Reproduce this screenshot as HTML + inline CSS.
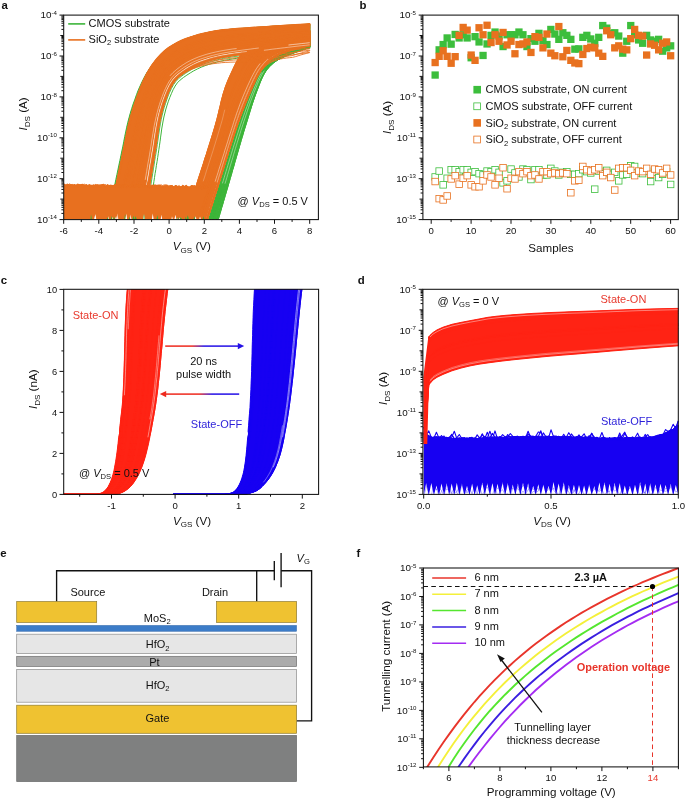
<!DOCTYPE html>
<html lang="en"><head><meta charset="utf-8"><title>Figure</title>
<style>html,body{margin:0;padding:0;background:#fff}svg{display:block}text{font-family:"Liberation Sans", Arial, Helvetica, sans-serif}</style>
</head><body>
<svg width="685" height="800" viewBox="0 0 685 800">
<rect width="685" height="800" fill="#fff"/>
<g id="panel-a">
<clipPath id="ca"><rect x="63.7" y="15.1" width="254.7" height="204.5"/></clipPath>
<g clip-path="url(#ca)" stroke-linejoin="round">
<polygon points="207.1,222 208.1,219 209.1,216 210,213 211,210 211.9,207 212.9,204 213.8,201 214.8,198.1 215.7,195.1 216.7,192.1 217.6,189.1 218.6,186.1 219.5,183.1 220.5,180.1 221.4,177.1 222.3,174.1 223.3,171.1 224.2,168.1 225.1,165.1 226,162.1 227,159.1 227.9,156.1 228.8,153 229.8,150 230.7,147 231.6,144.1 232.6,141.1 233.6,138.1 234.5,135.1 235.5,132.1 236.5,129.1 237.5,126.2 238.6,123.2 239.6,120.2 240.7,117.3 241.8,114.3 242.9,111.4 244,108.5 245.1,105.5 246.3,102.6 247.5,99.7 248.7,96.8 249.9,93.9 251.2,91 252.4,88.1 253.7,85.2 255,82.3 256.4,79.5 257.8,76.7 259.3,73.9 260.9,71.3 262.7,68.8 264.7,66.2 266.8,63.8 269,61.6 271.4,59.7 274,57.9 276.7,56.3 279.6,54.9 282.4,53.7 285.4,52.6 288.4,51.6 291.4,50.7 294.4,49.8 297.4,49 300.5,48.2 303.5,47.4 306.6,46.7 309.7,46.1 309.7,47.2 306.8,48.1 303.8,49 300.9,49.9 298,50.9 295.2,51.9 292.3,52.9 289.4,53.9 286.5,55 283.7,56.2 280.9,57.5 278.2,58.9 275.6,60.4 273.1,62.2 270.8,64.2 268.6,66.5 266.6,68.8 264.9,71.2 263.3,73.8 261.9,76.4 260.5,79.2 259.3,82 258.1,84.9 257,87.8 255.9,90.7 254.8,93.5 253.7,96.3 252.7,99.2 251.7,102.1 250.7,105 249.7,107.9 248.8,110.8 247.8,113.7 246.9,116.6 246,119.5 245,122.4 244.1,125.4 243.2,128.3 242.3,131.2 241.4,134.1 240.5,137 239.6,140 238.7,142.9 237.9,145.8 237,148.7 236.1,151.7 235.3,154.6 234.4,157.5 233.6,160.5 232.7,163.4 231.9,166.3 231,169.3 230.2,172.2 229.3,175.1 228.4,178.1 227.6,181 226.7,183.9 225.8,186.9 225,189.8 224.1,192.7 223.2,195.6 222.4,198.6 221.5,201.5 220.6,204.4 219.7,207.4 218.9,210.3 218,213.2 217.1,216.1 216.3,219.1 215.4,222" fill="#3DB53A" />
<polyline points="216.5,222 217.3,219.1 218.2,216.2 219,213.2 219.9,210.3 220.8,207.4 221.6,204.5 222.5,201.6 223.3,198.6 224.2,195.7 225.1,192.8 225.9,189.9 226.8,187 227.6,184 228.5,181.1 229.4,178.2 230.2,175.3 231,172.3 231.9,169.4 232.7,166.5 233.6,163.6 234.4,160.7 235.3,157.7 236.1,154.8 237,151.9 237.8,149 238.7,146 239.5,143.1 240.4,140.2 241.3,137.3 242.1,134.4 243,131.5 243.9,128.5 244.8,125.6 245.7,122.7 246.6,119.8 247.6,116.9 248.5,114 249.4,111.1 250.3,108.2 251.2,105.3 252.2,102.4 253.2,99.5 254.2,96.7 255.2,93.8 256.3,91 257.4,88.1 258.5,85.2 259.7,82.3 260.9,79.5 262.2,76.7 263.6,74.1 265.1,71.5 266.8,69.1 268.8,66.8 271,64.6 273.4,62.6 275.8,60.8 278.3,59.2 281.1,57.8 283.9,56.5 286.7,55.3 289.5,54.2 292.4,53.2 295.2,52.2 298.1,51.2 301,50.2 303.9,49.2 306.8,48.3 309.7,47.3 309.7,37.3 305.3,37.7 300.9,38.1 296.5,38.5 292.1,38.9 287.7,39.3 283.3,39.8 278.9,40.2 274.5,40.6 270.1,41.1 265.8,41.5 261.4,42 257,42.4 252.6,42.9 248.2,43.4 243.8,43.9 239.4,44.4 235,44.9 230.7,45.5 226.3,46.1 221.9,46.8 217.6,47.7 213.3,48.6 209,49.6 204.7,50.8 200.5,52.1 196.3,53.6 192.2,55.2 188.2,57 184.3,59.2 180.5,61.5 176.9,64.1 173.5,66.8 170.2,69.8 167.2,73.1 164.7,76.6 162.4,80.4 160.4,84.4 158.6,88.4 156.9,92.5 155.4,96.7 153.9,100.8 152.5,105.1 151.3,109.3 150.1,113.5 149.1,117.8 148.1,122.1 147.2,126.4 146.3,130.7 145.6,135.1 144.8,139.4 144.1,143.8 143.3,148.2 142.6,152.5 141.8,156.8 141,161.2 140.2,165.5 139.4,169.9 138.6,174.2 137.8,178.6 137,182.9 136.2,187.2 135.5,191.6 134.7,195.9 133.9,200.3 133.1,204.6 132.3,209 131.6,213.3 130.8,217.7 130,222" fill="none" stroke="#3DB53A" stroke-width="1.0" />
<polyline points="209.1,222 210,219 210.9,216 211.9,213.1 212.8,210.1 213.7,207.1 214.7,204.1 215.6,201.2 216.5,198.2 217.5,195.2 218.4,192.2 219.4,189.2 220.3,186.3 221.2,183.3 222.1,180.3 223.1,177.3 224,174.3 224.9,171.3 225.8,168.4 226.7,165.4 227.6,162.4 228.5,159.4 229.4,156.4 230.3,153.4 231.2,150.4 232.2,147.4 233.1,144.5 234,141.5 235,138.5 235.9,135.5 236.9,132.6 237.9,129.6 238.9,126.7 239.9,123.7 240.9,120.8 241.9,117.8 243,114.9 244,111.9 245.1,109 246.2,106.1 247.3,103.2 248.4,100.2 249.6,97.4 250.8,94.5 252,91.6 253.2,88.7 254.5,85.8 255.7,82.9 257.1,80.1 258.4,77.3 259.9,74.5 261.5,71.9 263.2,69.3 265.1,66.8 267.2,64.4 269.4,62.2 271.8,60.3 274.4,58.5 277.1,56.9 279.9,55.5 282.7,54.3 285.6,53.2 288.6,52.1 291.6,51.2 294.6,50.3 297.6,49.4 300.6,48.6 303.6,47.8 306.6,47 309.7,46.3 309.7,40.3 305.4,40.7 301.1,41.1 296.8,41.6 292.5,42 288.2,42.4 283.9,42.9 279.6,43.4 275.3,43.8 271,44.3 266.7,44.8 262.4,45.3 258.1,45.8 253.8,46.3 249.5,46.8 245.2,47.3 240.9,47.8 236.6,48.4 232.3,49 228.1,49.6 223.8,50.3 219.5,51.1 215.3,52 211.1,53 206.9,54.2 202.7,55.5 198.7,56.9 194.7,58.5 190.7,60.3 186.9,62.3 183.2,64.6 179.6,67.1 176.2,69.7 172.9,72.6 170,75.8 167.5,79.2 165.3,83 163.4,86.9 161.6,90.9 160,94.9 158.6,98.9 157.2,103.1 155.9,107.2 154.7,111.4 153.7,115.6 152.7,119.8 151.8,124 151,128.2 150.2,132.5 149.5,136.7 148.8,141 148.1,145.3 147.4,149.6 146.7,153.8 145.9,158.1 145.2,162.3 144.4,166.6 143.7,170.9 142.9,175.1 142.2,179.4 141.5,183.6 140.7,187.9 140,192.2 139.2,196.4 138.5,200.7 137.8,205 137,209.2 136.3,213.5 135.6,217.7 134.8,222" fill="none" stroke="#3DB53A" stroke-width="1.0" />
<polyline points="216.2,222 217.1,219.1 217.9,216.2 218.8,213.2 219.7,210.3 220.5,207.4 221.4,204.5 222.2,201.5 223.1,198.6 224,195.7 224.8,192.8 225.7,189.9 226.6,186.9 227.4,184 228.3,181.1 229.1,178.2 230,175.2 230.8,172.3 231.7,169.4 232.5,166.5 233.4,163.5 234.2,160.6 235.1,157.7 235.9,154.8 236.8,151.8 237.6,148.9 238.5,146 239.3,143.1 240.2,140.1 241.1,137.2 242,134.3 242.9,131.4 243.7,128.5 244.6,125.6 245.6,122.7 246.5,119.8 247.4,116.9 248.3,113.9 249.2,111 250.2,108.1 251.1,105.2 252.1,102.3 253,99.5 254.1,96.6 255.1,93.7 256.2,90.9 257.3,88 258.4,85.1 259.6,82.3 260.8,79.4 262.1,76.7 263.5,74 265.1,71.5 266.8,69.1 268.8,66.7 271,64.5 273.3,62.5 275.7,60.7 278.3,59.1 281,57.7 283.8,56.4 286.6,55.2 289.5,54.1 292.3,53.1 295.2,52.1 298.1,51.1 301,50.1 303.9,49.2 306.8,48.2 309.7,47.3 309.7,30.9 305.1,31.2 300.5,31.6 295.9,31.9 291.3,32.3 286.7,32.6 282.1,33 277.5,33.3 272.9,33.7 268.3,34.1 263.8,34.5 259.2,34.9 254.6,35.3 250,35.7 245.4,36.1 240.8,36.5 236.2,37 231.6,37.5 227.1,38 222.5,38.6 218,39.3 213.4,40.2 208.9,41.2 204.4,42.3 200,43.5 195.6,44.9 191.2,46.4 187,48.1 182.8,50.1 178.7,52.4 174.8,54.9 171.1,57.6 167.6,60.5 164.4,63.8 161.3,67.3 158.6,71 156.1,75 153.9,79 152,83.1 150.1,87.4 148.4,91.7 146.8,96 145.3,100.4 143.9,104.8 142.5,109.2 141.2,113.6 140.1,118 139,122.5 138,127 137,131.5 136.2,136 135.3,140.6 134.5,145.1 133.7,149.6 132.8,154.2 131.9,158.7 131,163.2 130.1,167.7 129.3,172.3 128.4,176.8 127.5,181.3 126.6,185.8 125.7,190.3 124.9,194.9 124,199.4 123.1,203.9 122.2,208.4 121.3,213 120.5,217.5 119.6,222" fill="none" stroke="#3DB53A" stroke-width="1.0" />
<polyline points="215.6,222 216.5,219.1 217.4,216.1 218.2,213.2 219.1,210.3 220,207.4 220.8,204.4 221.7,201.5 222.6,198.6 223.4,195.7 224.3,192.7 225.2,189.8 226.1,186.9 226.9,184 227.8,181 228.6,178.1 229.5,175.2 230.4,172.2 231.2,169.3 232.1,166.4 232.9,163.4 233.8,160.5 234.6,157.6 235.5,154.6 236.3,151.7 237.2,148.8 238,145.9 238.9,142.9 239.8,140 240.7,137.1 241.6,134.2 242.4,131.2 243.3,128.3 244.3,125.4 245.2,122.5 246.1,119.6 247,116.7 248,113.8 248.9,110.9 249.8,108 250.8,105.1 251.8,102.2 252.8,99.3 253.8,96.4 254.9,93.6 256,90.7 257.1,87.9 258.2,85 259.4,82.1 260.6,79.2 261.9,76.5 263.4,73.8 264.9,71.3 266.7,68.9 268.7,66.5 270.9,64.3 273.2,62.3 275.6,60.5 278.2,58.9 280.9,57.5 283.7,56.3 286.6,55.1 289.4,54 292.3,52.9 295.2,51.9 298.1,51 301,50 303.9,49 306.8,48.1 309.7,47.2 309.7,25.1 304.9,25.4 300.1,25.6 295.4,25.9 290.6,26.2 285.8,26.5 281,26.8 276.3,27.1 271.5,27.5 266.7,27.8 261.9,28.1 257.2,28.5 252.4,28.8 247.6,29.1 242.8,29.4 238.1,29.8 233.3,30.2 228.5,30.7 223.8,31.2 219.1,31.7 214.3,32.5 209.6,33.4 204.9,34.5 200.3,35.6 195.7,36.9 191.1,38.3 186.6,40 182.2,41.8 177.9,43.8 173.6,46.2 169.6,48.8 165.8,51.7 162.3,54.8 159.1,58.3 156,62 153.1,66 150.5,70 148.1,74.1 145.9,78.4 144,82.7 142.1,87.2 140.4,91.7 138.7,96.2 137.1,100.7 135.6,105.2 134.1,109.8 132.8,114.4 131.5,119 130.4,123.6 129.3,128.3 128.3,132.9 127.4,137.6 126.5,142.3 125.6,147 124.6,151.7 123.7,156.4 122.7,161.1 121.7,165.8 120.8,170.5 119.8,175.2 118.8,179.8 117.9,184.5 116.9,189.2 115.9,193.9 115,198.6 114,203.3 113,207.9 112.1,212.6 111.1,217.3 110.1,222" fill="none" stroke="#3DB53A" stroke-width="1.0" />
<polyline points="211.7,222 212.7,219 213.6,216.1 214.5,213.1 215.4,210.2 216.3,207.2 217.2,204.3 218.1,201.3 219,198.3 219.9,195.4 220.8,192.4 221.7,189.5 222.6,186.5 223.5,183.6 224.4,180.6 225.3,177.6 226.2,174.7 227.1,171.7 228,168.7 228.9,165.8 229.8,162.8 230.6,159.8 231.5,156.9 232.4,153.9 233.3,151 234.2,148 235.1,145 236,142.1 236.9,139.1 237.9,136.2 238.8,133.2 239.7,130.3 240.7,127.3 241.7,124.4 242.6,121.5 243.6,118.5 244.6,115.6 245.6,112.7 246.6,109.8 247.7,106.8 248.7,103.9 249.8,101 250.9,98.1 252,95.3 253.2,92.4 254.3,89.5 255.5,86.7 256.7,83.8 258,80.9 259.3,78.1 260.7,75.3 262.3,72.7 263.9,70.1 265.7,67.7 267.8,65.3 270,63.1 272.4,61.1 274.9,59.3 277.5,57.7 280.3,56.3 283.1,55.1 286,53.9 288.9,52.9 291.9,51.9 294.8,51 297.8,50.1 300.7,49.2 303.7,48.3 306.7,47.5 309.7,46.7 309.7,40.7 305.4,41.1 301.1,41.6 296.8,42 292.5,42.4 288.2,42.9 283.9,43.4 279.7,43.8 275.4,44.3 271.1,44.8 266.8,45.3 262.5,45.7 258.2,46.2 254,46.7 249.7,47.2 245.4,47.8 241.1,48.3 236.8,48.9 232.6,49.5 228.3,50.1 224,50.8 219.8,51.6 215.6,52.5 211.4,53.5 207.2,54.7 203.1,56 199,57.4 195,58.9 191.1,60.7 187.3,62.8 183.6,65.1 180,67.5 176.6,70.1 173.3,73 170.4,76.2 167.9,79.6 165.7,83.3 163.8,87.2 162.1,91.2 160.5,95.2 159,99.3 157.6,103.4 156.4,107.5 155.2,111.7 154.2,115.8 153.2,120 152.3,124.2 151.5,128.5 150.8,132.7 150.1,137 149.4,141.2 148.7,145.5 148,149.8 147.3,154 146.5,158.3 145.8,162.5 145,166.8 144.3,171 143.6,175.3 142.8,179.5 142.1,183.8 141.3,188 140.6,192.3 139.9,196.5 139.2,200.7 138.4,205 137.7,209.2 137,213.5 136.2,217.7 135.5,222" fill="none" stroke="#3DB53A" stroke-width="1.0" />
<polyline points="209.7,222 210.6,219 211.5,216.1 212.4,213.1 213.4,210.1 214.3,207.1 215.2,204.2 216.2,201.2 217.1,198.2 218,195.2 218.9,192.3 219.9,189.3 220.8,186.3 221.7,183.3 222.6,180.4 223.6,177.4 224.5,174.4 225.4,171.4 226.3,168.4 227.2,165.5 228.1,162.5 229,159.5 229.9,156.5 230.8,153.5 231.7,150.5 232.6,147.6 233.5,144.6 234.5,141.6 235.4,138.6 236.4,135.7 237.3,132.7 238.3,129.8 239.3,126.8 240.3,123.9 241.3,120.9 242.3,118 243.3,115 244.4,112.1 245.4,109.2 246.5,106.2 247.6,103.3 248.7,100.4 249.9,97.5 251.1,94.6 252.3,91.8 253.5,88.9 254.7,86 256,83.1 257.3,80.2 258.6,77.4 260.1,74.7 261.7,72.1 263.4,69.5 265.3,67 267.3,64.6 269.6,62.4 271.9,60.5 274.5,58.7 277.2,57.1 280,55.7 282.8,54.5 285.7,53.3 288.7,52.3 291.7,51.4 294.6,50.4 297.6,49.6 300.6,48.7 303.6,47.9 306.6,47.1 309.7,46.4 309.7,31 305.1,31.3 300.5,31.6 295.9,32 291.3,32.3 286.7,32.7 282.1,33 277.5,33.4 273,33.8 268.4,34.2 263.8,34.6 259.2,35 254.6,35.3 250,35.7 245.4,36.1 240.8,36.6 236.2,37 231.7,37.5 227.1,38.1 222.5,38.7 218,39.4 213.5,40.3 209,41.3 204.5,42.4 200,43.6 195.6,45 191.2,46.5 187,48.2 182.9,50.2 178.8,52.4 174.8,54.9 171.2,57.6 167.7,60.6 164.4,63.8 161.4,67.4 158.7,71.1 156.2,75 154,79.1 152,83.2 150.2,87.4 148.5,91.7 146.9,96.1 145.4,100.4 143.9,104.8 142.6,109.2 141.3,113.6 140.1,118.1 139,122.5 138,127 137.1,131.5 136.3,136.1 135.4,140.6 134.6,145.1 133.7,149.7 132.9,154.2 132,158.7 131.1,163.2 130.2,167.7 129.3,172.3 128.5,176.8 127.6,181.3 126.7,185.8 125.8,190.4 124.9,194.9 124.1,199.4 123.2,203.9 122.3,208.4 121.4,213 120.6,217.5 119.7,222" fill="none" stroke="#3DB53A" stroke-width="1.0" />
<polyline points="211.5,222 212.4,219 213.3,216.1 214.2,213.1 215.1,210.2 216,207.2 217,204.2 217.9,201.3 218.8,198.3 219.7,195.4 220.6,192.4 221.5,189.5 222.4,186.5 223.3,183.5 224.2,180.6 225.1,177.6 226,174.6 226.9,171.7 227.8,168.7 228.7,165.7 229.6,162.8 230.4,159.8 231.3,156.8 232.2,153.9 233.1,150.9 234,147.9 234.9,145 235.8,142 236.8,139.1 237.7,136.1 238.6,133.2 239.6,130.2 240.5,127.3 241.5,124.3 242.5,121.4 243.5,118.5 244.5,115.5 245.5,112.6 246.5,109.7 247.5,106.8 248.6,103.9 249.7,101 250.8,98.1 251.9,95.2 253.1,92.3 254.2,89.5 255.4,86.6 256.6,83.7 257.9,80.8 259.2,78 260.7,75.2 262.2,72.6 263.8,70.1 265.7,67.6 267.7,65.2 270,63 272.3,61 274.8,59.2 277.5,57.6 280.3,56.2 283.1,55 286,53.9 288.9,52.8 291.8,51.8 294.8,50.9 297.8,50 300.7,49.1 303.7,48.3 306.7,47.4 309.7,46.7 309.7,30 305.1,30.3 300.4,30.7 295.8,31 291.2,31.3 286.6,31.7 282,32 277.3,32.4 272.7,32.8 268.1,33.1 263.5,33.5 258.9,33.9 254.2,34.3 249.6,34.7 245,35.1 240.4,35.5 235.8,35.9 231.2,36.4 226.6,36.9 222,37.5 217.4,38.3 212.8,39.2 208.3,40.2 203.8,41.3 199.3,42.5 194.9,43.9 190.5,45.4 186.2,47.2 182,49.1 177.9,51.4 174,53.9 170.3,56.7 166.8,59.6 163.5,62.9 160.5,66.5 157.8,70.3 155.3,74.2 153,78.3 151,82.4 149.2,86.7 147.5,91 145.8,95.4 144.3,99.7 142.8,104.1 141.4,108.6 140.1,113 138.9,117.5 137.8,122 136.8,126.5 135.9,131 135,135.6 134.1,140.1 133.3,144.7 132.4,149.2 131.5,153.8 130.6,158.3 129.7,162.9 128.8,167.4 127.9,172 127.1,176.5 126.2,181.1 125.3,185.6 124.4,190.2 123.5,194.7 122.6,199.3 121.7,203.8 120.8,208.4 119.9,212.9 119,217.5 118.1,222" fill="none" stroke="#3DB53A" stroke-width="1.0" />
<polyline points="212.7,222 213.6,219.1 214.5,216.1 215.4,213.2 216.3,210.2 217.2,207.3 218.1,204.3 219,201.4 219.9,198.4 220.8,195.5 221.7,192.5 222.6,189.6 223.5,186.6 224.4,183.7 225.2,180.7 226.1,177.7 227,174.8 227.9,171.8 228.8,168.9 229.6,165.9 230.5,163 231.4,160 232.3,157 233.2,154.1 234,151.1 234.9,148.2 235.8,145.2 236.7,142.3 237.6,139.3 238.5,136.4 239.5,133.4 240.4,130.5 241.3,127.6 242.3,124.6 243.2,121.7 244.2,118.8 245.2,115.9 246.2,113 247.2,110 248.2,107.1 249.2,104.2 250.3,101.3 251.3,98.4 252.4,95.5 253.6,92.7 254.7,89.8 255.9,86.9 257.1,84.1 258.3,81.2 259.6,78.4 261,75.6 262.5,73 264.2,70.4 266,68 268,65.6 270.2,63.4 272.6,61.4 275.1,59.6 277.7,58 280.5,56.6 283.3,55.4 286.1,54.2 289,53.1 292,52.2 294.9,51.2 297.8,50.3 300.8,49.4 303.7,48.5 306.7,47.6 309.7,46.8 309.7,34.9 305.2,35.3 300.7,35.7 296.3,36.1 291.8,36.4 287.3,36.8 282.9,37.2 278.4,37.7 273.9,38.1 269.5,38.5 265,38.9 260.5,39.4 256.1,39.8 251.6,40.2 247.1,40.7 242.7,41.1 238.2,41.6 233.8,42.2 229.3,42.7 224.9,43.3 220.5,44 216,44.9 211.7,45.9 207.3,46.9 203,48.1 198.6,49.4 194.4,50.9 190.3,52.6 186.2,54.5 182.2,56.7 178.4,59.1 174.8,61.7 171.3,64.5 168,67.6 165,70.9 162.4,74.6 160.1,78.4 158,82.4 156.1,86.5 154.4,90.6 152.8,94.8 151.3,99.1 149.9,103.3 148.5,107.6 147.3,111.9 146.2,116.2 145.1,120.6 144.1,125 143.2,129.3 142.4,133.8 141.6,138.2 140.8,142.6 140,147 139.3,151.4 138.4,155.9 137.6,160.3 136.8,164.7 136,169.1 135.1,173.5 134.3,177.9 133.5,182.3 132.7,186.7 131.9,191.1 131,195.5 130.2,199.9 129.4,204.4 128.6,208.8 127.8,213.2 127,217.6 126.1,222" fill="none" stroke="#3DB53A" stroke-width="1.0" />
<polyline points="215.3,222 216.2,219.1 217.1,216.1 217.9,213.2 218.8,210.3 219.7,207.4 220.5,204.4 221.4,201.5 222.3,198.6 223.2,195.6 224,192.7 224.9,189.8 225.8,186.9 226.6,183.9 227.5,181 228.4,178.1 229.2,175.1 230.1,172.2 230.9,169.3 231.8,166.3 232.7,163.4 233.5,160.5 234.4,157.5 235.2,154.6 236.1,151.7 236.9,148.7 237.8,145.8 238.7,142.9 239.6,139.9 240.4,137 241.3,134.1 242.2,131.2 243.1,128.2 244,125.3 245,122.4 245.9,119.5 246.8,116.6 247.8,113.7 248.7,110.8 249.7,107.9 250.6,105 251.6,102.1 252.6,99.2 253.7,96.3 254.7,93.5 255.8,90.6 257,87.8 258.1,84.9 259.3,82 260.5,79.1 261.8,76.4 263.3,73.7 264.8,71.2 266.6,68.8 268.6,66.4 270.8,64.2 273.1,62.2 275.6,60.4 278.1,58.8 280.9,57.4 283.7,56.2 286.5,55 289.4,53.9 292.2,52.9 295.1,51.9 298,50.9 300.9,49.9 303.8,49 306.8,48.1 309.7,47.2 309.7,44.6 305.5,45.1 301.3,45.5 297.2,46 293,46.5 288.8,47 284.7,47.5 280.5,48 276.4,48.5 272.2,49 268,49.6 263.9,50.1 259.7,50.6 255.5,51.2 251.4,51.7 247.2,52.3 243.1,52.9 238.9,53.5 234.8,54.1 230.6,54.7 226.5,55.4 222.4,56.2 218.3,57 214.2,58 210.1,59.1 206.1,60.4 202.1,61.7 198.2,63.2 194.4,65 190.7,67 187.1,69.1 183.6,71.5 180.1,74 176.9,76.7 174,79.7 171.6,83 169.6,86.7 167.7,90.5 166.1,94.4 164.6,98.3 163.2,102.3 162,106.3 160.8,110.4 159.7,114.4 158.8,118.5 158,122.6 157.2,126.7 156.6,130.9 155.9,135 155.3,139.2 154.7,143.3 154,147.5 153.4,151.6 152.7,155.8 152,159.9 151.3,164 150.6,168.2 150,172.3 149.3,176.5 148.6,180.6 147.9,184.7 147.2,188.9 146.6,193 145.9,197.2 145.2,201.3 144.5,205.4 143.9,209.6 143.2,213.7 142.5,217.9 141.9,222" fill="none" stroke="#3DB53A" stroke-width="1.0" />
<polyline points="217.5,222 218.3,219.1 219.2,216.2 220,213.3 220.9,210.4 221.7,207.4 222.6,204.5 223.4,201.6 224.3,198.7 225.1,195.8 226,192.9 226.8,190 227.7,187.1 228.5,184.1 229.4,181.2 230.2,178.3 231.1,175.4 231.9,172.5 232.7,169.6 233.6,166.7 234.4,163.7 235.2,160.8 236.1,157.9 236.9,155 237.8,152.1 238.6,149.2 239.4,146.2 240.3,143.3 241.1,140.4 242,137.5 242.9,134.6 243.7,131.7 244.6,128.8 245.5,125.9 246.4,123 247.3,120.1 248.2,117.2 249.1,114.3 250,111.4 250.9,108.5 251.8,105.6 252.7,102.7 253.7,99.8 254.6,97 255.7,94.1 256.7,91.3 257.8,88.4 258.9,85.5 260,82.6 261.2,79.8 262.5,77 263.9,74.4 265.4,71.8 267.1,69.5 269.1,67.1 271.3,64.9 273.6,62.9 276,61.1 278.5,59.5 281.2,58.1 284,56.8 286.8,55.6 289.6,54.5 292.5,53.4 295.3,52.4 298.2,51.4 301.1,50.4 303.9,49.4 306.8,48.4 309.7,47.5 309.7,37.3 305.3,37.6 300.9,38 296.5,38.4 292.1,38.9 287.7,39.3 283.3,39.7 278.9,40.1 274.5,40.6 270.1,41 265.7,41.5 261.3,41.9 256.9,42.4 252.6,42.8 248.2,43.3 243.8,43.8 239.4,44.3 235,44.9 230.6,45.4 226.3,46.1 221.9,46.8 217.6,47.6 213.2,48.5 209,49.6 204.7,50.7 200.4,52.1 196.2,53.5 192.2,55.1 188.2,57 184.2,59.1 180.5,61.5 176.9,64 173.4,66.7 170.1,69.8 167.2,73 164.6,76.6 162.4,80.4 160.3,84.3 158.5,88.4 156.8,92.5 155.3,96.6 153.8,100.8 152.5,105 151.2,109.2 150.1,113.5 149,117.8 148,122.1 147.1,126.4 146.3,130.7 145.5,135.1 144.7,139.4 144,143.8 143.2,148.1 142.5,152.5 141.7,156.8 140.9,161.2 140.1,165.5 139.3,169.9 138.5,174.2 137.7,178.5 136.9,182.9 136.2,187.2 135.4,191.6 134.6,195.9 133.8,200.3 133,204.6 132.2,209 131.5,213.3 130.7,217.7 129.9,222" fill="none" stroke="#3DB53A" stroke-width="1.0" />
<polyline points="215.9,222 216.8,219.1 217.7,216.2 218.5,213.2 219.4,210.3 220.3,207.4 221.1,204.5 222,201.5 222.9,198.6 223.7,195.7 224.6,192.8 225.5,189.8 226.3,186.9 227.2,184 228.1,181.1 228.9,178.1 229.8,175.2 230.6,172.3 231.5,169.3 232.3,166.4 233.2,163.5 234,160.6 234.9,157.6 235.7,154.7 236.6,151.8 237.4,148.8 238.3,145.9 239.2,143 240,140.1 240.9,137.2 241.8,134.2 242.7,131.3 243.6,128.4 244.5,125.5 245.4,122.6 246.3,119.7 247.2,116.8 248.2,113.9 249.1,111 250,108.1 251,105.2 251.9,102.3 252.9,99.4 253.9,96.5 255,93.7 256.1,90.8 257.2,88 258.3,85.1 259.5,82.2 260.7,79.3 262,76.6 263.4,73.9 265,71.4 266.7,69 268.7,66.6 270.9,64.4 273.3,62.4 275.7,60.6 278.2,59 281,57.6 283.8,56.4 286.6,55.2 289.4,54.1 292.3,53 295.2,52 298.1,51 301,50.1 303.9,49.1 306.8,48.2 309.7,47.3 309.7,48.2 305.6,48.7 301.6,49.2 297.5,49.7 293.5,50.2 289.4,50.8 285.3,51.3 281.3,51.8 277.2,52.4 273.2,52.9 269.1,53.5 265.1,54.1 261,54.6 257,55.2 253,55.8 248.9,56.4 244.9,57 240.8,57.7 236.8,58.3 232.7,58.9 228.7,59.6 224.7,60.3 220.7,61.2 216.7,62.1 212.8,63.2 208.8,64.4 205,65.7 201.2,67.2 197.5,68.9 193.8,70.8 190.3,72.9 186.9,75.1 183.4,77.5 180.1,80.1 177.3,82.9 175.1,86.1 173.1,89.7 171.4,93.6 169.8,97.4 168.4,101.2 167.1,105.1 165.9,109 164.9,113 163.9,117 163.1,121 162.4,125 161.7,129 161.2,133 160.6,137.1 160.1,141.2 159.5,145.2 158.9,149.3 158.3,153.3 157.7,157.4 157.1,161.4 156.4,165.4 155.8,169.5 155.1,173.5 154.5,177.6 153.9,181.6 153.3,185.6 152.6,189.7 152,193.7 151.4,197.8 150.8,201.8 150.2,205.8 149.5,209.9 148.9,213.9 148.3,218 147.7,222" fill="none" stroke="#3DB53A" stroke-width="1.0" />
<polyline points="216.5,222 217.4,219.1 218.2,216.2 219.1,213.2 219.9,210.3 220.8,207.4 221.7,204.5 222.5,201.6 223.4,198.6 224.2,195.7 225.1,192.8 226,189.9 226.8,187 227.7,184 228.5,181.1 229.4,178.2 230.2,175.3 231.1,172.4 231.9,169.4 232.8,166.5 233.6,163.6 234.5,160.7 235.3,157.7 236.1,154.8 237,151.9 237.8,149 238.7,146 239.6,143.1 240.4,140.2 241.3,137.3 242.2,134.4 243.1,131.5 243.9,128.6 244.8,125.6 245.7,122.7 246.7,119.8 247.6,116.9 248.5,114 249.4,111.1 250.3,108.2 251.3,105.3 252.2,102.4 253.2,99.5 254.2,96.7 255.2,93.8 256.3,91 257.4,88.1 258.5,85.2 259.7,82.3 260.9,79.5 262.2,76.7 263.6,74.1 265.1,71.6 266.9,69.1 268.8,66.8 271,64.6 273.4,62.6 275.8,60.8 278.3,59.2 281.1,57.8 283.9,56.5 286.7,55.3 289.5,54.2 292.4,53.2 295.2,52.2 298.1,51.2 301,50.2 303.9,49.2 306.8,48.3 309.7,47.4 309.7,24.6 304.9,24.8 300.1,25.1 295.3,25.4 290.5,25.6 285.7,25.9 280.9,26.2 276.1,26.6 271.4,26.9 266.6,27.2 261.8,27.5 257,27.9 252.2,28.2 247.4,28.5 242.6,28.8 237.8,29.2 233,29.6 228.2,30 223.5,30.5 218.7,31.1 214,31.9 209.3,32.8 204.6,33.9 199.9,35 195.3,36.3 190.7,37.7 186.1,39.3 181.7,41.2 177.4,43.2 173.2,45.6 169.1,48.3 165.3,51.1 161.8,54.2 158.4,57.6 155.1,61.2 152.1,65.1 149.3,69 146.7,73 144.4,77.1 142.2,81.4 140.2,85.8 138.2,90.2 136.5,94.7 134.9,99.3 133.2,103.9 131.7,108.5 130.3,113.1 129,117.8 127.8,122.4 126.7,127.2 125.7,131.9 124.7,136.6 123.8,141.4 122.9,146.2 121.9,150.9 120.9,155.6 119.9,160.4 118.9,165.1 117.9,169.9 116.9,174.6 115.9,179.3 114.9,184.1 113.9,188.8 112.9,193.6 111.9,198.3 110.9,203 109.9,207.8 108.9,212.5 107.9,217.3 107,222" fill="none" stroke="#3DB53A" stroke-width="1.0" />
<polyline points="217.2,222 218,219.1 218.9,216.2 219.7,213.3 220.6,210.3 221.4,207.4 222.3,204.5 223.1,201.6 224,198.7 224.8,195.8 225.7,192.9 226.5,189.9 227.4,187 228.2,184.1 229.1,181.2 229.9,178.3 230.8,175.4 231.6,172.4 232.5,169.5 233.3,166.6 234.1,163.7 235,160.8 235.8,157.8 236.7,154.9 237.5,152 238.4,149.1 239.2,146.2 240.1,143.3 240.9,140.4 241.8,137.4 242.6,134.5 243.5,131.6 244.4,128.7 245.3,125.8 246.2,122.9 247.1,120 248,117.1 248.9,114.2 249.8,111.3 250.7,108.4 251.6,105.5 252.5,102.6 253.5,99.7 254.5,96.9 255.5,94 256.6,91.2 257.7,88.3 258.8,85.4 259.9,82.6 261.1,79.7 262.4,76.9 263.8,74.3 265.3,71.8 267,69.4 269,67 271.2,64.8 273.5,62.8 275.9,61 278.5,59.4 281.2,58 284,56.7 286.8,55.5 289.6,54.4 292.4,53.3 295.3,52.3 298.2,51.3 301,50.3 303.9,49.3 306.8,48.4 309.7,47.4 309.7,24.6 304.9,24.8 300.1,25.1 295.3,25.4 290.5,25.6 285.7,25.9 280.9,26.2 276.1,26.6 271.4,26.9 266.6,27.2 261.8,27.5 257,27.9 252.2,28.2 247.4,28.5 242.6,28.8 237.8,29.2 233,29.6 228.2,30 223.5,30.5 218.7,31.1 214,31.9 209.3,32.8 204.6,33.9 199.9,35 195.3,36.3 190.7,37.7 186.1,39.3 181.7,41.2 177.4,43.2 173.2,45.6 169.1,48.3 165.3,51.1 161.8,54.2 158.4,57.6 155.2,61.3 152.2,65.2 149.4,69.1 146.9,73.1 144.6,77.3 142.5,81.6 140.5,86 138.6,90.5 136.9,95 135.2,99.5 133.6,104.1 132.1,108.7 130.7,113.3 129.4,118 128.2,122.6 127.1,127.3 126.1,132.1 125.2,136.8 124.2,141.6 123.3,146.3 122.3,151 121.3,155.8 120.4,160.5 119.4,165.2 118.4,170 117.4,174.7 116.4,179.4 115.4,184.2 114.4,188.9 113.4,193.6 112.4,198.3 111.4,203.1 110.5,207.8 109.5,212.5 108.5,217.3 107.5,222" fill="none" stroke="#3DB53A" stroke-width="1.0" />
<polyline points="217.6,222 218.4,219.1 219.3,216.2 220.1,213.3 221,210.4 221.8,207.4 222.7,204.5 223.5,201.6 224.4,198.7 225.2,195.8 226.1,192.9 226.9,190 227.8,187.1 228.6,184.2 229.5,181.2 230.3,178.3 231.2,175.4 232,172.5 232.8,169.6 233.7,166.7 234.5,163.8 235.3,160.8 236.2,157.9 237,155 237.8,152.1 238.7,149.2 239.5,146.3 240.4,143.4 241.2,140.5 242.1,137.5 243,134.6 243.8,131.7 244.7,128.8 245.6,125.9 246.5,123 247.4,120.1 248.3,117.2 249.1,114.3 250,111.4 250.9,108.5 251.8,105.6 252.8,102.7 253.7,99.9 254.7,97 255.7,94.2 256.8,91.3 257.9,88.5 259,85.6 260.1,82.7 261.3,79.8 262.5,77.1 263.9,74.4 265.4,71.9 267.1,69.5 269.1,67.2 271.3,64.9 273.6,62.9 276,61.1 278.5,59.5 281.2,58.1 284,56.9 286.8,55.6 289.6,54.5 292.5,53.5 295.3,52.4 298.2,51.4 301.1,50.4 303.9,49.4 306.8,48.5 309.7,47.5 309.7,24.2 304.9,24.4 300.1,24.7 295.3,25 290.5,25.2 285.7,25.5 280.9,25.8 276.1,26.1 271.3,26.4 266.5,26.8 261.7,27.1 256.9,27.4 252,27.7 247.2,28.1 242.4,28.4 237.6,28.7 232.8,29.1 228,29.6 223.3,30.1 218.5,30.6 213.8,31.4 209,32.3 204.3,33.4 199.7,34.5 195,35.8 190.4,37.3 185.8,38.9 181.4,40.7 177.1,42.8 172.8,45.2 168.7,47.8 164.9,50.7 161.5,53.9 158.2,57.4 155.1,61.2 152.2,65.2 149.5,69.2 147.1,73.3 145,77.6 143,82 141.1,86.5 139.4,91 137.7,95.5 136,100 134.5,104.6 133,109.2 131.6,113.8 130.3,118.4 129.1,123 128.1,127.7 127.1,132.4 126.1,137.2 125.2,141.9 124.3,146.6 123.3,151.3 122.3,156 121.4,160.8 120.4,165.5 119.4,170.2 118.4,174.9 117.4,179.6 116.5,184.3 115.5,189 114.5,193.7 113.5,198.4 112.5,203.2 111.6,207.9 110.6,212.6 109.6,217.3 108.6,222" fill="none" stroke="#3DB53A" stroke-width="1.0" />
<polyline points="213.2,222 214.1,219.1 215,216.1 215.9,213.2 216.8,210.2 217.7,207.3 218.6,204.3 219.4,201.4 220.3,198.4 221.2,195.5 222.1,192.5 223,189.6 223.9,186.7 224.8,183.7 225.7,180.8 226.6,177.8 227.4,174.9 228.3,171.9 229.2,169 230.1,166 230.9,163 231.8,160.1 232.7,157.1 233.6,154.2 234.4,151.2 235.3,148.3 236.2,145.3 237.1,142.4 238,139.5 238.9,136.5 239.8,133.6 240.8,130.6 241.7,127.7 242.6,124.8 243.6,121.9 244.5,118.9 245.5,116 246.5,113.1 247.5,110.2 248.5,107.3 249.5,104.4 250.5,101.5 251.6,98.6 252.7,95.7 253.8,92.8 254.9,90 256.1,87.1 257.3,84.2 258.5,81.3 259.8,78.5 261.2,75.8 262.7,73.1 264.3,70.6 266.1,68.1 268.1,65.8 270.3,63.5 272.7,61.5 275.2,59.8 277.8,58.2 280.5,56.8 283.4,55.5 286.2,54.4 289.1,53.3 292,52.3 295,51.3 297.9,50.4 300.8,49.5 303.8,48.6 306.7,47.7 309.7,46.9 309.7,46.6 305.6,47 301.5,47.5 297.4,48 293.3,48.5 289.1,49 285,49.6 280.9,50.1 276.8,50.6 272.7,51.2 268.6,51.7 264.5,52.2 260.4,52.8 256.3,53.4 252.2,53.9 248.1,54.5 244.1,55.1 240,55.8 235.9,56.4 231.8,57 227.7,57.7 223.6,58.4 219.6,59.3 215.6,60.3 211.5,61.4 207.6,62.6 203.7,63.9 199.8,65.4 196.1,67.1 192.4,69 188.8,71.2 185.4,73.4 181.9,75.9 178.6,78.6 175.8,81.5 173.5,84.7 171.5,88.3 169.7,92.2 168.1,96 166.7,99.9 165.4,103.8 164.1,107.8 163,111.8 162,115.8 161.1,119.8 160.4,123.9 159.7,128 159.1,132 158.5,136.1 157.9,140.3 157.3,144.4 156.7,148.5 156.1,152.6 155.4,156.6 154.7,160.7 154.1,164.8 153.4,168.9 152.8,173 152.1,177.1 151.5,181.1 150.8,185.2 150.2,189.3 149.5,193.4 148.9,197.5 148.2,201.6 147.6,205.7 147,209.7 146.3,213.8 145.7,217.9 145,222" fill="none" stroke="#3DB53A" stroke-width="0.9" />
<polygon points="108.9,222 109.9,217.3 110.9,212.6 111.8,207.9 112.8,203.2 113.8,198.5 114.8,193.8 115.7,189.1 116.7,184.4 117.7,179.6 118.7,174.9 119.7,170.2 120.6,165.5 121.6,160.8 122.6,156.1 123.6,151.4 124.5,146.7 125.4,142 126.4,137.2 127.3,132.5 128.3,127.8 129.4,123.1 130.5,118.5 131.8,113.9 133.2,109.3 134.7,104.7 136.2,100.1 137.9,95.6 139.6,91.1 141.3,86.6 143.2,82.1 145.2,77.7 147.3,73.5 149.7,69.4 152.4,65.3 155.2,61.4 158.4,57.6 161.7,54.1 165.1,50.9 168.9,48 173,45.4 177.2,43 181.6,40.9 186,39.1 190.5,37.5 195.1,36 199.8,34.7 204.4,33.6 209.1,32.5 213.9,31.6 218.6,30.8 223.4,30.3 228.1,29.8 232.9,29.3 237.7,28.9 242.5,28.6 247.3,28.2 252.1,27.9 256.9,27.6 261.7,27.3 266.5,27 271.3,26.6 276.1,26.3 280.9,26 285.7,25.7 290.5,25.4 295.3,25.1 300.1,24.9 304.9,24.6 309.7,24.3 309.7,43.6 305.5,44.1 301.3,44.5 297.1,45 292.9,45.5 288.7,45.9 284.5,46.4 280.3,46.9 276.1,47.4 271.9,47.9 267.7,48.4 263.5,49 259.3,49.5 255.1,50 250.9,50.6 246.8,51.1 242.6,51.7 238.4,52.3 234.2,52.9 230,53.5 225.8,54.2 221.7,55 217.6,55.9 213.5,56.9 209.4,58 205.3,59.2 201.3,60.6 197.4,62.1 193.6,63.9 189.8,65.9 186.2,68.1 182.7,70.4 179.2,73 175.9,75.8 173.1,78.8 170.7,82.1 168.6,85.8 166.7,89.7 165.1,93.6 163.6,97.5 162.2,101.5 160.9,105.6 159.7,109.6 158.6,113.7 157.6,117.8 156.8,121.9 156,126.1 155.3,130.2 154.6,134.4 154,138.6 153.3,142.8 152.7,147 152,151.1 151.3,155.3 150.6,159.5 149.9,163.6 149.2,167.8 148.5,172 147.8,176.1 147.1,180.3 146.4,184.5 145.7,188.6 145,192.8 144.3,197 143.7,201.2 143,205.3 142.3,209.5 141.6,213.7 140.9,217.8 140.2,222" fill="#E8701F" />
<polygon points="185.4,222 186.5,218.5 187.6,215 188.7,211.4 189.8,207.9 190.9,204.4 192,200.9 193.1,197.4 194.2,193.9 195.3,190.3 196.4,186.8 197.5,183.3 198.6,179.8 199.7,176.3 200.9,172.8 202,169.3 203.1,165.7 204.3,162.2 205.4,158.7 206.5,155.2 207.7,151.7 208.8,148.2 209.9,144.7 211,141.2 212.1,137.6 213.2,134.1 214.2,130.6 215.2,127.1 216.2,123.5 217.2,120 218.2,116.4 219,112.8 219.9,109.2 220.7,105.6 221.6,102 222.5,98.5 223.5,94.9 224.5,91.4 225.7,87.9 227,84.5 228.4,81 229.8,77.6 231.3,74.3 232.8,70.9 234.4,67.6 236.1,64.2 237.8,60.9 239.6,57.7 241.5,54.5 243.6,51.6 245.8,48.7 248.4,46 251.1,43.4 253.9,41 256.8,38.9 259.9,36.9 263.2,35 266.5,33.4 269.9,32.1 273.4,30.9 276.9,29.9 280.5,29 284.2,28.2 287.8,27.5 291.4,26.8 295,26.2 298.7,25.7 302.3,25.1 306,24.7 309.7,24.3 309.7,44.5 306.5,45.1 303.4,45.7 300.3,46.5 297.2,47.2 294.2,48 291.1,48.9 288,49.8 285,50.8 282,51.8 279.1,53 276.2,54.4 273.4,56 270.7,57.8 268.3,59.7 266,61.9 263.8,64.3 261.8,66.8 259.9,69.4 258.2,72 256.6,74.7 255.1,77.5 253.7,80.4 252.4,83.3 251,86.3 249.7,89.2 248.4,92.1 247.2,95 245.9,98 244.7,100.9 243.5,103.9 242.4,106.8 241.3,109.8 240.1,112.8 239.1,115.8 238,118.8 237,121.8 235.9,124.8 234.9,127.8 233.9,130.9 232.9,133.9 232,136.9 231,139.9 230,143 229.1,146 228.1,149.1 227.1,152.1 226.2,155.1 225.3,158.2 224.3,161.2 223.4,164.3 222.4,167.3 221.5,170.4 220.5,173.4 219.6,176.5 218.6,179.5 217.7,182.5 216.7,185.6 215.7,188.6 214.8,191.7 213.8,194.7 212.8,197.7 211.9,200.8 210.9,203.8 209.9,206.8 209,209.9 208,212.9 207,215.9 206.1,219 205.1,222" fill="#E8701F" />
<polyline points="185,222 186.1,218.5 187.2,214.9 188.3,211.4 189.4,207.9 190.5,204.4 191.6,200.8 192.7,197.3 193.8,193.8 194.9,190.2 196,186.7 197.1,183.2 198.2,179.7 199.3,176.1 200.5,172.6 201.6,169.1 202.8,165.6 203.9,162.1 205,158.5 206.2,155 207.3,151.5 208.4,148 209.5,144.5 210.6,140.9 211.7,137.4 212.8,133.9 213.9,130.3 214.9,126.8 215.9,123.2 216.9,119.7 217.8,116.1 218.7,112.5 219.5,108.9 220.4,105.3 221.2,101.7 222.1,98.1 223.1,94.5 224.2,91 225.3,87.5 226.6,84 228,80.6 229.4,77.2 231,73.8 232.5,70.5 234.1,67.1 235.7,63.7 237.4,60.4 239.3,57.2 241.2,54 243.3,51.1 245.6,48.2 248.1,45.5 250.8,42.9 253.7,40.5 256.6,38.4 259.7,36.4 263,34.5 266.4,32.9 269.8,31.6 273.3,30.4 276.8,29.4 280.4,28.5 284.1,27.7 287.7,27 291.4,26.4 295,25.8 298.6,25.2 302.3,24.7 306,24.3 309.7,23.9 309.7,23.9 304.9,24.1 300.1,24.4 295.2,24.7 290.4,25 285.6,25.2 280.8,25.5 276,25.8 271.2,26.2 266.4,26.5 261.6,26.8 256.8,27.1 251.9,27.4 247.1,27.8 242.3,28.1 237.5,28.4 232.7,28.8 227.9,29.3 223.1,29.7 218.4,30.3 213.6,31.1 208.8,32 204.1,33.1 199.5,34.2 194.8,35.5 190.2,37 185.6,38.6 181.2,40.4 176.9,42.5 172.6,44.9 168.5,47.6 164.7,50.5 161.3,53.6 158,57.2 154.8,61 151.9,64.9 149.3,69 146.9,73.1 144.7,77.4 142.7,81.8 140.8,86.3 139.1,90.8 137.4,95.3 135.7,99.8 134.2,104.4 132.7,109 131.3,113.6 130,118.2 128.8,122.9 127.7,127.6 126.7,132.3 125.8,137 124.8,141.8 123.9,146.5 123,151.2 122,155.9 121,160.7 120,165.4 119,170.1 118,174.8 117,179.5 116.1,184.3 115.1,189 114.1,193.7 113.1,198.4 112.1,203.1 111.1,207.8 110.2,212.6 109.2,217.3 108.2,222" fill="none" stroke="#E8701F" stroke-width="1.2" />
<polyline points="185.6,222 186.7,218.5 187.8,215 188.9,211.5 190,207.9 191.1,204.4 192.2,200.9 193.3,197.4 194.4,193.9 195.5,190.4 196.6,186.9 197.7,183.4 198.8,179.8 199.9,176.3 201.1,172.8 202.2,169.3 203.3,165.8 204.5,162.3 205.6,158.8 206.7,155.3 207.9,151.8 209,148.3 210.1,144.8 211.2,141.3 212.3,137.8 213.3,134.3 214.4,130.7 215.4,127.2 216.4,123.7 217.4,120.1 218.3,116.6 219.2,113 220.1,109.4 220.9,105.8 221.8,102.2 222.7,98.6 223.6,95.1 224.7,91.6 225.9,88.1 227.2,84.7 228.5,81.3 230,77.8 231.5,74.5 233,71.2 234.6,67.8 236.2,64.5 237.9,61.1 239.7,57.9 241.7,54.8 243.7,51.8 246,49 248.5,46.2 251.2,43.6 254,41.3 256.9,39.1 260,37.1 263.3,35.3 266.6,33.7 270,32.3 273.5,31.2 277,30.2 280.6,29.3 284.2,28.4 287.8,27.7 291.4,27.1 295.1,26.5 298.7,25.9 302.3,25.4 306,24.9 309.7,24.6 309.7,24.2 304.9,24.5 300.1,24.7 295.3,25 290.5,25.3 285.7,25.6 280.9,25.9 276.1,26.2 271.3,26.5 266.5,26.8 261.7,27.2 256.9,27.5 252.1,27.8 247.3,28.1 242.5,28.5 237.7,28.8 232.9,29.2 228.1,29.6 223.3,30.1 218.5,30.7 213.8,31.5 209.1,32.4 204.4,33.5 199.7,34.6 195.1,35.9 190.4,37.3 185.9,39 181.5,40.8 177.1,42.9 172.9,45.3 168.8,47.9 165,50.8 161.6,54 158.3,57.5 155.1,61.3 152.3,65.2 149.6,69.3 147.2,73.4 145,77.6 143.1,82 141.2,86.5 139.4,91 137.8,95.5 136.1,100.1 134.6,104.6 133.1,109.2 131.7,113.8 130.4,118.4 129.2,123.1 128.1,127.8 127.2,132.5 126.2,137.2 125.3,141.9 124.4,146.7 123.4,151.4 122.4,156.1 121.5,160.8 120.5,165.5 119.5,170.2 118.5,174.9 117.5,179.6 116.6,184.3 115.6,189 114.6,193.7 113.6,198.5 112.6,203.2 111.7,207.9 110.7,212.6 109.7,217.3 108.7,222" fill="none" stroke="#E8701F" stroke-width="1.2" />
<polyline points="186.3,222 187.4,218.5 188.5,215 189.6,211.5 190.7,208 191.7,204.5 192.8,201 193.9,197.5 195,194 196.1,190.5 197.2,187 198.3,183.5 199.4,180 200.5,176.5 201.6,173.1 202.8,169.6 203.9,166.1 205,162.6 206.2,159.1 207.3,155.6 208.4,152.1 209.5,148.6 210.6,145.1 211.7,141.6 212.8,138.1 213.9,134.6 214.9,131.1 215.9,127.6 216.9,124.1 217.9,120.6 218.9,117 219.7,113.5 220.6,109.9 221.4,106.3 222.3,102.8 223.2,99.2 224.2,95.7 225.3,92.2 226.4,88.8 227.7,85.3 229.1,81.9 230.5,78.5 232,75.2 233.5,71.9 235.1,68.5 236.7,65.2 238.4,61.9 240.2,58.7 242.1,55.5 244.1,52.6 246.4,49.8 248.9,47 251.5,44.4 254.3,42 257.2,39.9 260.3,37.9 263.5,36 266.8,34.4 270.2,33 273.6,31.9 277.2,30.9 280.7,30 284.3,29.2 287.9,28.4 291.5,27.8 295.1,27.1 298.8,26.6 302.4,26.1 306,25.6 309.7,25.2 309.7,24.8 304.9,25 300.1,25.3 295.3,25.6 290.5,25.9 285.8,26.2 281,26.5 276.2,26.8 271.4,27.1 266.6,27.4 261.8,27.8 257.1,28.1 252.3,28.4 247.5,28.7 242.7,29.1 237.9,29.4 233.1,29.8 228.4,30.3 223.6,30.8 218.9,31.4 214.1,32.1 209.4,33.1 204.7,34.1 200.1,35.2 195.5,36.5 190.8,38 186.3,39.6 181.9,41.4 177.6,43.5 173.3,45.8 169.3,48.5 165.5,51.4 162.1,54.5 158.8,58 155.7,61.7 152.8,65.7 150.1,69.8 147.8,73.8 145.6,78.1 143.6,82.5 141.8,87 140.1,91.4 138.4,95.9 136.8,100.4 135.2,105 133.7,109.6 132.4,114.2 131.1,118.8 129.9,123.4 128.9,128.1 127.9,132.8 127,137.5 126.1,142.2 125.1,146.9 124.2,151.6 123.2,156.3 122.2,161 121.3,165.7 120.3,170.4 119.3,175.1 118.4,179.8 117.4,184.5 116.4,189.1 115.4,193.8 114.5,198.5 113.5,203.2 112.5,207.9 111.6,212.6 110.6,217.3 109.6,222" fill="none" stroke="#E8701F" stroke-width="1.2" />
<polyline points="206.6,222 207.6,219 208.5,216 209.5,213 210.4,210 211.4,207 212.4,204 213.3,201 214.3,198 215.2,195 216.2,192 217.2,189 218.1,186 219.1,183 220,180 220.9,177 221.9,174 222.8,171 223.7,168 224.7,165 225.6,162 226.5,159 227.5,156 228.4,152.9 229.3,149.9 230.3,146.9 231.2,143.9 232.2,140.9 233.2,137.9 234.1,135 235.1,132 236.1,129 237.2,126 238.2,123.1 239.3,120.1 240.3,117.1 241.4,114.2 242.5,111.2 243.7,108.3 244.8,105.4 246,102.4 247.2,99.5 248.4,96.6 249.6,93.7 250.9,90.9 252.2,88 253.5,85.1 254.8,82.2 256.2,79.3 257.6,76.5 259.2,73.8 260.8,71.2 262.6,68.6 264.5,66.1 266.7,63.6 268.9,61.4 271.3,59.5 273.9,57.7 276.6,56.1 279.5,54.7 282.3,53.5 285.3,52.4 288.3,51.5 291.3,50.5 294.4,49.7 297.4,48.8 300.5,48.1 303.5,47.3 306.6,46.6 309.7,46 309.7,45.8 305.5,46.3 301.4,46.8 297.3,47.2 293.2,47.7 289,48.2 284.9,48.7 280.8,49.3 276.6,49.8 272.5,50.3 268.4,50.9 264.3,51.4 260.1,51.9 256,52.5 251.9,53.1 247.8,53.6 243.7,54.2 239.6,54.9 235.4,55.5 231.3,56.1 227.2,56.8 223.1,57.5 219.1,58.4 215,59.4 211,60.5 207,61.7 203,63.1 199.2,64.5 195.4,66.2 191.7,68.2 188.1,70.4 184.7,72.7 181.2,75.1 177.9,77.8 175.1,80.8 172.8,84 170.7,87.7 168.9,91.5 167.3,95.4 165.9,99.3 164.5,103.2 163.3,107.2 162.1,111.2 161.1,115.3 160.2,119.3 159.4,123.4 158.7,127.5 158.1,131.6 157.5,135.7 156.9,139.8 156.3,144 155.7,148.1 155,152.2 154.3,156.3 153.7,160.4 153,164.5 152.3,168.6 151.7,172.7 151,176.8 150.3,180.9 149.7,185 149,189.1 148.4,193.2 147.7,197.4 147,201.5 146.4,205.6 145.7,209.7 145.1,213.8 144.4,217.9 143.8,222" fill="none" stroke="#E8701F" stroke-width="1.2" />
<polyline points="205.7,222 206.7,219 207.7,216 208.6,212.9 209.6,209.9 210.6,206.9 211.5,203.9 212.5,200.9 213.5,197.8 214.4,194.8 215.4,191.8 216.3,188.8 217.3,185.8 218.3,182.8 219.2,179.7 220.2,176.7 221.1,173.7 222.1,170.6 223,167.6 223.9,164.6 224.9,161.6 225.8,158.5 226.7,155.5 227.7,152.5 228.6,149.4 229.6,146.4 230.5,143.4 231.5,140.4 232.5,137.4 233.5,134.3 234.4,131.3 235.4,128.3 236.5,125.3 237.5,122.3 238.5,119.4 239.6,116.4 240.7,113.4 241.8,110.4 242.9,107.5 244.1,104.5 245.3,101.6 246.5,98.6 247.7,95.7 249,92.8 250.2,89.9 251.5,87 252.8,84.1 254.2,81.2 255.6,78.3 257,75.5 258.6,72.8 260.3,70.1 262.1,67.6 264.1,65 266.3,62.6 268.5,60.4 270.9,58.5 273.6,56.7 276.4,55.2 279.2,53.8 282.1,52.6 285.1,51.5 288.1,50.5 291.2,49.6 294.3,48.7 297.3,47.9 300.4,47.1 303.5,46.4 306.6,45.7 309.7,45.1 309.7,45.1 305.5,45.6 301.4,46.1 297.2,46.6 293.1,47.1 288.9,47.5 284.8,48.1 280.6,48.6 276.5,49.1 272.3,49.6 268.2,50.1 264,50.7 259.9,51.2 255.8,51.7 251.6,52.3 247.5,52.9 243.3,53.5 239.2,54.1 235.1,54.7 230.9,55.3 226.8,56 222.7,56.8 218.6,57.6 214.6,58.6 210.5,59.7 206.5,61 202.5,62.3 198.7,63.8 194.9,65.5 191.1,67.5 187.5,69.7 184.1,72 180.6,74.5 177.3,77.2 174.5,80.2 172.1,83.4 170.1,87.1 168.3,91 166.7,94.9 165.2,98.7 163.8,102.7 162.6,106.7 161.4,110.8 160.4,114.8 159.4,118.9 158.6,122.9 157.9,127.1 157.2,131.2 156.6,135.3 156,139.5 155.4,143.6 154.8,147.7 154.1,151.9 153.4,156 152.8,160.1 152.1,164.2 151.4,168.4 150.7,172.5 150,176.6 149.4,180.7 148.7,184.9 148,189 147.4,193.1 146.7,197.2 146,201.4 145.4,205.5 144.7,209.6 144,213.7 143.4,217.9 142.7,222" fill="none" stroke="#E8701F" stroke-width="1.2" />
<polyline points="206.4,222 207.3,219 208.3,216 209.3,213 210.2,210 211.2,207 212.1,204 213.1,201 214.1,198 215,195 216,192 217,189 217.9,186 218.9,183 219.8,180 220.8,176.9 221.7,173.9 222.6,170.9 223.6,167.9 224.5,164.9 225.4,161.9 226.3,158.9 227.3,155.8 228.2,152.8 229.2,149.8 230.1,146.8 231.1,143.8 232,140.8 233,137.8 234,134.8 235,131.8 236,128.8 237,125.9 238,122.9 239.1,119.9 240.2,116.9 241.2,114 242.4,111 243.5,108.1 244.6,105.1 245.8,102.2 247,99.3 248.2,96.4 249.5,93.5 250.7,90.6 252,87.7 253.3,84.8 254.6,81.9 256,79.1 257.5,76.3 259,73.5 260.7,70.9 262.5,68.3 264.4,65.8 266.6,63.4 268.8,61.2 271.2,59.3 273.8,57.5 276.6,55.9 279.4,54.5 282.3,53.3 285.2,52.2 288.3,51.2 291.3,50.3 294.3,49.4 297.4,48.6 300.4,47.8 303.5,47.1 306.6,46.4 309.7,45.8 309.7,44.3 305.5,44.7 301.3,45.2 297.1,45.7 293,46.1 288.8,46.6 284.6,47.1 280.4,47.6 276.3,48.1 272.1,48.7 267.9,49.2 263.7,49.7 259.6,50.2 255.4,50.8 251.2,51.3 247.1,51.9 242.9,52.5 238.7,53.1 234.6,53.7 230.4,54.3 226.3,55 222.1,55.8 218,56.6 213.9,57.6 209.8,58.7 205.8,60 201.8,61.3 197.9,62.8 194.1,64.6 190.4,66.6 186.8,68.8 183.3,71.1 179.8,73.6 176.5,76.4 173.7,79.4 171.3,82.7 169.2,86.4 167.4,90.2 165.8,94.1 164.3,98 162.9,102 161.6,106.1 160.4,110.1 159.3,114.2 158.4,118.3 157.6,122.4 156.8,126.5 156.1,130.6 155.5,134.8 154.8,139 154.2,143.1 153.6,147.3 152.9,151.5 152.2,155.6 151.5,159.8 150.8,163.9 150.1,168.1 149.4,172.2 148.8,176.3 148.1,180.5 147.4,184.6 146.7,188.8 146,192.9 145.3,197.1 144.7,201.2 144,205.4 143.3,209.5 142.6,213.7 142,217.8 141.3,222" fill="none" stroke="#E8701F" stroke-width="1.2" />
<polyline points="195.8,222 196.8,218.7 197.9,215.5 198.9,212.2 199.9,208.9 200.9,205.7 202,202.4 203,199.2 204,195.9 205.1,192.6 206.1,189.4 207.1,186.1 208.2,182.8 209.2,179.6 210.2,176.3 211.3,173.1 212.3,169.8 213.4,166.5 214.4,163.3 215.4,160 216.5,156.7 217.5,153.5 218.5,150.2 219.5,146.9 220.5,143.7 221.5,140.4 222.5,137.1 223.5,133.9 224.5,130.6 225.5,127.3 226.5,124 227.4,120.7 228.4,117.4 229.3,114.2 230.2,110.9 231.2,107.6 232.3,104.4 233.3,101.1 234.5,97.9 235.7,94.7 237,91.5 238.3,88.4 239.7,85.2 241.1,82.1 242.5,79 244,75.8 245.5,72.7 247,69.7 248.7,66.7 250.4,63.8 252.4,61 254.4,58.3 256.7,55.7 259.1,53.3 261.6,51 264.3,48.9 267.1,47 270.1,45.3 273.2,43.8 276.4,42.6 279.6,41.5 282.9,40.5 286.2,39.6 289.5,38.8 292.9,38 296.2,37.3 299.5,36.6 302.9,36 306.3,35.4 309.7,35 309.7,44.7 305.5,45.2 301.3,45.6 297.2,46.1 293,46.6 288.9,47.1 284.7,47.6 280.5,48.1 276.4,48.6 272.2,49.1 268.1,49.6 263.9,50.2 259.7,50.7 255.6,51.3 251.4,51.8 247.3,52.4 243.1,53 239,53.6 234.8,54.2 230.7,54.8 226.5,55.5 222.4,56.3 218.3,57.1 214.2,58.1 210.2,59.2 206.1,60.5 202.2,61.8 198.3,63.3 194.5,65.1 190.8,67.1 187.2,69.2 183.7,71.5 180.2,74.1 176.9,76.8 174.1,79.8 171.7,83.1 169.7,86.7 167.8,90.6 166.2,94.5 164.7,98.4 163.3,102.4 162.1,106.4 160.9,110.4 159.8,114.5 158.9,118.6 158.1,122.7 157.4,126.8 156.7,130.9 156,135.1 155.4,139.2 154.8,143.4 154.2,147.5 153.5,151.7 152.8,155.8 152.1,159.9 151.5,164.1 150.8,168.2 150.1,172.3 149.4,176.5 148.7,180.6 148,184.8 147.4,188.9 146.7,193 146,197.2 145.3,201.3 144.7,205.4 144,209.6 143.3,213.7 142.7,217.9 142,222" fill="none" stroke="#E8701F" stroke-width="1.2" />
<polyline points="206.1,222 207,219 208,216 208.9,213 209.9,210 210.9,206.9 211.8,203.9 212.8,200.9 213.8,197.9 214.7,194.9 215.7,191.9 216.6,188.9 217.6,185.9 218.6,182.9 219.5,179.8 220.5,176.8 221.4,173.8 222.3,170.8 223.3,167.8 224.2,164.7 225.1,161.7 226.1,158.7 227,155.7 227.9,152.6 228.9,149.6 229.8,146.6 230.8,143.6 231.8,140.6 232.7,137.6 233.7,134.6 234.7,131.6 235.7,128.6 236.7,125.6 237.8,122.6 238.8,119.6 239.9,116.7 241,113.7 242.1,110.7 243.2,107.8 244.4,104.8 245.5,101.9 246.7,99 248,96.1 249.2,93.2 250.5,90.3 251.8,87.4 253.1,84.4 254.4,81.5 255.8,78.7 257.3,75.9 258.8,73.1 260.5,70.5 262.3,67.9 264.3,65.4 266.4,63 268.7,60.8 271.1,58.9 273.7,57.1 276.5,55.5 279.3,54.1 282.2,52.9 285.2,51.8 288.2,50.9 291.3,49.9 294.3,49.1 297.3,48.3 300.4,47.5 303.5,46.8 306.6,46.1 309.7,45.4 309.7,37 305.3,37.4 300.9,37.8 296.5,38.2 292.1,38.6 287.7,39 283.3,39.5 278.9,39.9 274.5,40.3 270.1,40.8 265.7,41.2 261.3,41.7 256.9,42.1 252.5,42.6 248.1,43.1 243.7,43.6 239.3,44.1 234.9,44.6 230.5,45.2 226.1,45.8 221.8,46.5 217.4,47.3 213.1,48.3 208.8,49.3 204.5,50.5 200.3,51.8 196.1,53.3 192,54.9 188,56.7 184.1,58.9 180.3,61.3 176.7,63.8 173.2,66.5 169.9,69.6 167,72.8 164.4,76.4 162.1,80.2 160.1,84.2 158.3,88.2 156.6,92.3 155.1,96.4 153.6,100.6 152.2,104.9 151,109.1 149.8,113.3 148.7,117.6 147.7,121.9 146.8,126.2 146,130.6 145.2,134.9 144.4,139.3 143.7,143.7 142.9,148 142.2,152.4 141.4,156.7 140.6,161.1 139.8,165.4 139,169.8 138.2,174.1 137.4,178.5 136.6,182.8 135.8,187.2 135,191.5 134.3,195.9 133.5,200.2 132.7,204.6 131.9,208.9 131.1,213.3 130.3,217.6 129.6,222" fill="none" stroke="#E8701F" stroke-width="1.2" />
<polyline points="205.4,222 206.4,219 207.3,215.9 208.3,212.9 209.3,209.9 210.2,206.9 211.2,203.8 212.2,200.8 213.1,197.8 214.1,194.8 215.1,191.7 216,188.7 217,185.7 218,182.6 218.9,179.6 219.9,176.6 220.8,173.5 221.8,170.5 222.7,167.5 223.7,164.4 224.6,161.4 225.5,158.4 226.5,155.3 227.4,152.3 228.4,149.2 229.3,146.2 230.3,143.2 231.2,140.2 232.2,137.1 233.2,134.1 234.2,131.1 235.2,128.1 236.2,125.1 237.2,122.1 238.3,119.1 239.3,116.1 240.4,113.1 241.5,110.1 242.7,107.2 243.8,104.2 245,101.2 246.2,98.3 247.4,95.4 248.7,92.5 250,89.6 251.3,86.6 252.6,83.7 253.9,80.8 255.4,77.9 256.8,75.1 258.4,72.4 260.1,69.8 261.9,67.2 263.9,64.6 266.1,62.3 268.4,60.1 270.8,58.1 273.5,56.4 276.3,54.8 279.1,53.4 282,52.2 285,51.1 288.1,50.1 291.1,49.2 294.2,48.4 297.3,47.6 300.4,46.8 303.4,46.1 306.6,45.4 309.7,44.8 309.7,30.5 305.1,30.8 300.5,31.1 295.9,31.4 291.2,31.8 286.6,32.1 282,32.5 277.4,32.9 272.8,33.3 268.2,33.6 263.6,34 259,34.4 254.4,34.8 249.8,35.2 245.2,35.6 240.6,36 236,36.4 231.4,36.9 226.8,37.5 222.2,38.1 217.7,38.8 213.1,39.7 208.6,40.7 204.1,41.8 199.7,43 195.2,44.4 190.8,45.9 186.6,47.7 182.4,49.6 178.3,51.9 174.4,54.4 170.7,57.1 167.2,60.1 164,63.4 160.9,66.9 158.2,70.7 155.7,74.6 153.5,78.6 151.5,82.8 149.7,87 148,91.4 146.3,95.7 144.8,100.1 143.4,104.5 142,108.9 140.7,113.3 139.5,117.8 138.4,122.2 137.4,126.7 136.5,131.3 135.6,135.8 134.7,140.3 133.9,144.9 133,149.4 132.2,154 131.3,158.5 130.4,163 129.5,167.6 128.6,172.1 127.7,176.7 126.8,181.2 125.9,185.7 125.1,190.3 124.2,194.8 123.3,199.3 122.4,203.9 121.5,208.4 120.6,212.9 119.8,217.5 118.9,222" fill="none" stroke="#E8701F" stroke-width="1.2" />
<polyline points="191.5,222 192.5,218.6 193.6,215.3 194.6,211.9 195.7,208.5 196.8,205.2 197.8,201.8 198.9,198.4 199.9,195 201,191.7 202.1,188.3 203.1,184.9 204.2,181.6 205.3,178.2 206.3,174.8 207.4,171.5 208.5,168.1 209.6,164.7 210.6,161.4 211.7,158 212.8,154.6 213.9,151.3 214.9,147.9 216,144.5 217,141.2 218,137.8 219.1,134.4 220.1,131 221.1,127.6 222.1,124.3 223,120.9 223.9,117.4 224.8,114 225.7,110.6 226.6,107.2 227.6,103.8 228.6,100.4 229.7,97.1 230.8,93.7 232.1,90.4 233.4,87.1 234.8,83.9 236.2,80.6 237.6,77.4 239.1,74.2 240.7,71 242.3,67.8 243.9,64.7 245.7,61.6 247.6,58.7 249.6,55.9 251.9,53.2 254.4,50.6 256.9,48.2 259.6,46 262.5,43.9 265.5,42 268.6,40.4 271.9,38.9 275.1,37.7 278.5,36.7 281.9,35.7 285.3,34.8 288.8,34.1 292.3,33.4 295.7,32.7 299.2,32.1 302.7,31.5 306.2,31 309.7,30.5 309.7,45.5 305.5,45.9 301.4,46.4 297.3,46.9 293.1,47.4 289,47.9 284.8,48.4 280.7,48.9 276.6,49.4 272.4,50 268.3,50.5 264.2,51 260,51.6 255.9,52.1 251.8,52.7 247.6,53.3 243.5,53.9 239.4,54.5 235.3,55.1 231.1,55.7 227,56.4 222.9,57.2 218.8,58 214.8,59 210.7,60.1 206.7,61.3 202.8,62.7 198.9,64.2 195.1,65.9 191.4,67.9 187.8,70 184.4,72.3 180.9,74.8 177.6,77.5 174.8,80.5 172.5,83.7 170.4,87.4 168.6,91.3 167,95.1 165.5,99 164.2,103 162.9,107 161.8,111 160.7,115 159.8,119.1 159,123.2 158.3,127.3 157.7,131.4 157,135.5 156.4,139.6 155.8,143.8 155.2,147.9 154.6,152 153.9,156.1 153.2,160.3 152.5,164.4 151.9,168.5 151.2,172.6 150.5,176.7 149.8,180.8 149.2,184.9 148.5,189.1 147.9,193.2 147.2,197.3 146.5,201.4 145.9,205.5 145.2,209.6 144.6,213.8 143.9,217.9 143.3,222" fill="none" stroke="#E8701F" stroke-width="1.2" />
<polyline points="185.2,222 186.3,218.5 187.4,215 188.5,211.4 189.6,207.9 190.7,204.4 191.8,200.9 192.9,197.3 194,193.8 195.1,190.3 196.2,186.8 197.3,183.2 198.4,179.7 199.6,176.2 200.7,172.7 201.8,169.2 203,165.7 204.1,162.2 205.2,158.7 206.4,155.1 207.5,151.6 208.6,148.1 209.7,144.6 210.8,141.1 211.9,137.5 213,134 214.1,130.5 215.1,126.9 216.1,123.4 217.1,119.8 218,116.3 218.9,112.7 219.7,109.1 220.6,105.5 221.4,101.9 222.3,98.3 223.3,94.7 224.4,91.2 225.5,87.8 226.8,84.3 228.2,80.8 229.6,77.4 231.2,74.1 232.7,70.7 234.3,67.4 235.9,64 237.6,60.7 239.4,57.4 241.4,54.3 243.4,51.4 245.7,48.5 248.2,45.8 251,43.1 253.8,40.8 256.7,38.7 259.9,36.7 263.1,34.8 266.5,33.2 269.9,31.8 273.3,30.7 276.9,29.7 280.5,28.8 284.1,28 287.8,27.3 291.4,26.6 295,26 298.7,25.5 302.3,25 306,24.5 309.7,24.2 309.7,28.6 305,28.9 300.3,29.2 295.7,29.5 291,29.9 286.4,30.2 281.7,30.5 277,30.9 272.4,31.2 267.7,31.6 263,32 258.4,32.4 253.7,32.7 249,33.1 244.4,33.5 239.7,33.9 235.1,34.3 230.4,34.8 225.8,35.3 221.1,35.9 216.5,36.6 211.9,37.5 207.3,38.5 202.8,39.7 198.3,40.9 193.8,42.3 189.4,43.9 185.1,45.6 180.9,47.6 176.7,49.9 172.7,52.5 169,55.2 165.6,58.3 162.3,61.6 159.2,65.2 156.4,69 153.9,73 151.6,77.1 149.6,81.3 147.7,85.5 145.9,89.9 144.3,94.3 142.7,98.7 141.2,103.1 139.8,107.6 138.4,112.1 137.2,116.6 136,121.1 135,125.7 134,130.2 133.1,134.8 132.2,139.4 131.3,144 130.5,148.6 129.6,153.2 128.6,157.8 127.7,162.4 126.8,167 125.9,171.5 125,176.1 124.1,180.7 123.2,185.3 122.2,189.9 121.3,194.5 120.4,199.1 119.5,203.7 118.6,208.2 117.7,212.8 116.8,217.4 115.9,222" fill="none" stroke="#E8701F" stroke-width="1.2" />
<polyline points="192.3,222 193.4,218.7 194.4,215.3 195.5,212 196.5,208.6 197.6,205.3 198.6,201.9 199.7,198.6 200.7,195.2 201.8,191.9 202.8,188.5 203.9,185.2 205,181.8 206,178.5 207.1,175.1 208.2,171.8 209.2,168.4 210.3,165.1 211.4,161.7 212.4,158.4 213.5,155.1 214.6,151.7 215.6,148.4 216.7,145 217.7,141.6 218.7,138.3 219.7,134.9 220.8,131.6 221.8,128.2 222.7,124.8 223.7,121.5 224.6,118.1 225.5,114.7 226.4,111.3 227.3,107.9 228.3,104.5 229.3,101.2 230.4,97.9 231.5,94.6 232.8,91.3 234.1,88 235.5,84.8 236.9,81.5 238.3,78.3 239.8,75.1 241.3,71.9 242.9,68.8 244.5,65.6 246.3,62.6 248.1,59.7 250.2,56.9 252.4,54.2 254.8,51.6 257.4,49.2 260,46.9 262.8,44.9 265.8,43 268.9,41.3 272.1,39.9 275.4,38.7 278.7,37.6 282.1,36.6 285.5,35.8 289,35 292.4,34.3 295.8,33.6 299.3,32.9 302.7,32.4 306.2,31.8 309.7,31.4 309.7,37.3 305.3,37.7 300.9,38.1 296.5,38.5 292.1,38.9 287.7,39.3 283.3,39.8 278.9,40.2 274.5,40.6 270.1,41.1 265.8,41.5 261.4,42 257,42.4 252.6,42.9 248.2,43.4 243.8,43.9 239.4,44.4 235,44.9 230.7,45.5 226.3,46.1 221.9,46.8 217.6,47.7 213.3,48.6 209,49.6 204.7,50.8 200.5,52.1 196.3,53.6 192.2,55.2 188.2,57 184.3,59.2 180.5,61.5 176.9,64.1 173.5,66.8 170.2,69.8 167.2,73.1 164.7,76.6 162.4,80.4 160.4,84.4 158.6,88.4 156.9,92.5 155.4,96.7 153.9,100.8 152.5,105.1 151.3,109.3 150.1,113.5 149.1,117.8 148.1,122.1 147.2,126.4 146.3,130.7 145.6,135.1 144.8,139.4 144.1,143.8 143.3,148.1 142.6,152.5 141.8,156.8 141,161.2 140.2,165.5 139.4,169.9 138.6,174.2 137.8,178.6 137,182.9 136.2,187.2 135.5,191.6 134.7,195.9 133.9,200.3 133.1,204.6 132.3,209 131.6,213.3 130.8,217.7 130,222" fill="none" stroke="#E8701F" stroke-width="1.2" />
<polyline points="186,222 187.1,218.5 188.1,215 189.2,211.5 190.3,208 191.4,204.5 192.5,201 193.6,197.5 194.7,194 195.8,190.5 196.9,186.9 198,183.4 199.1,179.9 200.2,176.4 201.3,172.9 202.5,169.5 203.6,166 204.7,162.5 205.9,159 207,155.5 208.1,152 209.2,148.5 210.3,145 211.4,141.5 212.5,138 213.6,134.4 214.6,130.9 215.7,127.4 216.7,123.9 217.7,120.3 218.6,116.8 219.5,113.2 220.3,109.6 221.2,106.1 222,102.5 222.9,98.9 223.9,95.4 225,91.9 226.2,88.4 227.4,85 228.8,81.6 230.2,78.2 231.7,74.8 233.3,71.5 234.8,68.2 236.5,64.8 238.2,61.5 240,58.3 241.9,55.2 243.9,52.2 246.2,49.4 248.7,46.6 251.4,44 254.2,41.6 257.1,39.5 260.2,37.5 263.4,35.7 266.7,34 270.1,32.7 273.5,31.5 277.1,30.5 280.6,29.6 284.3,28.8 287.9,28.1 291.5,27.4 295.1,26.8 298.7,26.2 302.4,25.7 306,25.3 309.7,24.9 309.7,24.7 304.9,24.9 300.1,25.2 295.3,25.5 290.5,25.8 285.7,26.1 281,26.4 276.2,26.7 271.4,27 266.6,27.3 261.8,27.7 257,28 252.2,28.3 247.4,28.6 242.7,29 237.9,29.3 233.1,29.7 228.3,30.2 223.6,30.7 218.8,31.3 214.1,32 209.4,32.9 204.7,34 200,35.1 195.4,36.4 190.8,37.9 186.2,39.5 181.8,41.3 177.5,43.4 173.3,45.7 169.2,48.4 165.4,51.3 162,54.4 158.7,57.9 155.6,61.7 152.7,65.6 150,69.7 147.7,73.8 145.5,78 143.5,82.4 141.7,86.9 139.9,91.4 138.3,95.9 136.6,100.4 135.1,104.9 133.6,109.5 132.2,114.1 131,118.7 129.8,123.3 128.7,128 127.8,132.7 126.8,137.4 125.9,142.1 125,146.9 124,151.6 123.1,156.3 122.1,160.9 121.1,165.6 120.2,170.3 119.2,175 118.2,179.7 117.2,184.4 116.3,189.1 115.3,193.8 114.3,198.5 113.4,203.2 112.4,207.9 111.4,212.6 110.4,217.3 109.5,222" fill="none" stroke="#E8701F" stroke-width="1.2" />
<polyline points="200.5,222 201.5,218.9 202.5,215.7 203.5,212.6 204.5,209.4 205.5,206.3 206.5,203.1 207.5,200 208.5,196.8 209.5,193.7 210.5,190.5 211.5,187.4 212.5,184.2 213.5,181.1 214.5,177.9 215.5,174.8 216.5,171.6 217.5,168.5 218.4,165.3 219.4,162.2 220.4,159 221.4,155.8 222.4,152.7 223.4,149.5 224.3,146.4 225.3,143.2 226.3,140.1 227.3,136.9 228.3,133.8 229.3,130.6 230.2,127.5 231.2,124.3 232.2,121.2 233.2,118 234.1,114.9 235.2,111.7 236.2,108.6 237.3,105.5 238.5,102.4 239.7,99.3 240.9,96.2 242.2,93.2 243.5,90.2 244.8,87.1 246.1,84.1 247.5,81.1 248.9,78.1 250.4,75.1 251.9,72.1 253.6,69.3 255.3,66.5 257.2,63.9 259.2,61.3 261.5,58.8 263.8,56.5 266.3,54.3 268.9,52.4 271.8,50.7 274.7,49.2 277.7,47.8 280.8,46.7 283.9,45.7 287.1,44.7 290.3,43.9 293.5,43.1 296.7,42.3 299.9,41.6 303.2,40.9 306.4,40.3 309.7,39.7 309.7,34.1 305.2,34.5 300.7,34.8 296.2,35.2 291.7,35.6 287.2,36 282.7,36.4 278.2,36.8 273.7,37.2 269.2,37.6 264.8,38 260.3,38.4 255.8,38.9 251.3,39.3 246.8,39.7 242.3,40.2 237.8,40.7 233.3,41.2 228.9,41.7 224.4,42.3 219.9,43.1 215.5,43.9 211.1,44.9 206.7,46 202.3,47.2 198,48.5 193.7,50 189.6,51.7 185.5,53.6 181.5,55.8 177.6,58.2 174,60.8 170.6,63.7 167.3,66.8 164.3,70.2 161.6,73.8 159.3,77.7 157.2,81.7 155.3,85.8 153.5,89.9 151.9,94.2 150.4,98.4 148.9,102.7 147.6,107 146.3,111.3 145.1,115.7 144.1,120.1 143.1,124.5 142.2,128.9 141.3,133.3 140.5,137.7 139.7,142.2 138.9,146.6 138.1,151.1 137.3,155.5 136.4,159.9 135.6,164.4 134.8,168.8 133.9,173.2 133.1,177.7 132.3,182.1 131.4,186.5 130.6,191 129.8,195.4 128.9,199.8 128.1,204.3 127.3,208.7 126.4,213.1 125.6,217.6 124.8,222" fill="none" stroke="#E8701F" stroke-width="1.2" />
<polyline points="198.8,222 199.8,218.8 200.8,215.6 201.8,212.4 202.8,209.2 203.8,206 204.8,202.9 205.8,199.7 206.9,196.5 207.9,193.3 208.9,190.1 209.9,186.9 210.9,183.7 211.9,180.5 212.9,177.3 213.9,174.1 215,171 216,167.8 217,164.6 218,161.4 219,158.2 220,155 221,151.8 222,148.6 223,145.4 223.9,142.2 224.9,139 225.9,135.8 226.9,132.6 227.9,129.4 228.9,126.2 229.8,123 230.8,119.8 231.7,116.6 232.7,113.4 233.7,110.2 234.8,107.1 235.9,103.9 237,100.8 238.2,97.6 239.5,94.5 240.8,91.4 242.1,88.4 243.4,85.3 244.8,82.2 246.2,79.2 247.7,76.1 249.2,73.1 250.8,70.1 252.4,67.3 254.2,64.5 256.2,61.9 258.3,59.3 260.6,56.8 263,54.5 265.6,52.4 268.3,50.5 271.2,48.7 274.2,47.2 277.2,45.9 280.3,44.8 283.5,43.8 286.8,42.9 290,42 293.3,41.2 296.5,40.5 299.8,39.8 303.1,39.1 306.4,38.5 309.7,38 309.7,37.7 305.3,38.1 300.9,38.5 296.5,38.9 292.1,39.3 287.8,39.7 283.4,40.1 279,40.6 274.6,41 270.2,41.5 265.9,41.9 261.5,42.4 257.1,42.9 252.7,43.3 248.3,43.8 244,44.3 239.6,44.8 235.2,45.4 230.9,45.9 226.5,46.6 222.2,47.3 217.8,48.1 213.5,49 209.3,50.1 205,51.2 200.7,52.5 196.6,54 192.5,55.6 188.5,57.4 184.6,59.6 180.8,61.9 177.3,64.4 173.8,67.2 170.5,70.2 167.6,73.4 165,76.9 162.8,80.7 160.8,84.7 158.9,88.7 157.3,92.8 155.7,96.9 154.3,101.1 153,105.3 151.7,109.5 150.6,113.8 149.5,118 148.5,122.3 147.6,126.6 146.8,131 146.1,135.3 145.3,139.6 144.6,144 143.8,148.3 143.1,152.7 142.3,157 141.5,161.3 140.7,165.7 139.9,170 139.1,174.3 138.4,178.7 137.6,183 136.8,187.3 136,191.7 135.2,196 134.5,200.3 133.7,204.7 132.9,209 132.1,213.3 131.4,217.7 130.6,222" fill="none" stroke="#E8701F" stroke-width="1.2" />
<polyline points="192.5,222 193.5,218.7 194.6,215.3 195.6,212 196.7,208.6 197.7,205.3 198.8,201.9 199.8,198.6 200.9,195.2 201.9,191.9 203,188.5 204,185.2 205.1,181.9 206.2,178.5 207.2,175.2 208.3,171.8 209.4,168.5 210.4,165.1 211.5,161.8 212.6,158.5 213.6,155.1 214.7,151.8 215.7,148.4 216.8,145.1 217.8,141.7 218.8,138.4 219.9,135 220.9,131.7 221.9,128.3 222.9,124.9 223.8,121.6 224.7,118.2 225.6,114.8 226.5,111.4 227.5,108 228.4,104.7 229.4,101.3 230.5,98 231.7,94.7 232.9,91.4 234.2,88.1 235.6,84.9 237,81.7 238.4,78.5 239.9,75.3 241.4,72.1 243,68.9 244.6,65.8 246.4,62.8 248.2,59.8 250.3,57 252.5,54.3 254.9,51.7 257.4,49.3 260.1,47.1 262.9,45 265.9,43.2 269,41.5 272.2,40.1 275.4,38.8 278.7,37.8 282.1,36.8 285.5,35.9 289,35.1 292.4,34.4 295.8,33.7 299.3,33.1 302.7,32.5 306.2,32 309.7,31.5 309.7,34.8 305.2,35.1 300.7,35.5 296.3,35.9 291.8,36.3 287.3,36.7 282.8,37.1 278.4,37.5 273.9,37.9 269.4,38.3 265,38.8 260.5,39.2 256,39.6 251.5,40 247.1,40.5 242.6,41 238.1,41.5 233.7,42 229.2,42.5 224.8,43.1 220.4,43.9 215.9,44.7 211.6,45.7 207.2,46.7 202.8,47.9 198.5,49.3 194.3,50.8 190.1,52.4 186.1,54.3 182.1,56.5 178.2,58.9 174.6,61.5 171.2,64.3 167.9,67.4 164.9,70.8 162.3,74.4 159.9,78.3 157.8,82.3 156,86.3 154.2,90.5 152.6,94.7 151.1,98.9 149.7,103.2 148.3,107.5 147.1,111.8 146,116.1 144.9,120.5 143.9,124.9 143,129.3 142.2,133.7 141.4,138.1 140.6,142.5 139.8,146.9 139,151.4 138.2,155.8 137.4,160.2 136.6,164.6 135.7,169 134.9,173.4 134.1,177.9 133.3,182.3 132.4,186.7 131.6,191.1 130.8,195.5 130,199.9 129.2,204.3 128.3,208.8 127.5,213.2 126.7,217.6 125.9,222" fill="none" stroke="#E8701F" stroke-width="1.2" />
<polyline points="185,222 186.1,218.5 187.2,214.9 188.3,211.4 189.4,207.9 190.5,204.4 191.6,200.8 192.7,197.3 193.8,193.8 194.9,190.2 196,186.7 197.1,183.2 198.2,179.7 199.3,176.1 200.5,172.6 201.6,169.1 202.8,165.6 203.9,162.1 205,158.5 206.2,155 207.3,151.5 208.4,148 209.5,144.5 210.6,140.9 211.7,137.4 212.8,133.9 213.9,130.3 214.9,126.8 215.9,123.2 216.9,119.7 217.8,116.1 218.7,112.5 219.5,108.9 220.4,105.3 221.2,101.7 222.1,98.1 223.1,94.5 224.2,91 225.3,87.5 226.6,84 228,80.6 229.4,77.2 231,73.8 232.5,70.5 234.1,67.1 235.7,63.7 237.4,60.4 239.3,57.2 241.2,54 243.3,51.1 245.6,48.2 248.1,45.5 250.8,42.9 253.7,40.5 256.6,38.4 259.7,36.4 263,34.5 266.4,32.9 269.8,31.6 273.3,30.4 276.8,29.4 280.4,28.5 284.1,27.7 287.7,27 291.4,26.4 295,25.8 298.6,25.2 302.3,24.7 306,24.3 309.7,23.9 309.7,24.2 304.9,24.4 300.1,24.7 295.3,24.9 290.5,25.2 285.7,25.5 280.9,25.8 276.1,26.1 271.3,26.4 266.5,26.8 261.7,27.1 256.9,27.4 252,27.7 247.2,28 242.4,28.4 237.6,28.7 232.8,29.1 228,29.6 223.3,30.1 218.5,30.6 213.8,31.4 209,32.3 204.3,33.4 199.6,34.5 195,35.8 190.4,37.3 185.8,38.9 181.4,40.7 177.1,42.8 172.8,45.2 168.7,47.8 164.9,50.7 161.5,53.9 158.2,57.4 155.1,61.2 152.2,65.2 149.5,69.2 147.1,73.3 145,77.6 143,82 141.1,86.5 139.4,91 137.7,95.5 136,100 134.5,104.6 133,109.2 131.6,113.8 130.3,118.4 129.1,123 128.1,127.7 127.1,132.4 126.1,137.2 125.2,141.9 124.3,146.6 123.3,151.3 122.3,156 121.4,160.8 120.4,165.5 119.4,170.2 118.4,174.9 117.4,179.6 116.5,184.3 115.5,189 114.5,193.7 113.5,198.4 112.5,203.2 111.6,207.9 110.6,212.6 109.6,217.3 108.6,222" fill="none" stroke="#E8701F" stroke-width="1.2" />
<polyline points="196.1,222 197.1,218.7 198.1,215.5 199.1,212.2 200.2,209 201.2,205.7 202.2,202.5 203.3,199.2 204.3,195.9 205.3,192.7 206.3,189.4 207.4,186.2 208.4,182.9 209.4,179.7 210.5,176.4 211.5,173.2 212.6,169.9 213.6,166.6 214.6,163.4 215.7,160.1 216.7,156.9 217.7,153.6 218.7,150.3 219.7,147.1 220.7,143.8 221.8,140.6 222.8,137.3 223.8,134 224.7,130.8 225.7,127.5 226.7,124.2 227.6,120.9 228.6,117.7 229.5,114.4 230.5,111.1 231.5,107.8 232.5,104.6 233.6,101.4 234.7,98.2 235.9,95 237.2,91.8 238.5,88.6 239.9,85.5 241.3,82.4 242.7,79.3 244.2,76.1 245.7,73 247.2,70 248.9,67 250.6,64.1 252.5,61.3 254.6,58.6 256.9,56 259.2,53.6 261.8,51.3 264.4,49.2 267.2,47.3 270.2,45.6 273.3,44.2 276.5,42.9 279.7,41.8 282.9,40.8 286.2,39.9 289.6,39.1 292.9,38.3 296.2,37.6 299.6,36.9 302.9,36.3 306.3,35.7 309.7,35.2 309.7,39.1 305.3,39.5 301,39.9 296.7,40.3 292.3,40.7 288,41.2 283.6,41.6 279.3,42.1 275,42.5 270.6,43 266.3,43.4 262,43.9 257.6,44.4 253.3,44.9 248.9,45.4 244.6,45.9 240.3,46.4 236,47 231.6,47.6 227.3,48.2 223,48.9 218.7,49.7 214.5,50.6 210.2,51.6 206,52.8 201.8,54.1 197.7,55.5 193.7,57.1 189.7,58.9 185.8,61 182.1,63.4 178.5,65.8 175.1,68.5 171.8,71.5 168.9,74.7 166.4,78.1 164.1,81.9 162.1,85.9 160.4,89.8 158.7,93.9 157.2,98 155.8,102.1 154.5,106.3 153.3,110.5 152.2,114.7 151.2,118.9 150.3,123.2 149.4,127.5 148.6,131.8 147.9,136.1 147.2,140.4 146.5,144.7 145.7,149 145,153.3 144.2,157.6 143.4,161.9 142.7,166.2 141.9,170.5 141.1,174.7 140.4,179 139.6,183.3 138.9,187.6 138.1,191.9 137.4,196.2 136.6,200.5 135.8,204.8 135.1,209.1 134.3,213.4 133.6,217.7 132.8,222" fill="none" stroke="#E8701F" stroke-width="1.2" />
<polyline points="186.6,222 187.6,218.5 188.7,215 189.8,211.5 190.9,208 192,204.5 193.1,201.1 194.2,197.6 195.3,194.1 196.4,190.6 197.4,187.1 198.5,183.6 199.6,180.1 200.8,176.6 201.9,173.1 203,169.7 204.1,166.2 205.3,162.7 206.4,159.2 207.5,155.7 208.6,152.3 209.7,148.8 210.8,145.3 211.9,141.8 213,138.3 214.1,134.8 215.1,131.3 216.1,127.8 217.1,124.3 218.1,120.8 219.1,117.2 219.9,113.7 220.8,110.1 221.6,106.5 222.5,103 223.4,99.4 224.4,95.9 225.5,92.5 226.7,89 227.9,85.6 229.3,82.2 230.7,78.8 232.2,75.4 233.7,72.1 235.3,68.8 236.9,65.5 238.6,62.2 240.4,58.9 242.3,55.8 244.3,52.9 246.5,50.1 249,47.3 251.7,44.7 254.5,42.3 257.3,40.2 260.4,38.2 263.6,36.3 266.9,34.7 270.3,33.3 273.7,32.2 277.2,31.2 280.8,30.3 284.4,29.4 288,28.7 291.6,28 295.2,27.4 298.8,26.8 302.4,26.3 306,25.9 309.7,25.5 309.7,32 305.1,32.3 300.6,32.7 296,33 291.4,33.4 286.9,33.7 282.3,34.1 277.8,34.5 273.2,34.9 268.7,35.3 264.1,35.7 259.5,36.1 255,36.5 250.4,36.9 245.9,37.3 241.3,37.7 236.7,38.2 232.2,38.7 227.7,39.3 223.1,39.9 218.6,40.6 214.1,41.5 209.7,42.4 205.2,43.5 200.8,44.7 196.4,46.1 192.1,47.6 187.8,49.3 183.7,51.3 179.6,53.5 175.7,56 172.1,58.7 168.6,61.6 165.3,64.8 162.3,68.3 159.6,72 157.2,75.9 155,79.9 153.1,84 151.3,88.2 149.6,92.5 148,96.9 146.5,101.2 145.1,105.5 143.8,109.9 142.6,114.3 141.4,118.7 140.3,123.2 139.4,127.6 138.5,132.1 137.6,136.6 136.8,141.1 136,145.6 135.2,150.1 134.3,154.6 133.4,159.1 132.6,163.6 131.7,168.1 130.8,172.6 130,177.1 129.1,181.6 128.2,186.1 127.4,190.6 126.5,195 125.7,199.5 124.8,204 123.9,208.5 123.1,213 122.2,217.5 121.4,222" fill="none" stroke="#E8701F" stroke-width="1.2" />
<polyline points="198.5,222 199.5,218.8 200.5,215.6 201.5,212.4 202.5,209.2 203.5,206 204.5,202.8 205.5,199.6 206.5,196.4 207.6,193.2 208.6,190 209.6,186.8 210.6,183.6 211.6,180.4 212.6,177.2 213.7,174 214.7,170.8 215.7,167.6 216.7,164.4 217.7,161.2 218.7,158 219.7,154.8 220.7,151.6 221.7,148.4 222.7,145.2 223.7,142 224.7,138.8 225.7,135.6 226.7,132.4 227.6,129.2 228.6,126 229.6,122.8 230.5,119.6 231.5,116.3 232.5,113.1 233.5,109.9 234.5,106.8 235.6,103.6 236.8,100.5 238,97.3 239.2,94.2 240.5,91.1 241.8,88 243.2,85 244.6,81.9 246,78.8 247.4,75.8 248.9,72.7 250.5,69.8 252.2,66.9 254,64.1 256,61.5 258.1,58.9 260.4,56.4 262.9,54.1 265.4,52 268.2,50.1 271.1,48.4 274.1,46.9 277.1,45.6 280.3,44.4 283.5,43.4 286.7,42.5 290,41.7 293.2,40.9 296.5,40.1 299.8,39.4 303.1,38.8 306.4,38.2 309.7,37.7 309.7,42.1 305.4,42.5 301.2,43 296.9,43.4 292.7,43.9 288.4,44.3 284.2,44.8 280,45.3 275.7,45.8 271.5,46.3 267.2,46.8 263,47.3 258.8,47.8 254.5,48.3 250.3,48.8 246,49.4 241.8,49.9 237.6,50.5 233.3,51.1 229.1,51.7 224.9,52.4 220.7,53.2 216.5,54.1 212.4,55.1 208.2,56.2 204.1,57.5 200.1,58.9 196.1,60.4 192.3,62.2 188.5,64.3 184.8,66.5 181.3,68.9 177.8,71.5 174.5,74.3 171.6,77.4 169.2,80.8 167.1,84.5 165.2,88.4 163.5,92.3 161.9,96.3 160.5,100.3 159.2,104.4 157.9,108.5 156.8,112.6 155.8,116.8 154.9,120.9 154.1,125.1 153.3,129.3 152.6,133.5 151.9,137.7 151.2,142 150.6,146.2 149.9,150.4 149.2,154.6 148.5,158.8 147.7,163 147,167.3 146.3,171.5 145.6,175.7 144.8,179.9 144.1,184.1 143.4,188.3 142.7,192.5 142,196.7 141.3,200.9 140.6,205.2 139.9,209.4 139.2,213.6 138.5,217.8 137.7,222" fill="none" stroke="#E8701F" stroke-width="1.2" />
<polyline points="195.7,222 196.7,218.7 197.8,215.5 198.8,212.2 199.8,208.9 200.9,205.7 201.9,202.4 202.9,199.1 203.9,195.9 205,192.6 206,189.3 207,186.1 208.1,182.8 209.1,179.6 210.2,176.3 211.2,173 212.2,169.8 213.3,166.5 214.3,163.2 215.3,160 216.4,156.7 217.4,153.4 218.4,150.2 219.4,146.9 220.5,143.6 221.5,140.3 222.5,137.1 223.5,133.8 224.5,130.5 225.4,127.2 226.4,124 227.3,120.7 228.3,117.4 229.2,114.1 230.2,110.8 231.1,107.5 232.2,104.3 233.3,101 234.4,97.8 235.6,94.6 236.9,91.4 238.2,88.3 239.6,85.1 241,82 242.4,78.9 243.9,75.7 245.4,72.6 247,69.6 248.6,66.6 250.4,63.7 252.3,60.9 254.4,58.2 256.7,55.6 259.1,53.2 261.6,50.9 264.3,48.8 267.1,46.9 270.1,45.2 273.2,43.7 276.4,42.5 279.6,41.4 282.8,40.4 286.2,39.5 289.5,38.7 292.9,37.9 296.2,37.2 299.5,36.5 302.9,35.9 306.3,35.4 309.7,34.9 309.7,29.8 305,30.1 300.4,30.4 295.8,30.7 291.2,31.1 286.5,31.4 281.9,31.8 277.3,32.1 272.6,32.5 268,32.9 263.4,33.2 258.8,33.6 254.1,34 249.5,34.4 244.9,34.8 240.3,35.2 235.6,35.6 231,36.1 226.4,36.6 221.8,37.2 217.2,38 212.7,38.9 208.1,39.9 203.6,41 199.1,42.2 194.7,43.6 190.3,45.2 186,46.9 181.8,48.9 177.7,51.1 173.7,53.7 170.1,56.4 166.6,59.4 163.3,62.7 160.3,66.3 157.5,70 155,74 152.8,78 150.8,82.2 148.9,86.5 147.2,90.8 145.6,95.2 144,99.6 142.5,104 141.1,108.4 139.8,112.8 138.6,117.3 137.5,121.8 136.5,126.3 135.5,130.9 134.6,135.4 133.8,140 132.9,144.6 132.1,149.1 131.2,153.7 130.3,158.2 129.4,162.8 128.5,167.3 127.6,171.9 126.7,176.5 125.8,181 124.9,185.6 124,190.1 123.1,194.7 122.2,199.2 121.3,203.8 120.4,208.3 119.5,212.9 118.6,217.4 117.7,222" fill="none" stroke="#E8701F" stroke-width="1.2" />
<polyline points="200.5,222 201.5,218.9 202.5,215.7 203.5,212.6 204.5,209.4 205.5,206.3 206.5,203.1 207.5,200 208.5,196.8 209.5,193.7 210.5,190.5 211.5,187.4 212.5,184.2 213.5,181.1 214.5,177.9 215.5,174.8 216.5,171.6 217.5,168.5 218.5,165.3 219.5,162.2 220.4,159 221.4,155.9 222.4,152.7 223.4,149.6 224.4,146.4 225.4,143.2 226.3,140.1 227.3,136.9 228.3,133.8 229.3,130.6 230.3,127.5 231.2,124.3 232.2,121.2 233.2,118 234.2,114.9 235.2,111.8 236.3,108.6 237.4,105.5 238.5,102.4 239.7,99.4 240.9,96.3 242.2,93.2 243.5,90.2 244.8,87.2 246.2,84.2 247.5,81.1 249,78.1 250.4,75.1 252,72.2 253.6,69.3 255.3,66.6 257.2,63.9 259.3,61.3 261.5,58.8 263.8,56.5 266.3,54.4 268.9,52.5 271.8,50.7 274.7,49.2 277.7,47.9 280.8,46.7 283.9,45.7 287.1,44.8 290.3,43.9 293.5,43.1 296.7,42.3 299.9,41.6 303.2,40.9 306.4,40.3 309.7,39.8 309.7,35.1 305.2,35.4 300.7,35.8 296.3,36.2 291.8,36.6 287.4,37 282.9,37.4 278.4,37.8 274,38.2 269.5,38.6 265.1,39.1 260.6,39.5 256.1,39.9 251.7,40.4 247.2,40.8 242.7,41.3 238.3,41.8 233.8,42.3 229.4,42.9 225,43.5 220.5,44.2 216.1,45 211.7,46 207.4,47.1 203.1,48.2 198.7,49.6 194.5,51.1 190.4,52.7 186.3,54.6 182.3,56.8 178.5,59.2 174.9,61.8 171.4,64.6 168.1,67.7 165.2,71.1 162.6,74.7 160.2,78.5 158.1,82.5 156.2,86.6 154.5,90.7 152.9,94.9 151.4,99.2 150,103.4 148.7,107.7 147.4,112 146.3,116.3 145.3,120.7 144.3,125 143.4,129.4 142.6,133.8 141.8,138.2 141,142.7 140.2,147.1 139.4,151.5 138.6,155.9 137.8,160.3 137,164.7 136.1,169.1 135.3,173.5 134.5,177.9 133.7,182.3 132.9,186.7 132,191.2 131.2,195.6 130.4,200 129.6,204.4 128.8,208.8 128,213.2 127.2,217.6 126.3,222" fill="none" stroke="#E8701F" stroke-width="1.2" />
<polyline points="206.6,222 207.6,219 208.5,216 209.5,213 210.4,210 211.4,207 212.4,204 213.3,201 214.3,198 215.2,195 216.2,192 217.2,189 218.1,186 219.1,183 220,180 220.9,177 221.9,174 222.8,171 223.7,168 224.7,165 225.6,162 226.5,159 227.5,156 228.4,152.9 229.3,149.9 230.3,146.9 231.2,143.9 232.2,140.9 233.2,137.9 234.1,135 235.1,132 236.1,129 237.2,126 238.2,123.1 239.3,120.1 240.3,117.1 241.4,114.2 242.5,111.2 243.7,108.3 244.8,105.4 246,102.4 247.2,99.5 248.4,96.6 249.6,93.7 250.9,90.9 252.2,88 253.5,85.1 254.8,82.2 256.2,79.3 257.6,76.5 259.2,73.8 260.8,71.2 262.6,68.7 264.7,66.3 266.8,64.1 269.1,62.1 271.6,60.4 274.2,58.9 277,57.6 279.9,56.4 282.8,55.5 285.8,54.7 288.7,53.9 291.8,53.3 294.7,52.5 297.7,51.6 300.7,50.8 303.7,50 306.7,49.3 309.7,48.7 309.7,48 305.6,48.5 301.6,49 297.5,49.5 293.4,50 289.4,50.5 285.3,51.1 281.2,51.6 277.2,52.2 273.1,52.7 269.1,53.3 265,53.8 261,54.4 256.9,55 252.9,55.6 248.8,56.2 244.7,56.7 240.6,57.2 236.5,57.6 232.3,58.1 228.2,58.6 224,59.2 219.9,59.8 215.8,60.6 211.7,61.6 207.6,62.6 203.6,63.8 199.6,65.1 195.7,66.7 191.9,68.5 188.2,70.5 184.7,72.7 181.2,75.1 177.9,77.8 175.1,80.8 172.8,84 170.7,87.7 168.9,91.5 167.3,95.4 165.9,99.3 164.5,103.2 163.3,107.2 162.1,111.2 161.1,115.3 160.2,119.3 159.4,123.4 158.7,127.5 158.1,131.6 157.5,135.7 156.9,139.8 156.3,144 155.7,148.1 155,152.2 154.3,156.3 153.7,160.4 153,164.5 152.3,168.6 151.7,172.7 151,176.8 150.3,180.9 149.7,185 149,189.1 148.4,193.2 147.7,197.4 147,201.5 146.4,205.6 145.7,209.7 145.1,213.8 144.4,217.9 143.8,222" fill="none" stroke="#E8701F" stroke-width="0.9" />
<polyline points="206.6,222 207.6,219 208.5,216 209.5,213 210.4,210 211.4,207 212.4,204 213.3,201 214.3,198 215.2,195 216.2,192 217.2,189 218.1,186 219.1,183 220,180 220.9,177 221.9,174 222.8,171 223.7,168 224.7,165 225.6,162 226.5,159 227.5,156 228.4,152.9 229.3,149.9 230.3,146.9 231.2,143.9 232.2,140.9 233.2,137.9 234.1,135 235.1,132 236.1,129 237.2,126 238.2,123.1 239.3,120.1 240.3,117.1 241.4,114.2 242.5,111.2 243.7,108.3 244.8,105.4 246,102.4 247.2,99.5 248.4,96.6 249.6,93.7 250.9,90.9 252.2,88 253.5,85.1 254.8,82.2 256.2,79.3 257.6,76.5 259.2,73.8 260.8,71.2 262.6,68.7 264.7,66.5 267,64.5 269.4,62.7 271.8,61.2 274.5,59.9 277.4,58.8 280.3,57.8 283.2,57.1 286.1,56.5 289.1,56 292.1,55.6 295,54.8 297.9,53.9 300.9,53.1 303.8,52.3 306.7,51.6 309.7,50.9 309.7,50.2 305.7,50.7 301.7,51.2 297.7,51.8 293.7,52.3 289.7,52.8 285.7,53.4 281.7,53.9 277.7,54.5 273.7,55.1 269.8,55.7 265.8,56.2 261.8,56.8 257.8,57.4 253.8,58.1 249.8,58.7 245.8,59.2 241.7,59.5 237.5,59.8 233.3,60.1 229.1,60.4 224.9,60.8 220.8,61.3 216.6,61.9 212.4,62.6 208.2,63.5 204.1,64.5 200.1,65.7 196.1,67.1 192.1,68.7 188.3,70.6 184.7,72.7 181.2,75.1 177.9,77.8 175.1,80.8 172.8,84 170.7,87.7 168.9,91.5 167.3,95.4 165.9,99.3 164.5,103.2 163.3,107.2 162.1,111.2 161.1,115.3 160.2,119.3 159.4,123.4 158.7,127.5 158.1,131.6 157.5,135.7 156.9,139.8 156.3,144 155.7,148.1 155,152.2 154.3,156.3 153.7,160.4 153,164.5 152.3,168.6 151.7,172.7 151,176.8 150.3,180.9 149.7,185 149,189.1 148.4,193.2 147.7,197.4 147,201.5 146.4,205.6 145.7,209.7 145.1,213.8 144.4,217.9 143.8,222" fill="none" stroke="#E8701F" stroke-width="0.9" />
<polyline points="206.6,222 207.6,219 208.5,216 209.5,213 210.4,210 211.4,207 212.4,204 213.3,201 214.3,198 215.2,195 216.2,192 217.2,189 218.1,186 219.1,183 220,180 220.9,177 221.9,174 222.8,171 223.7,168 224.7,165 225.6,162 226.5,159 227.5,156 228.4,152.9 229.3,149.9 230.3,146.9 231.2,143.9 232.2,140.9 233.2,137.9 234.1,135 235.1,132 236.1,129 237.2,126 238.2,123.1 239.3,120.1 240.3,117.1 241.4,114.2 242.5,111.2 243.7,108.3 244.8,105.4 246,102.4 247.2,99.5 248.4,96.6 249.6,93.7 250.9,90.9 252.2,88 253.5,85.1 254.8,82.2 256.2,79.3 257.6,76.5 259.2,73.8 260.8,71.2 262.6,68.7 264.8,66.7 267.1,64.8 269.5,63.2 272,61.8 274.8,60.7 277.7,59.7 280.6,59 283.5,58.4 286.4,58 289.4,57.7 292.4,57.4 295.3,56.7 298.1,55.8 301,54.9 303.9,54.1 306.8,53.3 309.7,52.6 309.7,52.4 305.8,52.9 301.8,53.5 297.9,54 294,54.6 290,55.1 286.1,55.7 282.2,56.3 278.3,56.9 274.4,57.5 270.4,58.1 266.5,58.7 262.6,59.3 258.7,59.9 254.8,60.6 250.9,61.2 246.9,61.7 242.7,61.8 238.5,62 234.3,62.1 230.1,62.2 225.8,62.4 221.6,62.7 217.4,63.2 213.1,63.7 208.8,64.4 204.6,65.3 200.5,66.2 196.4,67.5 192.4,69 188.4,70.7 184.7,72.7 181.2,75.1 177.9,77.8 175.1,80.8 172.8,84 170.7,87.7 168.9,91.5 167.3,95.4 165.9,99.3 164.5,103.2 163.3,107.2 162.1,111.2 161.1,115.3 160.2,119.3 159.4,123.4 158.7,127.5 158.1,131.6 157.5,135.7 156.9,139.8 156.3,144 155.7,148.1 155,152.2 154.3,156.3 153.7,160.4 153,164.5 152.3,168.6 151.7,172.7 151,176.8 150.3,180.9 149.7,185 149,189.1 148.4,193.2 147.7,197.4 147,201.5 146.4,205.6 145.7,209.7 145.1,213.8 144.4,217.9 143.8,222" fill="none" stroke="#E8701F" stroke-width="0.9" />
<polyline points="145.2,179.9 145.9,175.7 146.6,171.5 147.3,167.3 148,163.1 148.8,158.9 149.5,154.7 150.2,150.5 150.9,146.3 151.5,142.1 152.2,137.9 152.9,133.6 153.6,129.4 154.3,125.2 155.2,121.1 156.1,116.9 157.1,112.8 158.2,108.7 159.4,104.6 160.7,100.5 162.2,96.5 163.7,92.5 165.4,88.6 167.3,84.7 169.4,81 171.9,77.6 174.7,74.5 178,71.7 181.5,69.1 185,66.7 188.7,64.5 192.4,62.4 196.3,60.7 200.3,59.1 204.3,57.8 208.4,56.5 212.5,55.4 216.7,54.4 220.8,53.5 225,52.7 229.2,52 233.5,51.4 237.7,50.8 241.9,50.2 246.1,49.6 250.4,49.1 254.6,48.5 258.8,48" fill="none" stroke="#fff" stroke-width="0.55" opacity="0.8"/>
<polyline points="147.4,180.4 148.1,176.2 148.8,172.1 149.5,167.9 150.2,163.7 150.9,159.6 151.6,155.4 152.3,151.2 153,147.1 153.6,142.9 154.2,138.7 154.9,134.5 155.5,130.4 156.3,126.2 157,122.1 157.9,118 158.8,113.9 159.9,109.8 161.1,105.7 162.4,101.7 163.8,97.7 165.3,93.8 166.9,89.9 168.8,86 170.9,82.3 173.3,79 176.1,76 179.4,73.2 182.9,70.7 186.4,68.3 190,66.1 193.7,64.1 197.6,62.4 201.5,60.9 205.5,59.5 209.5,58.2 213.6,57.1 217.7,56.1 221.8,55.2 226,54.5 230.2,53.8 234.3,53.2 238.5,52.6 242.7,52 246.9,51.4" fill="none" stroke="#fff" stroke-width="0.55" opacity="0.8"/>
<polyline points="170,75.8 172.9,72.7 176.2,69.8 179.7,67.1 183.2,64.7 186.9,62.4 190.8,60.3 194.7,58.5 198.7,56.9 202.8,55.5 206.9,54.2 211.1,53.1 215.3,52.1 219.6,51.2 223.8,50.4 228.1,49.7 232.4,49 236.6,48.5" fill="none" stroke="#fff" stroke-width="0.55" opacity="0.8"/>
<polyline points="263.9,50.3 268.1,49.8 272.2,49.2 276.4,48.7 280.6,48.2 284.7,47.7 288.9,47.2 293,46.7 297.2,46.2 301.4,45.7 305.5,45.3 309.7,44.8" fill="none" stroke="#fff" stroke-width="0.55" opacity="0.8"/>
<polyline points="288.5,45 292.8,44.5 297,44.1 301.2,43.6 305.5,43.2 309.7,42.7" fill="none" stroke="#fff" stroke-width="0.7" opacity="0.8"/>
<polyline points="215.1,181.6 216.1,178.5 217.1,175.4 218.1,172.3 219,169.2 220,166.1 221,163 221.9,159.9 222.9,156.8 223.9,153.7 224.8,150.5 225.8,147.4 226.8,144.3 227.8,141.2 228.7,138.1 229.7,135 230.7,131.9 231.7,128.8 232.7,125.7 233.6,122.6 234.6,119.5 235.7,116.4 236.7,113.3 237.8,110.3 238.9,107.2 240,104.1 241.2,101.1 242.4,98.1 243.6,95.1 244.9,92.1 246.2,89.1 247.5,86.1 248.9,83.1 250.3,80.1 251.7,77.2 253.2,74.3 254.8,71.4 256.4,68.7 258.3,66 260.2,63.4" fill="none" stroke="#fff" stroke-width="0.55" opacity="0.8"/>
<polyline points="217.1,182.3 218.1,179.3 219,176.2 220,173.2 220.9,170.1 221.9,167 222.8,164 223.8,160.9 224.7,157.9 225.7,154.8 226.6,151.7 227.6,148.7 228.5,145.6 229.5,142.6 230.5,139.5 231.4,136.5 232.4,133.4 233.4,130.4 234.4,127.3 235.4,124.3 236.4,121.3 237.5,118.3 238.5,115.2 239.6,112.2 240.7,109.2 241.8,106.2 243,103.2 244.2,100.3 245.4,97.3 246.7,94.3 247.9,91.4 249.2,88.5 250.5,85.5 251.9,82.6 253.2,79.7 254.7,76.8 256.2,74 257.8,71.2 259.5,68.6 261.4,66 263.5,63.5 265.7,61.1 268,58.9" fill="none" stroke="#fff" stroke-width="0.45" opacity="0.8"/>
<polyline points="203.2,181.3 204.3,177.9 205.4,174.5 206.4,171.1 207.5,167.7 208.6,164.3 209.7,160.9 210.8,157.5 211.9,154.1 213,150.7 214,147.3 215.1,143.9 216.1,140.5 217.2,137.1 218.2,133.7 219.2,130.3 220.2,126.9 221.2,123.5 222.2,120.1 223.1,116.6 223.9,113.2 224.8,109.7" fill="none" stroke="#fff" stroke-width="0.4" opacity="0.6"/>
<polyline points="222.4,183.4 223.3,180.5 224.2,177.5 225.1,174.5 226,171.5 226.9,168.6 227.8,165.6 228.7,162.6 229.6,159.6 230.5,156.6 231.4,153.7 232.3,150.7 233.2,147.7 234.1,144.8 235.1,141.8 236,138.8 236.9,135.9 237.9,132.9 238.8,130 239.8,127 240.8,124.1 241.8,121.1 242.8,118.2 243.8,115.3 244.9,112.3 245.9,109.4 247,106.5 248,103.6 249.1,100.6 250.3,97.8 251.4,94.9 252.6,92 253.8,89.1 255,86.3 256.3,83.4 257.5,80.5 258.9,77.7 260.3,74.9 261.9,72.3" fill="none" stroke="#fff" stroke-width="0.5" opacity="0.8"/>
<polyline points="225,183.7 225.9,180.8 226.8,177.8 227.6,174.9 228.5,171.9 229.4,169 230.2,166 231.1,163.1 232,160.1 232.9,157.2 233.7,154.2 234.6,151.3 235.5,148.3 236.4,145.4 237.3,142.4 238.2,139.5 239.1,136.6 240,133.6 240.9,130.7 241.8,127.8 242.8,124.8 243.7,121.9 244.7,119 245.7,116.1 246.6,113.2 247.6,110.2 248.6,107.3 249.6,104.4 250.6,101.5 251.7,98.6 252.8,95.8 253.9,92.9 255,90 256.2,87.2 257.4,84.3 258.6,81.4 259.9,78.6 261.3,75.8 262.7,73.2 264.3,70.6" fill="none" stroke="#fff" stroke-width="0.5" opacity="0.8"/>
<polygon points="63.7,184.5 65.5,184.7 67.2,183.5 69,184.3 70.7,184.3 72.5,185 74.2,184.1 76,184.5 77.7,183.6 79.5,184.2 81.2,184.1 83,183.8 84.7,185 86.5,184.3 88.2,185.4 90,184.7 91.7,184.7 93.5,184.8 95.2,184.9 97,184 98.7,184.5 100.5,184.2 102.2,184.5 104,184 105.7,185.6 107.5,184.2 109.2,185.1 111,184.4 112.7,185.5 114.5,185.1 116.2,184.2 118,185.5 119.7,185.7 121.5,185.6 123.2,185.1 125,184.3 126.7,184.4 128.4,185.8 130.2,185.1 131.9,184.5 133.7,185.8 135.4,185.4 137.2,185.2 138.9,184.9 140.7,185 142.4,184.7 144.2,184.4 145.9,185.9 147.7,185.2 149.4,185.4 151.2,185 152.9,185.8 154.7,184.5 156.4,185.1 158.2,184.5 159.9,184.7 161.7,186.3 163.4,185.7 165.2,185.3 166.9,185.5 168.7,186.2 170.4,185.3 172.2,185.7 173.9,185.9 175.7,185.3 177.4,185.7 179.2,186.1 180.9,186.4 182.7,185.1 184.4,186.5 186.2,184.8 187.9,186.2 189.7,186.3 191.4,185.1 193.2,185.7 194.9,186.4 196.7,185 198.4,186.1 200.2,186.4 201.9,186 203.7,186.4 205.4,185.5 207.2,185.5 208.9,185.8 208.4,186.5 197.6,219.6 63.7,219.6" fill="#E8701F" />
<polyline points="63.7,184.2 65.5,184.9 67.2,187.1 69,185.7 70.7,184.9 72.5,184.7 74.2,187.2 76,185.4 77.7,187.3 79.5,185.7 81.2,185.7 83,187.1 84.7,186.5 86.5,186 88.2,185.4 90,187.1 91.7,185.4 93.5,187.3 95.2,184.2 97,185.6 98.7,185.9 100.5,187.5 102.2,185 104,187 105.7,186.6 107.5,186.7 109.2,186.4 111,187.7 112.7,185.4 114.5,185.7 116.2,185 118,184.5 119.7,185.1 121.5,187.6 123.2,187.4 125,184.8 126.7,186.6 128.4,186.1 130.2,186.6 131.9,186.8 133.7,185.6 135.4,188 137.2,186.2 138.9,186.8 140.7,186.8 142.4,185.2 144.2,184.8 145.9,186.1 147.7,187.4 149.4,187.6 151.2,187.3 152.9,185.1 154.7,188 156.4,187.6 158.2,187.9 159.9,186.7 161.7,188.1 163.4,185 165.2,185 166.9,185 168.7,185.8 170.4,185.8 172.2,185.6 173.9,187 175.7,185.1 177.4,187.1 179.2,185.6 180.9,187.5 182.7,185.2 184.4,186.2 186.2,188.5 187.9,187.1 189.7,188.1 191.4,187.6 193.2,187.4 194.9,185.9 196.7,187.3 198.4,185.4 200.2,188.2 201.9,188.8 203.7,188.4 205.4,185.6 207.2,186.6 208.9,186.6" fill="none" stroke="#E8701F" stroke-width="1.0" />
<polyline points="63.7,184 65.5,185.9 67.2,186.5 69,184.8 70.7,186.8 72.5,186.6 74.2,184.2 76,186.5 77.7,187 79.5,184.5 81.2,185.9 83,186.1 84.7,186.1 86.5,184.2 88.2,186.3 90,186.2 91.7,186.9 93.5,186.9 95.2,185.2 97,186.6 98.7,187.2 100.5,187.3 102.2,184.7 104,184.2 105.7,186.5 107.5,184.9 109.2,186.2 111,187.6 112.7,185.6 114.5,185.1 116.2,185.9 118,186.6 119.7,184.7 121.5,185.7 123.2,184.8 125,186.8 126.7,187.4 128.4,185.8 130.2,185.8 131.9,186.4 133.7,185.2 135.4,185.4 137.2,185.7 138.9,186.2 140.7,184.9 142.4,187.3 144.2,186.7 145.9,185.7 147.7,184.9 149.4,187.4 151.2,185.2 152.9,185.2 154.7,185.2 156.4,185.1 158.2,188 159.9,185.8 161.7,185.9 163.4,187.8 165.2,187.1 166.9,185.6 168.7,186.5 170.4,188.1 172.2,186.3 173.9,187.5 175.7,185.3 177.4,187.6 179.2,187.8 180.9,188 182.7,187.5 184.4,186.4 186.2,185.4 187.9,187 189.7,187.9 191.4,185.9 193.2,186.2 194.9,187.2 196.7,188 198.4,188.5 200.2,185.8 201.9,186 203.7,188.2 205.4,187.7 207.2,188 208.9,189" fill="none" stroke="#E8701F" stroke-width="1.0" />
<polyline points="63.7,187 65.5,186.7 67.2,186.4 69,185.1 70.7,186 72.5,184.4 74.2,186.5 76,186.5 77.7,186.4 79.5,185.4 81.2,185.2 83,185.4 84.7,184 86.5,186.9 88.2,185.9 90,185.3 91.7,185.9 93.5,186.6 95.2,185.4 97,187 98.7,187.3 100.5,185.5 102.2,184.6 104,186.8 105.7,187.7 107.5,184.7 109.2,186.7 111,187.2 112.7,187.5 114.5,184.7 116.2,184.6 118,187.8 119.7,184.7 121.5,185 123.2,186.4 125,186 126.7,187.1 128.4,185.1 130.2,187.7 131.9,185.2 133.7,187.2 135.4,184.7 137.2,186.2 138.9,184.7 140.7,185.7 142.4,185.7 144.2,187.2 145.9,186.3 147.7,184.9 149.4,188.3 151.2,187.9 152.9,188 154.7,185.6 156.4,186.2 158.2,185.6 159.9,185.3 161.7,184.9 163.4,186.7 165.2,185.3 166.9,185.5 168.7,188 170.4,186.7 172.2,185.6 173.9,187.4 175.7,186 177.4,186.9 179.2,186.1 180.9,186.9 182.7,187.4 184.4,187 186.2,186.6 187.9,188 189.7,188.3 191.4,185.8 193.2,185.7 194.9,185.6 196.7,188.8 198.4,188.7 200.2,186.1 201.9,188.8 203.7,186.1 205.4,187.2 207.2,187.2 208.9,188.7" fill="none" stroke="#E8701F" stroke-width="1.0" />
<polyline points="63.7,183.7 65.5,184.8 67.2,185.8 69,183.9 70.7,184.5 72.5,185.4 74.2,186.9 76,186.5 77.7,186.8 79.5,186.5 81.2,186.4 83,186.9 84.7,186.3 86.5,186.5 88.2,185 90,184.5 91.7,186.7 93.5,184.6 95.2,187.3 97,186.2 98.7,185.2 100.5,187.4 102.2,184.6 104,186 105.7,184.5 107.5,187.6 109.2,186.2 111,187.1 112.7,185.2 114.5,187.1 116.2,186.8 118,186.6 119.7,187.7 121.5,185.9 123.2,185.8 125,186.9 126.7,187.4 128.4,185.6 130.2,186.8 131.9,185.2 133.7,186.5 135.4,187.3 137.2,184.8 138.9,187.2 140.7,184.6 142.4,188 144.2,186.3 145.9,186.1 147.7,187.2 149.4,186.6 151.2,187.3 152.9,185 154.7,186.8 156.4,186.8 158.2,188.1 159.9,184.9 161.7,186.5 163.4,187.1 165.2,186.9 166.9,185.2 168.7,187 170.4,185.7 172.2,185.7 173.9,188.1 175.7,185.7 177.4,186.7 179.2,187.7 180.9,187.6 182.7,187.1 184.4,188 186.2,186.8 187.9,187.4 189.7,188.1 191.4,187.6 193.2,187.5 194.9,186.7 196.7,187.3 198.4,186.7 200.2,188 201.9,186.7 203.7,187 205.4,188.1 207.2,187.2 208.9,186.6" fill="none" stroke="#E8701F" stroke-width="1.0" />
<path d="M194.7 219.6l1 -3.4l0.8 3.4z" fill="#fff"/>
<path d="M180.2 219.6l1.1 -1.7l0.9 1.7z" fill="#3DB53A"/>
<path d="M160.6 219.6l0.9 -4.8l0.7 4.8z" fill="#fff"/>
<path d="M113.3 219.6l0.7 -3l1.2 3z" fill="#3DB53A"/>
<path d="M134.7 219.6l0.9 -3.7l1.2 3.7z" fill="#3DB53A"/>
<path d="M202.5 219.6l1.1 -3.4l0.8 3.4z" fill="#3DB53A"/>
<path d="M176.8 219.6l0.7 -1.9l0.8 1.9z" fill="#fff"/>
<path d="M115.1 219.6l1.1 -3.6l0.8 3.6z" fill="#fff"/>
<path d="M187.2 219.6l0.8 -3.8l0.6 3.8z" fill="#3DB53A"/>
<path d="M130.1 219.6l0.4 -5l1 5z" fill="#fff"/>
<path d="M193.5 219.6l0.9 -3.7l0.6 3.7z" fill="#3DB53A"/>
<path d="M171.4 219.6l0.6 -3.4l0.8 3.4z" fill="#fff"/>
<path d="M156.4 219.6l1.2 -4.7l0.6 4.7z" fill="#3DB53A"/>
<path d="M128.8 219.6l0.7 -2.8l1 2.8z" fill="#3DB53A"/>
<path d="M179.8 219.6l0.7 -2.5l1 2.5z" fill="#3DB53A"/>
<path d="M151.8 219.6l0.9 -6.1l1 6.1z" fill="#fff"/>
<path d="M185 219.6l0.8 -3.2l0.8 3.2z" fill="#3DB53A"/>
<path d="M108 219.6l0.5 -3.7l0.5 3.7z" fill="#fff"/>
<path d="M112 219.6l0.4 -2.9l0.5 2.9z" fill="#fff"/>
<path d="M110.9 219.6l0.8 -3.9l0.5 3.9z" fill="#3DB53A"/>
<path d="M124.2 219.6l0.9 -5.5l0.7 5.5z" fill="#3DB53A"/>
<path d="M142.9 219.6l1.1 -5.6l1.1 5.6z" fill="#3DB53A"/>
<path d="M174.6 219.6l0.9 -1.7l1 1.7z" fill="#fff"/>
<path d="M117.1 219.6l0.5 -6.3l0.7 6.3z" fill="#fff"/>
<path d="M94.2 219.6l1.2 -5.7l0.9 5.7z" fill="#fff"/>
<path d="M174.3 219.6l1.2 -4.9l0.9 4.9z" fill="#fff"/>
<path d="M132.5 219.6l1 -4.1l1 4.1z" fill="#3DB53A"/>
<path d="M143.3 219.6l0.7 -5.8l0.5 5.8z" fill="#fff"/>
<path d="M106.8 219.6l0.8 -2.4l1.1 2.4z" fill="#3DB53A"/>
<path d="M125.3 219.6l1.1 -6l0.7 6z" fill="#fff"/>
<path d="M90.5 219.6l0.5 -5.4l1 5.4z" fill="#3DB53A"/>
<path d="M176.9 219.6l1.2 -2.6l0.6 2.6z" fill="#3DB53A"/>
<path d="M178.9 219.6l0.5 -2.1l0.8 2.1z" fill="#fff"/>
<path d="M94.5 219.6l0.5 -4.3l0.6 4.3z" fill="#fff"/>
<path d="M186.8 219.6l0.9 -4.5l0.8 4.5z" fill="#3DB53A"/>
<path d="M199.1 219.6l0.9 -3l1 3z" fill="#fff"/>
</g>
<rect x="63.7" y="15.1" width="254.7" height="204.5" fill="none" stroke="#111" stroke-width="1.05"/>
<path d="M63.7 219.6v4.2M98.8 219.6v4.2M134 219.6v4.2M169.1 219.6v4.2M204.3 219.6v4.2M239.4 219.6v4.2M274.5 219.6v4.2M309.7 219.6v4.2M81.3 219.6v2.3M116.4 219.6v2.3M151.6 219.6v2.3M186.7 219.6v2.3M221.8 219.6v2.3M257 219.6v2.3M292.1 219.6v2.3" stroke="#111" stroke-width="1.0" fill="none"/>
<text x="63.7" y="233.9" font-size="9.6" text-anchor="middle" fill="#111" font-weight="normal" >-6</text>
<text x="98.8" y="233.9" font-size="9.6" text-anchor="middle" fill="#111" font-weight="normal" >-4</text>
<text x="134" y="233.9" font-size="9.6" text-anchor="middle" fill="#111" font-weight="normal" >-2</text>
<text x="169.1" y="233.9" font-size="9.6" text-anchor="middle" fill="#111" font-weight="normal" >0</text>
<text x="204.3" y="233.9" font-size="9.6" text-anchor="middle" fill="#111" font-weight="normal" >2</text>
<text x="239.4" y="233.9" font-size="9.6" text-anchor="middle" fill="#111" font-weight="normal" >4</text>
<text x="274.5" y="233.9" font-size="9.6" text-anchor="middle" fill="#111" font-weight="normal" >6</text>
<text x="309.7" y="233.9" font-size="9.6" text-anchor="middle" fill="#111" font-weight="normal" >8</text>
<path d="M63.7 15.1h-4.2M63.7 56h-4.2M63.7 96.9h-4.2M63.7 137.8h-4.2M63.7 178.7h-4.2M63.7 219.6h-4.2M63.7 35.5h-3.4M63.7 76.4h-3.4M63.7 117.3h-3.4M63.7 158.2h-3.4M63.7 199.1h-3.4M63.7 29.4h-2.3M63.7 25.8h-2.3M63.7 23.2h-2.3M63.7 21.3h-2.3M63.7 19.6h-2.3M63.7 18.3h-2.3M63.7 17.1h-2.3M63.7 16h-2.3M63.7 49.8h-2.3M63.7 46.2h-2.3M63.7 43.7h-2.3M63.7 41.7h-2.3M63.7 40.1h-2.3M63.7 38.7h-2.3M63.7 37.5h-2.3M63.7 36.5h-2.3M63.7 70.3h-2.3M63.7 66.7h-2.3M63.7 64.1h-2.3M63.7 62.2h-2.3M63.7 60.5h-2.3M63.7 59.2h-2.3M63.7 58h-2.3M63.7 56.9h-2.3M63.7 90.7h-2.3M63.7 87.1h-2.3M63.7 84.6h-2.3M63.7 82.6h-2.3M63.7 81h-2.3M63.7 79.6h-2.3M63.7 78.4h-2.3M63.7 77.4h-2.3M63.7 111.2h-2.3M63.7 107.6h-2.3M63.7 105h-2.3M63.7 103.1h-2.3M63.7 101.4h-2.3M63.7 100.1h-2.3M63.7 98.9h-2.3M63.7 97.8h-2.3M63.7 131.6h-2.3M63.7 128h-2.3M63.7 125.5h-2.3M63.7 123.5h-2.3M63.7 121.9h-2.3M63.7 120.5h-2.3M63.7 119.3h-2.3M63.7 118.3h-2.3M63.7 152.1h-2.3M63.7 148.5h-2.3M63.7 145.9h-2.3M63.7 144h-2.3M63.7 142.3h-2.3M63.7 141h-2.3M63.7 139.8h-2.3M63.7 138.7h-2.3M63.7 172.5h-2.3M63.7 168.9h-2.3M63.7 166.4h-2.3M63.7 164.4h-2.3M63.7 162.8h-2.3M63.7 161.4h-2.3M63.7 160.2h-2.3M63.7 159.2h-2.3M63.7 193h-2.3M63.7 189.4h-2.3M63.7 186.8h-2.3M63.7 184.9h-2.3M63.7 183.2h-2.3M63.7 181.9h-2.3M63.7 180.7h-2.3M63.7 179.6h-2.3M63.7 213.4h-2.3M63.7 209.8h-2.3M63.7 207.3h-2.3M63.7 205.3h-2.3M63.7 203.7h-2.3M63.7 202.3h-2.3M63.7 201.1h-2.3M63.7 200.1h-2.3" stroke="#111" stroke-width="1.0" fill="none"/>
<text x="56.8" y="18.4" font-size="9.9" text-anchor="end" fill="#111" font-weight="normal" >10<tspan font-size="6.1" dy="-3.7">-4</tspan></text>
<text x="56.8" y="59.3" font-size="9.9" text-anchor="end" fill="#111" font-weight="normal" >10<tspan font-size="6.1" dy="-3.7">-6</tspan></text>
<text x="56.8" y="100.2" font-size="9.9" text-anchor="end" fill="#111" font-weight="normal" >10<tspan font-size="6.1" dy="-3.7">-8</tspan></text>
<text x="56.8" y="141.1" font-size="9.9" text-anchor="end" fill="#111" font-weight="normal" >10<tspan font-size="6.1" dy="-3.7">-10</tspan></text>
<text x="56.8" y="182" font-size="9.9" text-anchor="end" fill="#111" font-weight="normal" >10<tspan font-size="6.1" dy="-3.7">-12</tspan></text>
<text x="56.8" y="222.9" font-size="9.9" text-anchor="end" fill="#111" font-weight="normal" >10<tspan font-size="6.1" dy="-3.7">-14</tspan></text>
<text x="1.6" y="8.6" font-size="11.4" text-anchor="start" fill="#111" font-weight="bold" >a</text>
<text x="191.9" y="250.1" font-size="11.6" text-anchor="middle" fill="#111" font-weight="normal" ><tspan font-style="italic">V</tspan><tspan font-size="8.1" dy="2.5">GS</tspan><tspan dy="-2.5">&#8203;</tspan> (V)</text>
<g transform="translate(27.3,113.9) rotate(-90)">
<text x="0" y="0" font-size="11.6" text-anchor="middle" fill="#111" font-weight="normal" ><tspan font-style="italic">I</tspan><tspan font-size="8.1" dy="2.5">DS</tspan><tspan dy="-2.5">&#8203;</tspan> (A)</text>
</g>
<path d="M68.2 23.9H85.2" stroke="#3DB53A" stroke-width="1.6"/>
<path d="M68.2 39.9H85.2" stroke="#E8701F" stroke-width="1.6"/>
<text x="88.6" y="27.2" font-size="11.0" text-anchor="start" fill="#111" font-weight="normal" >CMOS substrate</text>
<text x="88.6" y="43" font-size="11.0" text-anchor="start" fill="#111" font-weight="normal" >SiO<tspan font-size="7.6" dy="2.3">2</tspan><tspan dy="-2.3">&#8203;</tspan> substrate</text>
<text x="237.6" y="204.5" font-size="11.0" text-anchor="start" fill="#111" font-weight="normal" >@ <tspan font-style="italic">V</tspan><tspan font-size="7.6" dy="2.3">DS</tspan><tspan dy="-2.3">&#8203;</tspan> = 0.5 V</text>
</g>
<g id="panel-b">
<rect x="431.5" y="71.4" width="7.3" height="7.3" fill="#3CBE3C"/>
<rect x="435.5" y="46.2" width="7.3" height="7.3" fill="#3CBE3C"/>
<rect x="439.5" y="40.9" width="7.3" height="7.3" fill="#3CBE3C"/>
<rect x="443.5" y="34.3" width="7.3" height="7.3" fill="#3CBE3C"/>
<rect x="447.5" y="40.5" width="7.3" height="7.3" fill="#3CBE3C"/>
<rect x="451.5" y="30.8" width="7.3" height="7.3" fill="#3CBE3C"/>
<rect x="455.5" y="34.3" width="7.3" height="7.3" fill="#3CBE3C"/>
<rect x="459.5" y="31.1" width="7.3" height="7.3" fill="#3CBE3C"/>
<rect x="463.5" y="34.3" width="7.3" height="7.3" fill="#3CBE3C"/>
<rect x="467.5" y="54.1" width="7.3" height="7.3" fill="#3CBE3C"/>
<rect x="471.4" y="33" width="7.3" height="7.3" fill="#3CBE3C"/>
<rect x="475.4" y="38.3" width="7.3" height="7.3" fill="#3CBE3C"/>
<rect x="479.4" y="51.8" width="7.3" height="7.3" fill="#3CBE3C"/>
<rect x="483.4" y="40.3" width="7.3" height="7.3" fill="#3CBE3C"/>
<rect x="487.4" y="31.7" width="7.3" height="7.3" fill="#3CBE3C"/>
<rect x="491.4" y="28.4" width="7.3" height="7.3" fill="#3CBE3C"/>
<rect x="495.4" y="32.4" width="7.3" height="7.3" fill="#3CBE3C"/>
<rect x="499.4" y="42.9" width="7.3" height="7.3" fill="#3CBE3C"/>
<rect x="503.4" y="31.1" width="7.3" height="7.3" fill="#3CBE3C"/>
<rect x="507.4" y="31.1" width="7.3" height="7.3" fill="#3CBE3C"/>
<rect x="511.3" y="31.1" width="7.3" height="7.3" fill="#3CBE3C"/>
<rect x="515.3" y="28.4" width="7.3" height="7.3" fill="#3CBE3C"/>
<rect x="519.3" y="31.1" width="7.3" height="7.3" fill="#3CBE3C"/>
<rect x="523.3" y="42.9" width="7.3" height="7.3" fill="#3CBE3C"/>
<rect x="527.3" y="35" width="7.3" height="7.3" fill="#3CBE3C"/>
<rect x="531.3" y="37.6" width="7.3" height="7.3" fill="#3CBE3C"/>
<rect x="535.3" y="29.7" width="7.3" height="7.3" fill="#3CBE3C"/>
<rect x="539.3" y="37" width="7.3" height="7.3" fill="#3CBE3C"/>
<rect x="543.3" y="40.9" width="7.3" height="7.3" fill="#3CBE3C"/>
<rect x="547.2" y="25.8" width="7.3" height="7.3" fill="#3CBE3C"/>
<rect x="551.2" y="30.4" width="7.3" height="7.3" fill="#3CBE3C"/>
<rect x="555.2" y="35.7" width="7.3" height="7.3" fill="#3CBE3C"/>
<rect x="559.2" y="29.1" width="7.3" height="7.3" fill="#3CBE3C"/>
<rect x="563.2" y="31.7" width="7.3" height="7.3" fill="#3CBE3C"/>
<rect x="567.2" y="35.7" width="7.3" height="7.3" fill="#3CBE3C"/>
<rect x="571.2" y="45.5" width="7.3" height="7.3" fill="#3CBE3C"/>
<rect x="575.2" y="45.2" width="7.3" height="7.3" fill="#3CBE3C"/>
<rect x="579.2" y="33.7" width="7.3" height="7.3" fill="#3CBE3C"/>
<rect x="583.2" y="31.7" width="7.3" height="7.3" fill="#3CBE3C"/>
<rect x="587.1" y="35.3" width="7.3" height="7.3" fill="#3CBE3C"/>
<rect x="591.1" y="39.6" width="7.3" height="7.3" fill="#3CBE3C"/>
<rect x="595.1" y="33.7" width="7.3" height="7.3" fill="#3CBE3C"/>
<rect x="599.1" y="21.9" width="7.3" height="7.3" fill="#3CBE3C"/>
<rect x="603.1" y="24.5" width="7.3" height="7.3" fill="#3CBE3C"/>
<rect x="607.1" y="29.7" width="7.3" height="7.3" fill="#3CBE3C"/>
<rect x="611.1" y="29.1" width="7.3" height="7.3" fill="#3CBE3C"/>
<rect x="615.1" y="32.4" width="7.3" height="7.3" fill="#3CBE3C"/>
<rect x="619.1" y="49.5" width="7.3" height="7.3" fill="#3CBE3C"/>
<rect x="623.1" y="37.6" width="7.3" height="7.3" fill="#3CBE3C"/>
<rect x="627.1" y="21.9" width="7.3" height="7.3" fill="#3CBE3C"/>
<rect x="631" y="31.1" width="7.3" height="7.3" fill="#3CBE3C"/>
<rect x="635" y="36.3" width="7.3" height="7.3" fill="#3CBE3C"/>
<rect x="639" y="39.6" width="7.3" height="7.3" fill="#3CBE3C"/>
<rect x="643" y="31.7" width="7.3" height="7.3" fill="#3CBE3C"/>
<rect x="647" y="36.3" width="7.3" height="7.3" fill="#3CBE3C"/>
<rect x="651" y="37.6" width="7.3" height="7.3" fill="#3CBE3C"/>
<rect x="655" y="35.7" width="7.3" height="7.3" fill="#3CBE3C"/>
<rect x="659" y="47.5" width="7.3" height="7.3" fill="#3CBE3C"/>
<rect x="663" y="44.2" width="7.3" height="7.3" fill="#3CBE3C"/>
<rect x="667" y="42.2" width="7.3" height="7.3" fill="#3CBE3C"/>
<rect x="431.9" y="173.7" width="6.5" height="6.5" fill="#fff" stroke="#3CBE3C" stroke-width="0.8"/>
<rect x="435.9" y="167.8" width="6.5" height="6.5" fill="#fff" stroke="#3CBE3C" stroke-width="0.8"/>
<rect x="439.9" y="181.6" width="6.5" height="6.5" fill="#fff" stroke="#3CBE3C" stroke-width="0.8"/>
<rect x="443.9" y="175" width="6.5" height="6.5" fill="#fff" stroke="#3CBE3C" stroke-width="0.8"/>
<rect x="447.9" y="166.5" width="6.5" height="6.5" fill="#fff" stroke="#3CBE3C" stroke-width="0.8"/>
<rect x="451.9" y="166.5" width="6.5" height="6.5" fill="#fff" stroke="#3CBE3C" stroke-width="0.8"/>
<rect x="455.9" y="168.4" width="6.5" height="6.5" fill="#fff" stroke="#3CBE3C" stroke-width="0.8"/>
<rect x="459.9" y="166.5" width="6.5" height="6.5" fill="#fff" stroke="#3CBE3C" stroke-width="0.8"/>
<rect x="463.9" y="166.5" width="6.5" height="6.5" fill="#fff" stroke="#3CBE3C" stroke-width="0.8"/>
<rect x="467.9" y="169.1" width="6.5" height="6.5" fill="#fff" stroke="#3CBE3C" stroke-width="0.8"/>
<rect x="471.8" y="168.4" width="6.5" height="6.5" fill="#fff" stroke="#3CBE3C" stroke-width="0.8"/>
<rect x="475.8" y="170.4" width="6.5" height="6.5" fill="#fff" stroke="#3CBE3C" stroke-width="0.8"/>
<rect x="479.8" y="171.7" width="6.5" height="6.5" fill="#fff" stroke="#3CBE3C" stroke-width="0.8"/>
<rect x="483.8" y="167.8" width="6.5" height="6.5" fill="#fff" stroke="#3CBE3C" stroke-width="0.8"/>
<rect x="487.8" y="168.4" width="6.5" height="6.5" fill="#fff" stroke="#3CBE3C" stroke-width="0.8"/>
<rect x="491.8" y="166.5" width="6.5" height="6.5" fill="#fff" stroke="#3CBE3C" stroke-width="0.8"/>
<rect x="495.8" y="169.1" width="6.5" height="6.5" fill="#fff" stroke="#3CBE3C" stroke-width="0.8"/>
<rect x="499.8" y="179.6" width="6.5" height="6.5" fill="#fff" stroke="#3CBE3C" stroke-width="0.8"/>
<rect x="503.8" y="177.6" width="6.5" height="6.5" fill="#fff" stroke="#3CBE3C" stroke-width="0.8"/>
<rect x="507.8" y="165.8" width="6.5" height="6.5" fill="#fff" stroke="#3CBE3C" stroke-width="0.8"/>
<rect x="511.7" y="169.7" width="6.5" height="6.5" fill="#fff" stroke="#3CBE3C" stroke-width="0.8"/>
<rect x="515.7" y="173.7" width="6.5" height="6.5" fill="#fff" stroke="#3CBE3C" stroke-width="0.8"/>
<rect x="519.7" y="165.8" width="6.5" height="6.5" fill="#fff" stroke="#3CBE3C" stroke-width="0.8"/>
<rect x="523.7" y="166.5" width="6.5" height="6.5" fill="#fff" stroke="#3CBE3C" stroke-width="0.8"/>
<rect x="527.7" y="176.3" width="6.5" height="6.5" fill="#fff" stroke="#3CBE3C" stroke-width="0.8"/>
<rect x="531.7" y="166.5" width="6.5" height="6.5" fill="#fff" stroke="#3CBE3C" stroke-width="0.8"/>
<rect x="535.7" y="166.5" width="6.5" height="6.5" fill="#fff" stroke="#3CBE3C" stroke-width="0.8"/>
<rect x="539.7" y="171.7" width="6.5" height="6.5" fill="#fff" stroke="#3CBE3C" stroke-width="0.8"/>
<rect x="543.7" y="171.7" width="6.5" height="6.5" fill="#fff" stroke="#3CBE3C" stroke-width="0.8"/>
<rect x="547.6" y="165.1" width="6.5" height="6.5" fill="#fff" stroke="#3CBE3C" stroke-width="0.8"/>
<rect x="551.6" y="167.8" width="6.5" height="6.5" fill="#fff" stroke="#3CBE3C" stroke-width="0.8"/>
<rect x="555.6" y="171.7" width="6.5" height="6.5" fill="#fff" stroke="#3CBE3C" stroke-width="0.8"/>
<rect x="559.6" y="169.1" width="6.5" height="6.5" fill="#fff" stroke="#3CBE3C" stroke-width="0.8"/>
<rect x="563.6" y="168.4" width="6.5" height="6.5" fill="#fff" stroke="#3CBE3C" stroke-width="0.8"/>
<rect x="567.6" y="171.1" width="6.5" height="6.5" fill="#fff" stroke="#3CBE3C" stroke-width="0.8"/>
<rect x="571.6" y="171.1" width="6.5" height="6.5" fill="#fff" stroke="#3CBE3C" stroke-width="0.8"/>
<rect x="575.6" y="170.4" width="6.5" height="6.5" fill="#fff" stroke="#3CBE3C" stroke-width="0.8"/>
<rect x="579.6" y="166.5" width="6.5" height="6.5" fill="#fff" stroke="#3CBE3C" stroke-width="0.8"/>
<rect x="583.6" y="168.4" width="6.5" height="6.5" fill="#fff" stroke="#3CBE3C" stroke-width="0.8"/>
<rect x="587.5" y="169.7" width="6.5" height="6.5" fill="#fff" stroke="#3CBE3C" stroke-width="0.8"/>
<rect x="591.5" y="185.9" width="6.5" height="6.5" fill="#fff" stroke="#3CBE3C" stroke-width="0.8"/>
<rect x="595.5" y="167.8" width="6.5" height="6.5" fill="#fff" stroke="#3CBE3C" stroke-width="0.8"/>
<rect x="599.5" y="170.4" width="6.5" height="6.5" fill="#fff" stroke="#3CBE3C" stroke-width="0.8"/>
<rect x="603.5" y="167.1" width="6.5" height="6.5" fill="#fff" stroke="#3CBE3C" stroke-width="0.8"/>
<rect x="607.5" y="171.1" width="6.5" height="6.5" fill="#fff" stroke="#3CBE3C" stroke-width="0.8"/>
<rect x="611.5" y="169.1" width="6.5" height="6.5" fill="#fff" stroke="#3CBE3C" stroke-width="0.8"/>
<rect x="615.5" y="177.6" width="6.5" height="6.5" fill="#fff" stroke="#3CBE3C" stroke-width="0.8"/>
<rect x="619.5" y="171.7" width="6.5" height="6.5" fill="#fff" stroke="#3CBE3C" stroke-width="0.8"/>
<rect x="623.5" y="171.1" width="6.5" height="6.5" fill="#fff" stroke="#3CBE3C" stroke-width="0.8"/>
<rect x="627.5" y="162.5" width="6.5" height="6.5" fill="#fff" stroke="#3CBE3C" stroke-width="0.8"/>
<rect x="631.4" y="163.2" width="6.5" height="6.5" fill="#fff" stroke="#3CBE3C" stroke-width="0.8"/>
<rect x="635.4" y="169.7" width="6.5" height="6.5" fill="#fff" stroke="#3CBE3C" stroke-width="0.8"/>
<rect x="639.4" y="170.4" width="6.5" height="6.5" fill="#fff" stroke="#3CBE3C" stroke-width="0.8"/>
<rect x="643.4" y="167.8" width="6.5" height="6.5" fill="#fff" stroke="#3CBE3C" stroke-width="0.8"/>
<rect x="647.4" y="178.3" width="6.5" height="6.5" fill="#fff" stroke="#3CBE3C" stroke-width="0.8"/>
<rect x="651.4" y="169.1" width="6.5" height="6.5" fill="#fff" stroke="#3CBE3C" stroke-width="0.8"/>
<rect x="655.4" y="174.3" width="6.5" height="6.5" fill="#fff" stroke="#3CBE3C" stroke-width="0.8"/>
<rect x="659.4" y="171.1" width="6.5" height="6.5" fill="#fff" stroke="#3CBE3C" stroke-width="0.8"/>
<rect x="663.4" y="168.4" width="6.5" height="6.5" fill="#fff" stroke="#3CBE3C" stroke-width="0.8"/>
<rect x="667.4" y="181.2" width="6.5" height="6.5" fill="#fff" stroke="#3CBE3C" stroke-width="0.8"/>
<rect x="431.5" y="58.9" width="7.3" height="7.3" fill="#E8711F"/>
<rect x="435.5" y="52.7" width="7.3" height="7.3" fill="#E8711F"/>
<rect x="439.5" y="47.1" width="7.3" height="7.3" fill="#E8711F"/>
<rect x="443.5" y="52.7" width="7.3" height="7.3" fill="#E8711F"/>
<rect x="447.5" y="59.6" width="7.3" height="7.3" fill="#E8711F"/>
<rect x="451.5" y="53" width="7.3" height="7.3" fill="#E8711F"/>
<rect x="455.5" y="31.7" width="7.3" height="7.3" fill="#E8711F"/>
<rect x="459.5" y="23.8" width="7.3" height="7.3" fill="#E8711F"/>
<rect x="463.5" y="26.5" width="7.3" height="7.3" fill="#E8711F"/>
<rect x="467.5" y="51.4" width="7.3" height="7.3" fill="#E8711F"/>
<rect x="471.4" y="56.7" width="7.3" height="7.3" fill="#E8711F"/>
<rect x="475.4" y="24.1" width="7.3" height="7.3" fill="#E8711F"/>
<rect x="479.4" y="31.1" width="7.3" height="7.3" fill="#E8711F"/>
<rect x="483.4" y="21.6" width="7.3" height="7.3" fill="#E8711F"/>
<rect x="487.4" y="38.9" width="7.3" height="7.3" fill="#E8711F"/>
<rect x="491.4" y="31.1" width="7.3" height="7.3" fill="#E8711F"/>
<rect x="495.4" y="37.6" width="7.3" height="7.3" fill="#E8711F"/>
<rect x="499.4" y="28.8" width="7.3" height="7.3" fill="#E8711F"/>
<rect x="503.4" y="41.3" width="7.3" height="7.3" fill="#E8711F"/>
<rect x="507.4" y="37.6" width="7.3" height="7.3" fill="#E8711F"/>
<rect x="511.3" y="50.1" width="7.3" height="7.3" fill="#E8711F"/>
<rect x="515.3" y="40.9" width="7.3" height="7.3" fill="#E8711F"/>
<rect x="519.3" y="40.3" width="7.3" height="7.3" fill="#E8711F"/>
<rect x="523.3" y="38.3" width="7.3" height="7.3" fill="#E8711F"/>
<rect x="527.3" y="48.8" width="7.3" height="7.3" fill="#E8711F"/>
<rect x="531.3" y="33" width="7.3" height="7.3" fill="#E8711F"/>
<rect x="535.3" y="33.7" width="7.3" height="7.3" fill="#E8711F"/>
<rect x="539.3" y="44.2" width="7.3" height="7.3" fill="#E8711F"/>
<rect x="543.3" y="30.4" width="7.3" height="7.3" fill="#E8711F"/>
<rect x="547.2" y="49.5" width="7.3" height="7.3" fill="#E8711F"/>
<rect x="551.2" y="52.1" width="7.3" height="7.3" fill="#E8711F"/>
<rect x="555.2" y="22.9" width="7.3" height="7.3" fill="#E8711F"/>
<rect x="559.2" y="53.1" width="7.3" height="7.3" fill="#E8711F"/>
<rect x="563.2" y="46.8" width="7.3" height="7.3" fill="#E8711F"/>
<rect x="567.2" y="56.7" width="7.3" height="7.3" fill="#E8711F"/>
<rect x="571.2" y="59.3" width="7.3" height="7.3" fill="#E8711F"/>
<rect x="575.2" y="60" width="7.3" height="7.3" fill="#E8711F"/>
<rect x="579.2" y="50.8" width="7.3" height="7.3" fill="#E8711F"/>
<rect x="583.2" y="44.9" width="7.3" height="7.3" fill="#E8711F"/>
<rect x="587.1" y="43.5" width="7.3" height="7.3" fill="#E8711F"/>
<rect x="591.1" y="44.2" width="7.3" height="7.3" fill="#E8711F"/>
<rect x="595.1" y="49.5" width="7.3" height="7.3" fill="#E8711F"/>
<rect x="599.1" y="52.7" width="7.3" height="7.3" fill="#E8711F"/>
<rect x="603.1" y="27.1" width="7.3" height="7.3" fill="#E8711F"/>
<rect x="607.1" y="31.1" width="7.3" height="7.3" fill="#E8711F"/>
<rect x="611.1" y="44.2" width="7.3" height="7.3" fill="#E8711F"/>
<rect x="615.1" y="42.2" width="7.3" height="7.3" fill="#E8711F"/>
<rect x="619.1" y="45.5" width="7.3" height="7.3" fill="#E8711F"/>
<rect x="623.1" y="46.2" width="7.3" height="7.3" fill="#E8711F"/>
<rect x="627.1" y="35" width="7.3" height="7.3" fill="#E8711F"/>
<rect x="631" y="25.8" width="7.3" height="7.3" fill="#E8711F"/>
<rect x="635" y="31.7" width="7.3" height="7.3" fill="#E8711F"/>
<rect x="639" y="32.4" width="7.3" height="7.3" fill="#E8711F"/>
<rect x="643" y="51.4" width="7.3" height="7.3" fill="#E8711F"/>
<rect x="647" y="40.3" width="7.3" height="7.3" fill="#E8711F"/>
<rect x="651" y="41.6" width="7.3" height="7.3" fill="#E8711F"/>
<rect x="655" y="46.2" width="7.3" height="7.3" fill="#E8711F"/>
<rect x="659" y="39.6" width="7.3" height="7.3" fill="#E8711F"/>
<rect x="663" y="38.3" width="7.3" height="7.3" fill="#E8711F"/>
<rect x="667" y="52.1" width="7.3" height="7.3" fill="#E8711F"/>
<rect x="431.9" y="178.3" width="6.5" height="6.5" fill="#fff" stroke="#E8711F" stroke-width="0.8"/>
<rect x="435.9" y="195.4" width="6.5" height="6.5" fill="#fff" stroke="#E8711F" stroke-width="0.8"/>
<rect x="439.9" y="196.7" width="6.5" height="6.5" fill="#fff" stroke="#E8711F" stroke-width="0.8"/>
<rect x="443.9" y="192.7" width="6.5" height="6.5" fill="#fff" stroke="#E8711F" stroke-width="0.8"/>
<rect x="447.9" y="175.7" width="6.5" height="6.5" fill="#fff" stroke="#E8711F" stroke-width="0.8"/>
<rect x="451.9" y="172.4" width="6.5" height="6.5" fill="#fff" stroke="#E8711F" stroke-width="0.8"/>
<rect x="455.9" y="180.9" width="6.5" height="6.5" fill="#fff" stroke="#E8711F" stroke-width="0.8"/>
<rect x="459.9" y="175" width="6.5" height="6.5" fill="#fff" stroke="#E8711F" stroke-width="0.8"/>
<rect x="463.9" y="172.4" width="6.5" height="6.5" fill="#fff" stroke="#E8711F" stroke-width="0.8"/>
<rect x="467.9" y="181.6" width="6.5" height="6.5" fill="#fff" stroke="#E8711F" stroke-width="0.8"/>
<rect x="471.8" y="183.5" width="6.5" height="6.5" fill="#fff" stroke="#E8711F" stroke-width="0.8"/>
<rect x="475.8" y="183.5" width="6.5" height="6.5" fill="#fff" stroke="#E8711F" stroke-width="0.8"/>
<rect x="479.8" y="177.6" width="6.5" height="6.5" fill="#fff" stroke="#E8711F" stroke-width="0.8"/>
<rect x="483.8" y="171.7" width="6.5" height="6.5" fill="#fff" stroke="#E8711F" stroke-width="0.8"/>
<rect x="487.8" y="173.7" width="6.5" height="6.5" fill="#fff" stroke="#E8711F" stroke-width="0.8"/>
<rect x="491.8" y="181.6" width="6.5" height="6.5" fill="#fff" stroke="#E8711F" stroke-width="0.8"/>
<rect x="495.8" y="175" width="6.5" height="6.5" fill="#fff" stroke="#E8711F" stroke-width="0.8"/>
<rect x="499.8" y="164.5" width="6.5" height="6.5" fill="#fff" stroke="#E8711F" stroke-width="0.8"/>
<rect x="503.8" y="185.5" width="6.5" height="6.5" fill="#fff" stroke="#E8711F" stroke-width="0.8"/>
<rect x="507.8" y="175" width="6.5" height="6.5" fill="#fff" stroke="#E8711F" stroke-width="0.8"/>
<rect x="511.7" y="175.7" width="6.5" height="6.5" fill="#fff" stroke="#E8711F" stroke-width="0.8"/>
<rect x="515.7" y="168.4" width="6.5" height="6.5" fill="#fff" stroke="#E8711F" stroke-width="0.8"/>
<rect x="519.7" y="170.4" width="6.5" height="6.5" fill="#fff" stroke="#E8711F" stroke-width="0.8"/>
<rect x="523.7" y="168.4" width="6.5" height="6.5" fill="#fff" stroke="#E8711F" stroke-width="0.8"/>
<rect x="527.7" y="172.4" width="6.5" height="6.5" fill="#fff" stroke="#E8711F" stroke-width="0.8"/>
<rect x="531.7" y="171.7" width="6.5" height="6.5" fill="#fff" stroke="#E8711F" stroke-width="0.8"/>
<rect x="535.7" y="175.7" width="6.5" height="6.5" fill="#fff" stroke="#E8711F" stroke-width="0.8"/>
<rect x="539.7" y="168.4" width="6.5" height="6.5" fill="#fff" stroke="#E8711F" stroke-width="0.8"/>
<rect x="543.7" y="168.4" width="6.5" height="6.5" fill="#fff" stroke="#E8711F" stroke-width="0.8"/>
<rect x="547.6" y="170.4" width="6.5" height="6.5" fill="#fff" stroke="#E8711F" stroke-width="0.8"/>
<rect x="551.6" y="169.7" width="6.5" height="6.5" fill="#fff" stroke="#E8711F" stroke-width="0.8"/>
<rect x="555.6" y="170.4" width="6.5" height="6.5" fill="#fff" stroke="#E8711F" stroke-width="0.8"/>
<rect x="559.6" y="169.7" width="6.5" height="6.5" fill="#fff" stroke="#E8711F" stroke-width="0.8"/>
<rect x="563.6" y="170.4" width="6.5" height="6.5" fill="#fff" stroke="#E8711F" stroke-width="0.8"/>
<rect x="567.6" y="189.5" width="6.5" height="6.5" fill="#fff" stroke="#E8711F" stroke-width="0.8"/>
<rect x="571.6" y="177.6" width="6.5" height="6.5" fill="#fff" stroke="#E8711F" stroke-width="0.8"/>
<rect x="575.6" y="177" width="6.5" height="6.5" fill="#fff" stroke="#E8711F" stroke-width="0.8"/>
<rect x="579.6" y="163.2" width="6.5" height="6.5" fill="#fff" stroke="#E8711F" stroke-width="0.8"/>
<rect x="583.6" y="166.5" width="6.5" height="6.5" fill="#fff" stroke="#E8711F" stroke-width="0.8"/>
<rect x="587.5" y="167.8" width="6.5" height="6.5" fill="#fff" stroke="#E8711F" stroke-width="0.8"/>
<rect x="591.5" y="166.5" width="6.5" height="6.5" fill="#fff" stroke="#E8711F" stroke-width="0.8"/>
<rect x="595.5" y="164.5" width="6.5" height="6.5" fill="#fff" stroke="#E8711F" stroke-width="0.8"/>
<rect x="599.5" y="172.4" width="6.5" height="6.5" fill="#fff" stroke="#E8711F" stroke-width="0.8"/>
<rect x="603.5" y="169.1" width="6.5" height="6.5" fill="#fff" stroke="#E8711F" stroke-width="0.8"/>
<rect x="607.5" y="174.3" width="6.5" height="6.5" fill="#fff" stroke="#E8711F" stroke-width="0.8"/>
<rect x="611.5" y="186.8" width="6.5" height="6.5" fill="#fff" stroke="#E8711F" stroke-width="0.8"/>
<rect x="615.5" y="165.1" width="6.5" height="6.5" fill="#fff" stroke="#E8711F" stroke-width="0.8"/>
<rect x="619.5" y="164.5" width="6.5" height="6.5" fill="#fff" stroke="#E8711F" stroke-width="0.8"/>
<rect x="623.5" y="164.5" width="6.5" height="6.5" fill="#fff" stroke="#E8711F" stroke-width="0.8"/>
<rect x="627.5" y="167.1" width="6.5" height="6.5" fill="#fff" stroke="#E8711F" stroke-width="0.8"/>
<rect x="631.4" y="172.4" width="6.5" height="6.5" fill="#fff" stroke="#E8711F" stroke-width="0.8"/>
<rect x="635.4" y="167.8" width="6.5" height="6.5" fill="#fff" stroke="#E8711F" stroke-width="0.8"/>
<rect x="639.4" y="168.4" width="6.5" height="6.5" fill="#fff" stroke="#E8711F" stroke-width="0.8"/>
<rect x="643.4" y="165.1" width="6.5" height="6.5" fill="#fff" stroke="#E8711F" stroke-width="0.8"/>
<rect x="647.4" y="171.1" width="6.5" height="6.5" fill="#fff" stroke="#E8711F" stroke-width="0.8"/>
<rect x="651.4" y="165.8" width="6.5" height="6.5" fill="#fff" stroke="#E8711F" stroke-width="0.8"/>
<rect x="655.4" y="166.5" width="6.5" height="6.5" fill="#fff" stroke="#E8711F" stroke-width="0.8"/>
<rect x="659.4" y="169.7" width="6.5" height="6.5" fill="#fff" stroke="#E8711F" stroke-width="0.8"/>
<rect x="663.4" y="165.1" width="6.5" height="6.5" fill="#fff" stroke="#E8711F" stroke-width="0.8"/>
<rect x="667.4" y="171.7" width="6.5" height="6.5" fill="#fff" stroke="#E8711F" stroke-width="0.8"/>
<rect x="422.9" y="15.1" width="255.4" height="204.5" fill="none" stroke="#111" stroke-width="1.05"/>
<path d="M431.2 219.6v4.2M471.1 219.6v4.2M511 219.6v4.2M550.9 219.6v4.2M590.8 219.6v4.2M630.7 219.6v4.2M670.6 219.6v4.2M451.1 219.6v2.3M491.1 219.6v2.3M531 219.6v2.3M570.9 219.6v2.3M610.8 219.6v2.3M650.6 219.6v2.3" stroke="#111" stroke-width="1.0" fill="none"/>
<text x="431.2" y="233.9" font-size="9.6" text-anchor="middle" fill="#111" font-weight="normal" >0</text>
<text x="471.1" y="233.9" font-size="9.6" text-anchor="middle" fill="#111" font-weight="normal" >10</text>
<text x="511" y="233.9" font-size="9.6" text-anchor="middle" fill="#111" font-weight="normal" >20</text>
<text x="550.9" y="233.9" font-size="9.6" text-anchor="middle" fill="#111" font-weight="normal" >30</text>
<text x="590.8" y="233.9" font-size="9.6" text-anchor="middle" fill="#111" font-weight="normal" >40</text>
<text x="630.7" y="233.9" font-size="9.6" text-anchor="middle" fill="#111" font-weight="normal" >50</text>
<text x="670.6" y="233.9" font-size="9.6" text-anchor="middle" fill="#111" font-weight="normal" >60</text>
<path d="M422.9 15.1h-4.2M422.9 56h-4.2M422.9 96.9h-4.2M422.9 137.8h-4.2M422.9 178.7h-4.2M422.9 219.6h-4.2M422.9 35.5h-3.4M422.9 76.4h-3.4M422.9 117.3h-3.4M422.9 158.2h-3.4M422.9 199.1h-3.4M422.9 29.4h-2.3M422.9 25.8h-2.3M422.9 23.2h-2.3M422.9 21.3h-2.3M422.9 19.6h-2.3M422.9 18.3h-2.3M422.9 17.1h-2.3M422.9 16h-2.3M422.9 49.8h-2.3M422.9 46.2h-2.3M422.9 43.7h-2.3M422.9 41.7h-2.3M422.9 40.1h-2.3M422.9 38.7h-2.3M422.9 37.5h-2.3M422.9 36.5h-2.3M422.9 70.3h-2.3M422.9 66.7h-2.3M422.9 64.1h-2.3M422.9 62.2h-2.3M422.9 60.5h-2.3M422.9 59.2h-2.3M422.9 58h-2.3M422.9 56.9h-2.3M422.9 90.7h-2.3M422.9 87.1h-2.3M422.9 84.6h-2.3M422.9 82.6h-2.3M422.9 81h-2.3M422.9 79.6h-2.3M422.9 78.4h-2.3M422.9 77.4h-2.3M422.9 111.2h-2.3M422.9 107.6h-2.3M422.9 105h-2.3M422.9 103.1h-2.3M422.9 101.4h-2.3M422.9 100.1h-2.3M422.9 98.9h-2.3M422.9 97.8h-2.3M422.9 131.6h-2.3M422.9 128h-2.3M422.9 125.5h-2.3M422.9 123.5h-2.3M422.9 121.9h-2.3M422.9 120.5h-2.3M422.9 119.3h-2.3M422.9 118.3h-2.3M422.9 152.1h-2.3M422.9 148.5h-2.3M422.9 145.9h-2.3M422.9 144h-2.3M422.9 142.3h-2.3M422.9 141h-2.3M422.9 139.8h-2.3M422.9 138.7h-2.3M422.9 172.5h-2.3M422.9 168.9h-2.3M422.9 166.4h-2.3M422.9 164.4h-2.3M422.9 162.8h-2.3M422.9 161.4h-2.3M422.9 160.2h-2.3M422.9 159.2h-2.3M422.9 193h-2.3M422.9 189.4h-2.3M422.9 186.8h-2.3M422.9 184.9h-2.3M422.9 183.2h-2.3M422.9 181.9h-2.3M422.9 180.7h-2.3M422.9 179.6h-2.3M422.9 213.4h-2.3M422.9 209.8h-2.3M422.9 207.3h-2.3M422.9 205.3h-2.3M422.9 203.7h-2.3M422.9 202.3h-2.3M422.9 201.1h-2.3M422.9 200.1h-2.3" stroke="#111" stroke-width="1.0" fill="none"/>
<text x="416" y="18.4" font-size="9.9" text-anchor="end" fill="#111" font-weight="normal" >10<tspan font-size="6.1" dy="-3.7">-5</tspan></text>
<text x="416" y="59.3" font-size="9.9" text-anchor="end" fill="#111" font-weight="normal" >10<tspan font-size="6.1" dy="-3.7">-7</tspan></text>
<text x="416" y="100.2" font-size="9.9" text-anchor="end" fill="#111" font-weight="normal" >10<tspan font-size="6.1" dy="-3.7">-9</tspan></text>
<text x="416" y="141.1" font-size="9.9" text-anchor="end" fill="#111" font-weight="normal" >10<tspan font-size="6.1" dy="-3.7">-11</tspan></text>
<text x="416" y="182" font-size="9.9" text-anchor="end" fill="#111" font-weight="normal" >10<tspan font-size="6.1" dy="-3.7">-13</tspan></text>
<text x="416" y="222.9" font-size="9.9" text-anchor="end" fill="#111" font-weight="normal" >10<tspan font-size="6.1" dy="-3.7">-15</tspan></text>
<text x="359.4" y="8.5" font-size="11.4" text-anchor="start" fill="#111" font-weight="bold" >b</text>
<text x="550.9" y="251.7" font-size="11.6" text-anchor="middle" fill="#111" font-weight="normal" >Samples</text>
<g transform="translate(391,117.4) rotate(-90)">
<text x="0" y="0" font-size="11.6" text-anchor="middle" fill="#111" font-weight="normal" ><tspan font-style="italic">I</tspan><tspan font-size="8.1" dy="2.5">DS</tspan><tspan dy="-2.5">&#8203;</tspan> (A)</text>
</g>
<rect x="473.4" y="85.9" width="7.6" height="7.6" fill="#3CBE3C"/>
<text x="485.6" y="93.4" font-size="11.0" text-anchor="start" fill="#111" font-weight="normal" >CMOS substrate, ON current</text>
<rect x="473.8" y="102.9" width="6.8" height="6.8" fill="#fff" stroke="#3CBE3C" stroke-width="0.8"/>
<text x="485.6" y="110" font-size="11.0" text-anchor="start" fill="#111" font-weight="normal" >CMOS substrate, OFF current</text>
<rect x="473.4" y="119.1" width="7.6" height="7.6" fill="#E8711F"/>
<text x="485.6" y="126.6" font-size="11.0" text-anchor="start" fill="#111" font-weight="normal" >SiO<tspan font-size="7.6" dy="2.3">2</tspan><tspan dy="-2.3">&#8203;</tspan> substrate, ON current</text>
<rect x="473.8" y="136.1" width="6.8" height="6.8" fill="#fff" stroke="#E8711F" stroke-width="0.8"/>
<text x="485.6" y="143.2" font-size="11.0" text-anchor="start" fill="#111" font-weight="normal" >SiO<tspan font-size="7.6" dy="2.3">2</tspan><tspan dy="-2.3">&#8203;</tspan> substrate, OFF current</text>
</g>
<g id="panel-c">
<clipPath id="cc"><rect x="63.7" y="289.1" width="254.90000000000003" height="205.89999999999998"/></clipPath>
<g clip-path="url(#cc)" stroke-linejoin="round">
<polygon points="127.2,287.3 126.6,293.3 126.2,299.3 125.8,305.3 125.5,311.3 125.2,317.3 125,323.3 124.8,329.3 124.6,335.3 124.5,341.3 124.3,347.3 124.2,353.3 124,359.3 123.9,365.3 123.7,371.3 123.5,377.3 123.3,383.3 123,389.3 122.7,395.3 122.3,401.3 121.8,407.3 121.1,413.3 120.4,419.3 119.8,425.3 119.2,431.3 118.7,437.3 118.1,443.3 117.4,449.3 116.6,455.3 115.7,461.3 114.6,467.3 114,470.4 113.5,472.4 113,474.4 112.4,476.4 111.8,478.4 111.1,480.4 110.3,482.4 109.3,484.4 108.3,486.4 106.9,488.4 105.2,490.4 104.7,490.9 104.1,491.4 103.4,491.9 102.6,492.4 101.7,492.9 100.4,493.4 98.3,493.9 96,494.4 116,494.4 117.7,493.9 119.3,493.4 120.8,492.9 122.1,492.4 123.2,491.9 124.1,491.4 125,490.9 125.8,490.4 128.5,488.4 130.6,486.4 132.4,484.4 133.9,482.4 135.2,480.4 136.5,478.4 137.6,476.4 138.7,474.4 139.6,472.4 140.5,470.4 141.8,467.3 143.9,461.3 145.7,455.3 147.2,449.3 148.6,443.3 149.8,437.3 150.9,431.3 152,425.3 153.1,419.3 154.2,413.3 155.2,407.3 156.1,401.3 156.9,395.3 157.7,389.3 158.3,383.3 159,377.3 159.6,371.3 160.2,365.3 160.7,359.3 161.2,353.3 161.8,347.3 162.3,341.3 162.8,335.3 163.3,329.3 163.9,323.3 164.5,317.3 165.1,311.3 165.8,305.3 166.5,299.3 167.2,293.3 168.1,287.3" fill="#FF2314" />
<polyline points="63.7,494.4 96,494.4 98.3,493.9 100.4,493.4 101.7,492.9 102.6,492.4 103.4,491.9 104.1,491.4 104.7,490.9 105.2,490.4 106.9,488.4 108.3,486.4 109.3,484.4 110.3,482.4 111.1,480.4 111.8,478.4 112.4,476.4 113,474.4 113.5,472.4 114,470.4 114.6,467.3 115.7,461.3 116.6,455.3 117.4,449.3 118.1,443.3 118.7,437.3 120,431.3 120.5,425.3 121.2,419.3 121.9,413.3 122.6,407.3 123.1,401.3 123.5,395.3 123.8,389.3 124.1,383.3 124.4,377.3 124.6,371.3 124.7,365.3 124.9,359.3 125.1,353.3 125.2,347.3 125.4,341.3 125.5,335.3 125.7,329.3 125.9,323.3 126.2,317.3 126.4,311.3 126.8,305.3 127.1,299.3 127.6,293.3 128.2,287.3" fill="none" stroke="#FF2314" stroke-width="1.0" />
<polyline points="63.7,494.4 96.3,494.4 98.6,493.9 100.6,493.4 102,492.9 102.9,492.4 103.7,491.9 104.4,491.4 105,490.9 105.5,490.4 107.2,488.4 108.6,486.4 109.7,484.4 110.6,482.4 111.4,480.4 112.2,478.4 112.8,476.4 113.4,474.4 113.9,472.4 114.4,470.4 115,467.3 116.1,461.3 117.1,455.3 117.9,449.3 118.5,443.3 119.1,437.3 121.1,431.3 121.7,425.3 122.4,419.3 123.1,413.3 123.8,407.3 124.4,401.3 124.8,395.3 125.1,389.3 125.4,383.3 125.7,377.3 125.9,371.3 126.1,365.3 126.3,359.3 126.4,353.3 126.6,347.3 126.8,341.3 127,335.3 127.1,329.3 127.4,323.3 127.6,317.3 127.9,311.3 128.2,305.3 128.6,299.3 129.1,293.3 129.7,287.3" fill="none" stroke="#FF2314" stroke-width="1.0" />
<polyline points="63.7,494.4 96.6,494.4 98.9,493.9 100.9,493.4 102.3,492.9 103.2,492.4 104,491.9 104.7,491.4 105.3,490.9 105.8,490.4 107.5,488.4 108.9,486.4 110,484.4 111,482.4 111.8,480.4 112.5,478.4 113.2,476.4 113.8,474.4 114.3,472.4 114.8,470.4 115.4,467.3 116.6,461.3 117.5,455.3 118.3,449.3 119,443.3 119.6,437.3 119.5,431.3 120.1,425.3 120.7,419.3 121.4,413.3 122.1,407.3 122.6,401.3 123,395.3 123.3,389.3 123.6,383.3 123.8,377.3 124,371.3 124.2,365.3 124.4,359.3 124.5,353.3 124.7,347.3 124.8,341.3 125,335.3 125.1,329.3 125.3,323.3 125.6,317.3 125.8,311.3 126.1,305.3 126.5,299.3 126.9,293.3 127.6,287.3" fill="none" stroke="#FF2314" stroke-width="1.0" />
<polyline points="63.7,494.4 116,494.4 117.7,493.9 119.3,493.4 120.8,492.9 122.1,492.4 123.2,491.9 124.1,491.4 125,490.9 125.8,490.4 128.5,488.4 130.6,486.4 132.4,484.4 133.9,482.4 135.2,480.4 136.5,478.4 137.6,476.4 138.7,474.4 139.6,472.4 140.5,470.4 141.8,467.3 143.9,461.3 145.7,455.3 147.2,449.3 148.6,443.3 149.8,437.3 150.9,431.3 152,425.3 153.1,419.3 154.2,413.3 155.2,407.3 156.1,401.3 156.9,395.3 157.7,389.3 158.3,383.3 159,377.3 159.6,371.3 160.2,365.3 160.7,359.3 161.2,353.3 161.8,347.3 162.3,341.3 162.8,335.3 163.3,329.3 163.9,323.3 164.5,317.3 165.1,311.3 165.8,305.3 166.5,299.3 167.2,293.3 168.1,287.3" fill="none" stroke="#FF2314" stroke-width="1.0" />
<polyline points="63.7,494.4 115.7,494.4 117.4,493.9 119,493.4 120.5,492.9 121.8,492.4 122.9,491.9 123.8,491.4 124.7,490.9 125.5,490.4 128.2,488.4 130.3,486.4 132,484.4 133.6,482.4 134.9,480.4 136.1,478.4 137.2,476.4 138.3,474.4 139.2,472.4 140.1,470.4 141.4,467.3 143.5,461.3 145.3,455.3 146.8,449.3 148.1,443.3 149.3,437.3 150.9,431.3 152,425.3 153.1,419.3 154.2,413.3 155.2,407.3 156.1,401.3 156.9,395.3 157.7,389.3 158.3,383.3 159,377.3 159.6,371.3 160.2,365.3 160.7,359.3 161.2,353.3 161.8,347.3 162.3,341.3 162.8,335.3 163.3,329.3 163.9,323.3 164.5,317.3 165.1,311.3 165.8,305.3 166.5,299.3 167.2,293.3 168.1,287.3" fill="none" stroke="#FF2314" stroke-width="1.0" />
<polyline points="63.7,494.4 115.4,494.4 117.1,493.9 118.7,493.4 120.2,492.9 121.5,492.4 122.6,491.9 123.5,491.4 124.4,490.9 125.2,490.4 127.9,488.4 129.9,486.4 131.7,484.4 133.2,482.4 134.5,480.4 135.7,478.4 136.9,476.4 137.9,474.4 138.8,472.4 139.7,470.4 141,467.3 143,461.3 144.8,455.3 146.3,449.3 147.7,443.3 148.8,437.3 149.3,431.3 150.3,425.3 151.4,419.3 152.5,413.3 153.5,407.3 154.4,401.3 155.2,395.3 155.9,389.3 156.6,383.3 157.2,377.3 157.8,371.3 158.3,365.3 158.8,359.3 159.4,353.3 159.9,347.3 160.4,341.3 160.9,335.3 161.4,329.3 161.9,323.3 162.5,317.3 163.1,311.3 163.7,305.3 164.4,299.3 165.2,293.3 166.1,287.3" fill="none" stroke="#FF2314" stroke-width="1.0" />
<polyline points="63.7,494.4 115,494.4 116.7,493.9 118.4,493.4 119.9,492.9 121.1,492.4 122.2,491.9 123.1,491.4 124,490.9 124.8,490.4 127.4,488.4 129.5,486.4 131.2,484.4 132.7,482.4 134,480.4 135.2,478.4 136.3,476.4 137.4,474.4 138.3,472.4 139.2,470.4 140.4,467.3 142.5,461.3 144.2,455.3 145.8,449.3 147.1,443.3 148.2,437.3 147.7,431.3 148.7,425.3 149.8,419.3 150.9,413.3 151.9,407.3 152.7,401.3 153.5,395.3 154.2,389.3 154.8,383.3 155.4,377.3 156,371.3 156.5,365.3 157,359.3 157.5,353.3 158,347.3 158.5,341.3 159,335.3 159.5,329.3 160,323.3 160.6,317.3 161.1,311.3 161.8,305.3 162.5,299.3 163.2,293.3 164.1,287.3" fill="none" stroke="#FF2314" stroke-width="1.0" />
<polyline points="63.7,494.4 114.4,494.4 116.1,493.9 117.8,493.4 119.3,492.9 120.6,492.4 121.6,491.9 122.5,491.4 123.4,490.9 124.2,490.4 126.8,488.4 128.8,486.4 130.5,484.4 132,482.4 133.3,480.4 134.5,478.4 135.6,476.4 136.6,474.4 137.5,472.4 138.4,470.4 139.6,467.3 141.6,461.3 143.4,455.3 144.9,449.3 146.1,443.3 147.3,437.3 149.8,431.3 150.9,425.3 152,419.3 153.1,413.3 154.1,407.3 155,401.3 155.8,395.3 156.5,389.3 157.2,383.3 157.8,377.3 158.4,371.3 159,365.3 159.5,359.3 160,353.3 160.5,347.3 161,341.3 161.5,335.3 162.1,329.3 162.6,323.3 163.2,317.3 163.8,311.3 164.5,305.3 165.2,299.3 165.9,293.3 166.8,287.3" fill="none" stroke="#FF2314" stroke-width="1.0" />
<polyline points="63.7,494.4 97.7,494.4 100,493.9 102,493.4 103.3,492.9 104.3,492.4 105.1,491.9 105.8,491.4 106.4,490.9 107,490.4 108.7,488.4 110.2,486.4 111.3,484.4 112.3,482.4 113.1,480.4 113.9,478.4 114.6,476.4 115.2,474.4 115.7,472.4 116.2,470.4 116.9,467.3 118.1,461.3 119.1,455.3 120,449.3 120.7,443.3 121.3,437.3 121.3,431.3 121.9,425.3 122.6,419.3 123.3,413.3 124,407.3 124.5,401.3 124.9,395.3 125.3,389.3 125.6,383.3 125.8,377.3 126.1,371.3 126.3,365.3 126.4,359.3 126.6,353.3 126.8,347.3 127,341.3 127.1,335.3 127.3,329.3 127.6,323.3 127.8,317.3 128.1,311.3 128.4,305.3 128.8,299.3 129.2,293.3 129.9,287.3" fill="none" stroke="#FF2314" stroke-width="1.0" />
<polyline points="63.7,494.4 100.7,494.4 102.9,493.9 104.9,493.4 106.2,492.9 107.3,492.4 108.1,491.9 108.8,491.4 109.5,490.9 110.1,490.4 112,488.4 113.5,486.4 114.8,484.4 115.9,482.4 116.8,480.4 117.6,478.4 118.4,476.4 119.1,474.4 119.7,472.4 120.3,470.4 121,467.3 122.4,461.3 123.5,455.3 124.5,449.3 125.3,443.3 126,437.3 126.1,431.3 126.8,425.3 127.6,419.3 128.3,413.3 129.1,407.3 129.7,401.3 130.2,395.3 130.6,389.3 130.9,383.3 131.2,377.3 131.5,371.3 131.8,365.3 132,359.3 132.3,353.3 132.5,347.3 132.7,341.3 133,335.3 133.2,329.3 133.5,323.3 133.8,317.3 134.1,311.3 134.5,305.3 135,299.3 135.5,293.3 136.2,287.3" fill="none" stroke="#FF2314" stroke-width="1.0" />
<polyline points="63.7,494.4 112,494.4 113.8,493.9 115.5,493.4 117,492.9 118.2,492.4 119.3,491.9 120.2,491.4 121,490.9 121.7,490.4 124.2,488.4 126.2,486.4 127.8,484.4 129.2,482.4 130.4,480.4 131.6,478.4 132.6,476.4 133.6,474.4 134.4,472.4 135.2,470.4 136.4,467.3 138.3,461.3 139.9,455.3 141.3,449.3 142.5,443.3 143.6,437.3 145.8,431.3 146.8,425.3 147.9,419.3 148.9,413.3 149.9,407.3 150.7,401.3 151.5,395.3 152.1,389.3 152.7,383.3 153.3,377.3 153.9,371.3 154.4,365.3 154.9,359.3 155.3,353.3 155.8,347.3 156.2,341.3 156.7,335.3 157.2,329.3 157.7,323.3 158.2,317.3 158.8,311.3 159.4,305.3 160,299.3 160.8,293.3 161.6,287.3" fill="none" stroke="#FF2314" stroke-width="1.0" />
<polyline points="63.7,494.4 107.6,494.4 109.6,493.9 111.4,493.4 112.8,492.9 114,492.4 114.9,491.9 115.8,491.4 116.5,490.9 117.2,490.4 119.5,488.4 121.3,486.4 122.8,484.4 124,482.4 125.1,480.4 126.2,478.4 127.1,476.4 127.9,474.4 128.7,472.4 129.4,470.4 130.4,467.3 132.1,461.3 133.6,455.3 134.8,449.3 135.8,443.3 136.8,437.3 137.9,431.3 138.8,425.3 139.7,419.3 140.6,413.3 141.5,407.3 142.3,401.3 142.9,395.3 143.5,389.3 144,383.3 144.5,377.3 144.9,371.3 145.3,365.3 145.7,359.3 146.1,353.3 146.4,347.3 146.8,341.3 147.2,335.3 147.6,329.3 148,323.3 148.4,317.3 148.9,311.3 149.4,305.3 150,299.3 150.6,293.3 151.4,287.3" fill="none" stroke="#FF2314" stroke-width="1.0" />
<polyline points="63.7,494.4 97.9,494.4 100.2,493.9 102.1,493.4 103.5,492.9 104.5,492.4 105.3,491.9 106,491.4 106.6,490.9 107.1,490.4 108.9,488.4 110.4,486.4 111.5,484.4 112.5,482.4 113.3,480.4 114.1,478.4 114.8,476.4 115.4,474.4 116,472.4 116.5,470.4 117.2,467.3 118.4,461.3 119.4,455.3 120.2,449.3 121,443.3 121.6,437.3 122.1,431.3 122.7,425.3 123.4,419.3 124.1,413.3 124.8,407.3 125.4,401.3 125.8,395.3 126.2,389.3 126.5,383.3 126.7,377.3 127,371.3 127.2,365.3 127.4,359.3 127.6,353.3 127.8,347.3 127.9,341.3 128.1,335.3 128.3,329.3 128.6,323.3 128.8,317.3 129.1,311.3 129.5,305.3 129.8,299.3 130.3,293.3 131,287.3" fill="none" stroke="#FF2314" stroke-width="1.0" />
<polyline points="63.7,494.4 104.7,494.4 106.7,493.9 108.6,493.4 110,492.9 111.1,492.4 112,491.9 112.8,491.4 113.5,490.9 114.1,490.4 116.3,488.4 117.9,486.4 119.3,484.4 120.5,482.4 121.5,480.4 122.5,478.4 123.3,476.4 124.1,474.4 124.8,472.4 125.5,470.4 126.4,467.3 127.9,461.3 129.2,455.3 130.3,449.3 131.3,443.3 132.1,437.3 133.8,431.3 134.6,425.3 135.5,419.3 136.3,413.3 137.2,407.3 137.9,401.3 138.4,395.3 139,389.3 139.4,383.3 139.8,377.3 140.2,371.3 140.6,365.3 140.9,359.3 141.2,353.3 141.6,347.3 141.9,341.3 142.2,335.3 142.5,329.3 142.9,323.3 143.3,317.3 143.7,311.3 144.2,305.3 144.7,299.3 145.3,293.3 146.1,287.3" fill="none" stroke="#FF2314" stroke-width="1.0" />
<polyline points="63.7,494.4 105.6,494.4 107.6,493.9 109.4,493.4 110.9,492.9 112,492.4 112.9,491.9 113.7,491.4 114.4,490.9 115.1,490.4 117.2,488.4 119,486.4 120.4,484.4 121.6,482.4 122.6,480.4 123.6,478.4 124.5,476.4 125.3,474.4 126,472.4 126.7,470.4 127.6,467.3 129.2,461.3 130.6,455.3 131.7,449.3 132.7,443.3 133.6,437.3 132.9,431.3 133.7,425.3 134.5,419.3 135.4,413.3 136.2,407.3 136.9,401.3 137.5,395.3 138,389.3 138.4,383.3 138.8,377.3 139.2,371.3 139.6,365.3 139.9,359.3 140.2,353.3 140.5,347.3 140.8,341.3 141.1,335.3 141.5,329.3 141.8,323.3 142.2,317.3 142.6,311.3 143.1,305.3 143.6,299.3 144.2,293.3 144.9,287.3" fill="none" stroke="#FF2314" stroke-width="1.0" />
<polyline points="63.7,494.4 99.2,494.4 101.4,493.9 103.4,493.4 104.8,492.9 105.7,492.4 106.6,491.9 107.3,491.4 107.9,490.9 108.5,490.4 110.3,488.4 111.8,486.4 113,484.4 114,482.4 114.9,480.4 115.7,478.4 116.5,476.4 117.1,474.4 117.7,472.4 118.2,470.4 119,467.3 120.2,461.3 121.3,455.3 122.2,449.3 123,443.3 123.6,437.3 124.9,431.3 125.6,425.3 126.3,419.3 127.1,413.3 127.8,407.3 128.4,401.3 128.9,395.3 129.3,389.3 129.6,383.3 129.9,377.3 130.2,371.3 130.4,365.3 130.7,359.3 130.9,353.3 131.1,347.3 131.3,341.3 131.5,335.3 131.8,329.3 132,323.3 132.3,317.3 132.6,311.3 133,305.3 133.4,299.3 133.9,293.3 134.6,287.3" fill="none" stroke="#FF2314" stroke-width="1.0" />
<polyline points="63.7,494.4 110.7,494.4 112.6,493.9 114.3,493.4 115.7,492.9 116.9,492.4 118,491.9 118.8,491.4 119.6,490.9 120.3,490.4 122.8,488.4 124.7,486.4 126.3,484.4 127.6,482.4 128.8,480.4 129.9,478.4 130.9,476.4 131.8,474.4 132.7,472.4 133.5,470.4 134.6,467.3 136.4,461.3 138,455.3 139.3,449.3 140.5,443.3 141.5,437.3 142.1,431.3 143,425.3 144,419.3 145,413.3 145.9,407.3 146.7,401.3 147.4,395.3 148,389.3 148.6,383.3 149.1,377.3 149.6,371.3 150.1,365.3 150.5,359.3 150.9,353.3 151.3,347.3 151.8,341.3 152.2,335.3 152.6,329.3 153.1,323.3 153.6,317.3 154.1,311.3 154.7,305.3 155.3,299.3 155.9,293.3 156.8,287.3" fill="none" stroke="#FF2314" stroke-width="1.0" />
<polyline points="63.7,494.4 98.3,494.4 100.5,493.9 102.5,493.4 103.9,492.9 104.9,492.4 105.7,491.9 106.4,491.4 107,490.9 107.5,490.4 109.3,488.4 110.8,486.4 112,484.4 112.9,482.4 113.8,480.4 114.6,478.4 115.3,476.4 115.9,474.4 116.5,472.4 117,470.4 117.7,467.3 118.9,461.3 119.9,455.3 120.8,449.3 121.6,443.3 122.2,437.3 121.5,431.3 122.1,425.3 122.8,419.3 123.5,413.3 124.2,407.3 124.8,401.3 125.2,395.3 125.5,389.3 125.8,383.3 126.1,377.3 126.3,371.3 126.5,365.3 126.7,359.3 126.9,353.3 127.1,347.3 127.2,341.3 127.4,335.3 127.6,329.3 127.8,323.3 128.1,317.3 128.4,311.3 128.7,305.3 129.1,299.3 129.5,293.3 130.2,287.3" fill="none" stroke="#FF2314" stroke-width="1.0" />
<polyline points="63.7,494.4 103.8,494.4 105.9,493.9 107.8,493.4 109.2,492.9 110.3,492.4 111.2,491.9 111.9,491.4 112.6,490.9 113.3,490.4 115.3,488.4 117,486.4 118.4,484.4 119.5,482.4 120.5,480.4 121.4,478.4 122.3,476.4 123,474.4 123.7,472.4 124.4,470.4 125.2,467.3 126.7,461.3 128,455.3 129.1,449.3 130,443.3 130.8,437.3 132.1,431.3 132.9,425.3 133.7,419.3 134.6,413.3 135.4,407.3 136.1,401.3 136.6,395.3 137.1,389.3 137.6,383.3 138,377.3 138.3,371.3 138.7,365.3 139,359.3 139.3,353.3 139.6,347.3 139.9,341.3 140.2,335.3 140.5,329.3 140.8,323.3 141.2,317.3 141.6,311.3 142.1,305.3 142.6,299.3 143.1,293.3 143.9,287.3" fill="none" stroke="#FF2314" stroke-width="1.0" />
<polyline points="63.7,494.4 106.3,494.4 108.3,493.9 110.2,493.4 111.6,492.9 112.7,492.4 113.6,491.9 114.5,491.4 115.2,490.9 115.9,490.4 118.1,488.4 119.8,486.4 121.3,484.4 122.5,482.4 123.6,480.4 124.5,478.4 125.4,476.4 126.3,474.4 127,472.4 127.7,470.4 128.6,467.3 130.3,461.3 131.7,455.3 132.8,449.3 133.8,443.3 134.7,437.3 136.9,431.3 137.8,425.3 138.7,419.3 139.6,413.3 140.5,407.3 141.2,401.3 141.9,395.3 142.4,389.3 142.9,383.3 143.4,377.3 143.8,371.3 144.2,365.3 144.6,359.3 144.9,353.3 145.3,347.3 145.6,341.3 146,335.3 146.4,329.3 146.8,323.3 147.2,317.3 147.7,311.3 148.2,305.3 148.7,299.3 149.4,293.3 150.1,287.3" fill="none" stroke="#FF2314" stroke-width="1.0" />
<polyline points="63.7,494.4 104.6,494.4 106.7,493.9 108.5,493.4 109.9,492.9 111,492.4 111.9,491.9 112.7,491.4 113.4,490.9 114.1,490.4 116.2,488.4 117.9,486.4 119.3,484.4 120.4,482.4 121.5,480.4 122.4,478.4 123.3,476.4 124,474.4 124.8,472.4 125.4,470.4 126.3,467.3 127.8,461.3 129.1,455.3 130.3,449.3 131.2,443.3 132.1,437.3 131.9,431.3 132.7,425.3 133.5,419.3 134.4,413.3 135.2,407.3 135.9,401.3 136.4,395.3 136.9,389.3 137.4,383.3 137.7,377.3 138.1,371.3 138.4,365.3 138.8,359.3 139.1,353.3 139.4,347.3 139.6,341.3 140,335.3 140.3,329.3 140.6,323.3 141,317.3 141.4,311.3 141.8,305.3 142.3,299.3 142.9,293.3 143.7,287.3" fill="none" stroke="#FF2314" stroke-width="1.0" />
<polyline points="63.7,494.4 107.7,494.4 109.7,493.9 111.5,493.4 112.9,492.9 114.1,492.4 115,491.9 115.9,491.4 116.6,490.9 117.3,490.4 119.6,488.4 121.4,486.4 122.9,484.4 124.1,482.4 125.3,480.4 126.3,478.4 127.2,476.4 128.1,474.4 128.8,472.4 129.5,470.4 130.5,467.3 132.2,461.3 133.7,455.3 134.9,449.3 136,443.3 136.9,437.3 138.2,431.3 139.1,425.3 140,419.3 140.9,413.3 141.8,407.3 142.6,401.3 143.2,395.3 143.8,389.3 144.3,383.3 144.8,377.3 145.2,371.3 145.6,365.3 146,359.3 146.4,353.3 146.8,347.3 147.1,341.3 147.5,335.3 147.9,329.3 148.3,323.3 148.8,317.3 149.3,311.3 149.8,305.3 150.3,299.3 151,293.3 151.8,287.3" fill="none" stroke="#FF2314" stroke-width="1.0" />
<polyline points="129.3,287.3 128.6,293.3 128.2,299.3 127.8,305.3 127.5,311.3 127.2,317.3 127,323.3 126.7,329.3 126.5,335.3 126.4,341.3 126.2,347.3 126,353.3 125.9,359.3 125.7,365.3 125.5,371.3 125.3,377.3 125,383.3 124.7,389.3 124.4,395.3" fill="none" stroke="#fff" stroke-width="0.5" opacity="0.9"/>
<polyline points="130.9,287.3 130.2,293.3 129.8,299.3 129.4,305.3 129.1,311.3 128.8,317.3 128.5,323.3 128.3,329.3" fill="none" stroke="#fff" stroke-width="0.4" opacity="0.9"/>
<polyline points="165.7,287.3 164.8,293.3 164.1,299.3 163.4,305.3 162.7,311.3 162.1,317.3 161.6,323.3 161,329.3 160.5,335.3 160,341.3 159.5,347.3 159,353.3 158.5,359.3 158,365.3 157.4,371.3 156.9,377.3 156.2,383.3 155.6,389.3 154.9,395.3 154.1,401.3 153.2,407.3 152.2,413.3 151.1,419.3 150,425.3 149,431.3 147.9,437.3" fill="none" stroke="#fff" stroke-width="0.5" opacity="0.9"/>
<polyline points="159,335.3 158.5,341.3 158,347.3 157.5,353.3 157,359.3 156.5,365.3 156,371.3 155.4,377.3 154.8,383.3 154.2,389.3 153.5,395.3 152.7,401.3 151.9,407.3 150.9,413.3 149.8,419.3" fill="none" stroke="#fff" stroke-width="0.4" opacity="0.9"/>
<path d="M63.7 494.2H116" stroke="#FF2314" stroke-width="1.3"/>
<polygon points="254.6,287.3 254.2,293.3 253.9,299.3 253.6,305.3 253.3,311.3 253.1,317.3 252.9,323.3 252.7,329.3 252.6,335.3 252.4,341.3 252.2,347.3 252.1,353.3 251.9,359.3 251.7,365.3 251.6,371.3 251.4,377.3 251.1,383.3 250.9,389.3 250.6,395.3 250.3,401.3 250,407.3 249.5,413.3 249,419.3 248.6,425.3 248.1,431.3 247.7,437.3 247.2,443.3 246.7,449.3 246.1,455.3 245.4,461.3 244.5,467.3 243.9,470.4 243.5,472.4 243,474.4 242.4,476.4 241.8,478.4 241.1,480.4 240.3,482.4 239.4,484.4 238.3,486.4 237,488.4 235.3,490.4 234.8,490.9 234.2,491.4 233.6,491.9 232.7,492.4 231.7,492.9 230.1,493.4 227.3,493.9 224,494.4 245,494.4 246.9,493.9 248.7,493.4 250.5,492.9 252.2,492.4 253.7,491.9 255.1,491.4 256.2,490.9 257.2,490.4 260.1,488.4 262.2,486.4 264.1,484.4 265.9,482.4 267.6,480.4 269.1,478.4 270.4,476.4 271.7,474.4 272.8,472.4 273.9,470.4 275.4,467.3 277.8,461.3 279.9,455.3 281.5,449.3 282.9,443.3 284.1,437.3 285.2,431.3 286.3,425.3 287.3,419.3 288.2,413.3 289.1,407.3 289.9,401.3 290.7,395.3 291.4,389.3 292.1,383.3 292.8,377.3 293.4,371.3 294.1,365.3 294.7,359.3 295.3,353.3 295.9,347.3 296.4,341.3 297,335.3 297.6,329.3 298.2,323.3 298.8,317.3 299.4,311.3 300.1,305.3 300.7,299.3 301.4,293.3 302.2,287.3" fill="#1700F2" />
<polyline points="173.2,494.4 224,494.4 227.3,493.9 230.1,493.4 231.7,492.9 232.7,492.4 233.6,491.9 234.2,491.4 234.8,490.9 235.3,490.4 237,488.4 238.3,486.4 239.4,484.4 240.3,482.4 241.1,480.4 241.8,478.4 242.4,476.4 243,474.4 243.5,472.4 243.9,470.4 244.5,467.3 245.4,461.3 246.1,455.3 246.7,449.3 247.2,443.3 247.7,437.3 249.6,431.3 250.1,425.3 250.6,419.3 251.1,413.3 251.5,407.3 251.9,401.3 252.2,395.3 252.5,389.3 252.8,383.3 253,377.3 253.2,371.3 253.4,365.3 253.6,359.3 253.8,353.3 254,347.3 254.1,341.3 254.3,335.3 254.5,329.3 254.7,323.3 254.9,317.3 255.2,311.3 255.4,305.3 255.7,299.3 256.1,293.3 256.5,287.3" fill="none" stroke="#1700F2" stroke-width="1.0" />
<polyline points="173.2,494.4 224.3,494.4 227.5,493.9 230.4,493.4 232,492.9 233,492.4 233.9,491.9 234.6,491.4 235.2,490.9 235.7,490.4 237.3,488.4 238.7,486.4 239.8,484.4 240.7,482.4 241.5,480.4 242.2,478.4 242.9,476.4 243.4,474.4 243.9,472.4 244.4,470.4 244.9,467.3 245.9,461.3 246.6,455.3 247.2,449.3 247.8,443.3 248.3,437.3 250,431.3 250.4,425.3 250.9,419.3 251.4,413.3 251.9,407.3 252.3,401.3 252.6,395.3 252.9,389.3 253.2,383.3 253.4,377.3 253.6,371.3 253.8,365.3 254,359.3 254.2,353.3 254.4,347.3 254.6,341.3 254.8,335.3 254.9,329.3 255.2,323.3 255.4,317.3 255.6,311.3 255.9,305.3 256.2,299.3 256.5,293.3 256.9,287.3" fill="none" stroke="#1700F2" stroke-width="1.0" />
<polyline points="173.2,494.4 224.6,494.4 227.8,493.9 230.6,493.4 232.3,492.9 233.3,492.4 234.2,491.9 234.9,491.4 235.5,490.9 236,490.4 237.7,488.4 239.1,486.4 240.2,484.4 241.1,482.4 241.9,480.4 242.6,478.4 243.3,476.4 243.9,474.4 244.4,472.4 244.8,470.4 245.4,467.3 246.3,461.3 247.1,455.3 247.7,449.3 248.3,443.3 248.8,437.3 248.9,431.3 249.3,425.3 249.8,419.3 250.3,413.3 250.7,407.3 251.1,401.3 251.4,395.3 251.7,389.3 251.9,383.3 252.2,377.3 252.4,371.3 252.6,365.3 252.7,359.3 252.9,353.3 253.1,347.3 253.2,341.3 253.4,335.3 253.6,329.3 253.8,323.3 254,317.3 254.2,311.3 254.5,305.3 254.8,299.3 255.1,293.3 255.5,287.3" fill="none" stroke="#1700F2" stroke-width="1.0" />
<polyline points="173.2,494.4 245,494.4 246.9,493.9 248.7,493.4 250.5,492.9 252.2,492.4 253.7,491.9 255.1,491.4 256.2,490.9 257.2,490.4 260.1,488.4 262.2,486.4 264.1,484.4 265.9,482.4 267.6,480.4 269.1,478.4 270.4,476.4 271.7,474.4 272.8,472.4 273.9,470.4 275.4,467.3 277.8,461.3 279.9,455.3 281.5,449.3 282.9,443.3 284.1,437.3 285.2,431.3 286.2,425.3 287.2,419.3 288.2,413.3 289.1,407.3 289.9,401.3 290.7,395.3 291.4,389.3 292.1,383.3 292.8,377.3 293.4,371.3 294,365.3 294.6,359.3 295.2,353.3 295.8,347.3 296.4,341.3 297,335.3 297.6,329.3 298.2,323.3 298.8,317.3 299.4,311.3 300,305.3 300.7,299.3 301.4,293.3 302.1,287.3" fill="none" stroke="#1700F2" stroke-width="1.0" />
<polyline points="173.2,494.4 244.7,494.4 246.6,493.9 248.5,493.4 250.2,492.9 251.9,492.4 253.4,491.9 254.7,491.4 255.9,490.9 256.8,490.4 259.7,488.4 261.9,486.4 263.7,484.4 265.5,482.4 267.2,480.4 268.7,478.4 270,476.4 271.2,474.4 272.4,472.4 273.4,470.4 274.9,467.3 277.4,461.3 279.4,455.3 281,449.3 282.4,443.3 283.6,437.3 285.2,431.3 286.3,425.3 287.3,419.3 288.2,413.3 289.1,407.3 289.9,401.3 290.7,395.3 291.4,389.3 292.1,383.3 292.8,377.3 293.4,371.3 294.1,365.3 294.7,359.3 295.3,353.3 295.9,347.3 296.4,341.3 297,335.3 297.6,329.3 298.2,323.3 298.8,317.3 299.4,311.3 300.1,305.3 300.7,299.3 301.4,293.3 302.2,287.3" fill="none" stroke="#1700F2" stroke-width="1.0" />
<polyline points="173.2,494.4 244.4,494.4 246.3,493.9 248.2,493.4 250,492.9 251.6,492.4 253.1,491.9 254.4,491.4 255.6,490.9 256.5,490.4 259.4,488.4 261.5,486.4 263.4,484.4 265.1,482.4 266.8,480.4 268.3,478.4 269.6,476.4 270.8,474.4 271.9,472.4 273,470.4 274.5,467.3 276.9,461.3 278.9,455.3 280.5,449.3 281.9,443.3 283,437.3 282.5,431.3 283.5,425.3 284.4,419.3 285.4,413.3 286.2,407.3 287,401.3 287.7,395.3 288.4,389.3 289.1,383.3 289.7,377.3 290.3,371.3 290.9,365.3 291.5,359.3 292.1,353.3 292.6,347.3 293.2,341.3 293.7,335.3 294.3,329.3 294.9,323.3 295.4,317.3 296,311.3 296.6,305.3 297.3,299.3 297.9,293.3 298.6,287.3" fill="none" stroke="#1700F2" stroke-width="1.0" />
<polyline points="173.2,494.4 244,494.4 245.9,493.9 247.8,493.4 249.6,492.9 251.2,492.4 252.7,491.9 254,491.4 255.2,490.9 256.1,490.4 258.9,488.4 261,486.4 262.9,484.4 264.6,482.4 266.2,480.4 267.7,478.4 269,476.4 270.2,474.4 271.3,472.4 272.4,470.4 273.8,467.3 276.2,461.3 278.2,455.3 279.8,449.3 281.1,443.3 282.3,437.3 283.6,431.3 284.6,425.3 285.6,419.3 286.5,413.3 287.4,407.3 288.2,401.3 288.9,395.3 289.6,389.3 290.3,383.3 291,377.3 291.6,371.3 292.2,365.3 292.8,359.3 293.4,353.3 293.9,347.3 294.5,341.3 295.1,335.3 295.6,329.3 296.2,323.3 296.8,317.3 297.4,311.3 298,305.3 298.6,299.3 299.3,293.3 300,287.3" fill="none" stroke="#1700F2" stroke-width="1.0" />
<polyline points="173.2,494.4 243.3,494.4 245.3,493.9 247.3,493.4 249,492.9 250.6,492.4 252.1,491.9 253.4,491.4 254.5,490.9 255.4,490.4 258.2,488.4 260.3,486.4 262.1,484.4 263.9,482.4 265.4,480.4 266.9,478.4 268.2,476.4 269.4,474.4 270.5,472.4 271.5,470.4 272.9,467.3 275.2,461.3 277.2,455.3 278.8,449.3 280.1,443.3 281.2,437.3 281.4,431.3 282.4,425.3 283.3,419.3 284.2,413.3 285.1,407.3 285.9,401.3 286.6,395.3 287.3,389.3 287.9,383.3 288.5,377.3 289.1,371.3 289.7,365.3 290.3,359.3 290.8,353.3 291.4,347.3 291.9,341.3 292.5,335.3 293,329.3 293.5,323.3 294.1,317.3 294.7,311.3 295.3,305.3 295.9,299.3 296.6,293.3 297.3,287.3" fill="none" stroke="#1700F2" stroke-width="1.0" />
<polyline points="173.2,494.4 240.9,494.4 243.1,493.9 245.1,493.4 246.9,492.9 248.4,492.4 249.8,491.9 251,491.4 252.1,490.9 252.9,490.4 255.6,488.4 257.6,486.4 259.3,484.4 260.9,482.4 262.4,480.4 263.8,478.4 265,476.4 266.1,474.4 267.1,472.4 268,470.4 269.4,467.3 271.5,461.3 273.3,455.3 274.8,449.3 276,443.3 277,437.3 279.4,431.3 280.3,425.3 281.3,419.3 282.1,413.3 283,407.3 283.7,401.3 284.4,395.3 285.1,389.3 285.7,383.3 286.3,377.3 286.9,371.3 287.4,365.3 288,359.3 288.5,353.3 289,347.3 289.5,341.3 290,335.3 290.6,329.3 291.1,323.3 291.6,317.3 292.2,311.3 292.8,305.3 293.4,299.3 294,293.3 294.7,287.3" fill="none" stroke="#1700F2" stroke-width="1.0" />
<polyline points="173.2,494.4 241,494.4 243.1,493.9 245.2,493.4 246.9,492.9 248.4,492.4 249.8,491.9 251.1,491.4 252.1,490.9 253,490.4 255.6,488.4 257.6,486.4 259.4,484.4 261,482.4 262.5,480.4 263.8,478.4 265.1,476.4 266.2,474.4 267.2,472.4 268.1,470.4 269.4,467.3 271.6,461.3 273.4,455.3 274.9,449.3 276.1,443.3 277.1,437.3 276.5,431.3 277.4,425.3 278.3,419.3 279.1,413.3 279.9,407.3 280.6,401.3 281.3,395.3 281.9,389.3 282.5,383.3 283,377.3 283.6,371.3 284.1,365.3 284.6,359.3 285.1,353.3 285.6,347.3 286.1,341.3 286.5,335.3 287,329.3 287.5,323.3 288,317.3 288.6,311.3 289.1,305.3 289.7,299.3 290.3,293.3 290.9,287.3" fill="none" stroke="#1700F2" stroke-width="1.0" />
<polyline points="173.2,494.4 234.8,494.4 237.4,493.9 239.7,493.4 241.4,492.9 242.7,492.4 243.9,491.9 245,491.4 245.9,490.9 246.6,490.4 248.9,488.4 250.6,486.4 252.1,484.4 253.5,482.4 254.7,480.4 255.9,478.4 256.9,476.4 257.8,474.4 258.6,472.4 259.4,470.4 260.4,467.3 262.1,461.3 263.5,455.3 264.7,449.3 265.6,443.3 266.5,437.3 267.9,431.3 268.7,425.3 269.4,419.3 270.2,413.3 270.8,407.3 271.4,401.3 272,395.3 272.5,389.3 273,383.3 273.5,377.3 273.9,371.3 274.3,365.3 274.7,359.3 275.1,353.3 275.5,347.3 275.9,341.3 276.3,335.3 276.7,329.3 277.1,323.3 277.5,317.3 277.9,311.3 278.4,305.3 278.9,299.3 279.4,293.3 279.9,287.3" fill="none" stroke="#1700F2" stroke-width="1.0" />
<polyline points="173.2,494.4 230,494.4 232.9,493.9 235.4,493.4 237.1,492.9 238.3,492.4 239.3,491.9 240.2,491.4 240.9,490.9 241.6,490.4 243.6,488.4 245.2,486.4 246.5,484.4 247.6,482.4 248.7,480.4 249.6,478.4 250.4,476.4 251.2,474.4 251.9,472.4 252.5,470.4 253.3,467.3 254.6,461.3 255.7,455.3 256.7,449.3 257.4,443.3 258.1,437.3 260.1,431.3 260.7,425.3 261.4,419.3 262,413.3 262.6,407.3 263.1,401.3 263.6,395.3 264,389.3 264.4,383.3 264.7,377.3 265.1,371.3 265.4,365.3 265.7,359.3 266,353.3 266.3,347.3 266.6,341.3 266.9,335.3 267.2,329.3 267.5,323.3 267.9,317.3 268.2,311.3 268.6,305.3 269,299.3 269.4,293.3 269.9,287.3" fill="none" stroke="#1700F2" stroke-width="1.0" />
<polyline points="173.2,494.4 225.1,494.4 228.3,493.9 231.1,493.4 232.7,492.9 233.8,492.4 234.6,491.9 235.4,491.4 236,490.9 236.5,490.4 238.2,488.4 239.6,486.4 240.8,484.4 241.7,482.4 242.5,480.4 243.3,478.4 244,476.4 244.6,474.4 245.1,472.4 245.5,470.4 246.1,467.3 247.1,461.3 247.9,455.3 248.6,449.3 249.2,443.3 249.7,437.3 249.1,431.3 249.6,425.3 250.1,419.3 250.5,413.3 251,407.3 251.4,401.3 251.7,395.3 252,389.3 252.2,383.3 252.5,377.3 252.7,371.3 252.9,365.3 253,359.3 253.2,353.3 253.4,347.3 253.6,341.3 253.7,335.3 253.9,329.3 254.1,323.3 254.3,317.3 254.6,311.3 254.8,305.3 255.1,299.3 255.4,293.3 255.8,287.3" fill="none" stroke="#1700F2" stroke-width="1.0" />
<polyline points="173.2,494.4 232.1,494.4 234.8,493.9 237.2,493.4 238.9,492.9 240.2,492.4 241.3,491.9 242.2,491.4 243,490.9 243.7,490.4 245.8,488.4 247.5,486.4 248.9,484.4 250.1,482.4 251.3,480.4 252.3,478.4 253.2,476.4 254,474.4 254.7,472.4 255.4,470.4 256.3,467.3 257.8,461.3 259,455.3 260.1,449.3 260.9,443.3 261.7,437.3 263.8,431.3 264.5,425.3 265.2,419.3 265.9,413.3 266.5,407.3 267.1,401.3 267.6,395.3 268,389.3 268.5,383.3 268.9,377.3 269.3,371.3 269.6,365.3 270,359.3 270.3,353.3 270.7,347.3 271,341.3 271.4,335.3 271.7,329.3 272.1,323.3 272.4,317.3 272.8,311.3 273.2,305.3 273.7,299.3 274.2,293.3 274.7,287.3" fill="none" stroke="#1700F2" stroke-width="1.0" />
<polyline points="173.2,494.4 232.6,494.4 235.3,493.9 237.7,493.4 239.4,492.9 240.7,492.4 241.8,491.9 242.7,491.4 243.6,490.9 244.3,490.4 246.4,488.4 248.1,486.4 249.5,484.4 250.8,482.4 251.9,480.4 252.9,478.4 253.9,476.4 254.7,474.4 255.5,472.4 256.2,470.4 257.1,467.3 258.6,461.3 259.9,455.3 260.9,449.3 261.8,443.3 262.6,437.3 264.7,431.3 265.4,425.3 266.1,419.3 266.8,413.3 267.4,407.3 268,401.3 268.5,395.3 269,389.3 269.4,383.3 269.8,377.3 270.2,371.3 270.6,365.3 271,359.3 271.3,353.3 271.7,347.3 272,341.3 272.4,335.3 272.7,329.3 273.1,323.3 273.5,317.3 273.9,311.3 274.3,305.3 274.8,299.3 275.2,293.3 275.8,287.3" fill="none" stroke="#1700F2" stroke-width="1.0" />
<polyline points="173.2,494.4 225,494.4 228.1,493.9 230.9,493.4 232.6,492.9 233.6,492.4 234.5,491.9 235.2,491.4 235.8,490.9 236.3,490.4 238,488.4 239.4,486.4 240.6,484.4 241.5,482.4 242.3,480.4 243,478.4 243.7,476.4 244.3,474.4 244.8,472.4 245.3,470.4 245.9,467.3 246.8,461.3 247.6,455.3 248.3,449.3 248.9,443.3 249.4,437.3 248.1,431.3 248.6,425.3 249,419.3 249.5,413.3 250,407.3 250.3,401.3 250.6,395.3 250.9,389.3 251.1,383.3 251.4,377.3 251.6,371.3 251.7,365.3 251.9,359.3 252.1,353.3 252.2,347.3 252.4,341.3 252.6,335.3 252.7,329.3 252.9,323.3 253.1,317.3 253.3,311.3 253.6,305.3 253.9,299.3 254.2,293.3 254.6,287.3" fill="none" stroke="#1700F2" stroke-width="1.0" />
<polyline points="173.2,494.4 225,494.4 228.2,493.9 231,493.4 232.6,492.9 233.7,492.4 234.5,491.9 235.3,491.4 235.9,490.9 236.4,490.4 238.1,488.4 239.5,486.4 240.6,484.4 241.6,482.4 242.4,480.4 243.1,478.4 243.8,476.4 244.4,474.4 244.9,472.4 245.4,470.4 246,467.3 247,461.3 247.7,455.3 248.4,449.3 249,443.3 249.5,437.3 250.7,431.3 251.2,425.3 251.7,419.3 252.2,413.3 252.7,407.3 253.1,401.3 253.4,395.3 253.7,389.3 254,383.3 254.2,377.3 254.5,371.3 254.7,365.3 254.9,359.3 255.1,353.3 255.3,347.3 255.5,341.3 255.6,335.3 255.8,329.3 256.1,323.3 256.3,317.3 256.5,311.3 256.8,305.3 257.1,299.3 257.5,293.3 257.9,287.3" fill="none" stroke="#1700F2" stroke-width="1.0" />
<polyline points="173.2,494.4 245,494.4 246.9,493.9 248.7,493.4 250.5,492.9 252.2,492.4 253.7,491.9 255,491.4 256.2,490.9 257.2,490.4 260.1,488.4 262.2,486.4 264.1,484.4 265.9,482.4 267.5,480.4 269,478.4 270.4,476.4 271.6,474.4 272.8,472.4 273.8,470.4 275.4,467.3 277.8,461.3 279.9,455.3 281.5,449.3 282.9,443.3 284.1,437.3 283.3,431.3 284.4,425.3 285.3,419.3 286.3,413.3 287.1,407.3 287.9,401.3 288.7,395.3 289.4,389.3 290.1,383.3 290.7,377.3 291.3,371.3 291.9,365.3 292.5,359.3 293.1,353.3 293.6,347.3 294.2,341.3 294.8,335.3 295.3,329.3 295.9,323.3 296.5,317.3 297.1,311.3 297.7,305.3 298.4,299.3 299,293.3 299.7,287.3" fill="none" stroke="#1700F2" stroke-width="1.0" />
<polyline points="173.2,494.4 237.7,494.4 240.1,493.9 242.3,493.4 244,492.9 245.4,492.4 246.7,491.9 247.8,491.4 248.8,490.9 249.6,490.4 252,488.4 253.9,486.4 255.5,484.4 257,482.4 258.4,480.4 259.6,478.4 260.7,476.4 261.7,474.4 262.6,472.4 263.5,470.4 264.6,467.3 266.6,461.3 268.1,455.3 269.4,449.3 270.5,443.3 271.5,437.3 272.3,431.3 273.2,425.3 274,419.3 274.8,413.3 275.5,407.3 276.2,401.3 276.8,395.3 277.4,389.3 277.9,383.3 278.4,377.3 278.9,371.3 279.4,365.3 279.8,359.3 280.3,353.3 280.7,347.3 281.1,341.3 281.6,335.3 282,329.3 282.5,323.3 282.9,317.3 283.4,311.3 283.9,305.3 284.5,299.3 285,293.3 285.6,287.3" fill="none" stroke="#1700F2" stroke-width="1.0" />
<polyline points="173.2,494.4 228.9,494.4 231.9,493.9 234.5,493.4 236.1,492.9 237.3,492.4 238.3,491.9 239.1,491.4 239.8,490.9 240.5,490.4 242.4,488.4 243.9,486.4 245.2,484.4 246.3,482.4 247.3,480.4 248.2,478.4 249,476.4 249.7,474.4 250.4,472.4 250.9,470.4 251.7,467.3 253,461.3 254,455.3 254.9,449.3 255.6,443.3 256.2,437.3 256.6,431.3 257.2,425.3 257.8,419.3 258.3,413.3 258.9,407.3 259.4,401.3 259.8,395.3 260.1,389.3 260.5,383.3 260.8,377.3 261.1,371.3 261.4,365.3 261.7,359.3 261.9,353.3 262.2,347.3 262.4,341.3 262.7,335.3 263,329.3 263.2,323.3 263.5,317.3 263.9,311.3 264.2,305.3 264.6,299.3 265,293.3 265.4,287.3" fill="none" stroke="#1700F2" stroke-width="1.0" />
<polyline points="173.2,494.4 233.1,494.4 235.8,493.9 238.2,493.4 239.9,492.9 241.2,492.4 242.3,491.9 243.3,491.4 244.1,490.9 244.8,490.4 247,488.4 248.7,486.4 250.2,484.4 251.5,482.4 252.6,480.4 253.7,478.4 254.6,476.4 255.5,474.4 256.2,472.4 257,470.4 257.9,467.3 259.5,461.3 260.8,455.3 261.9,449.3 262.8,443.3 263.6,437.3 263.2,431.3 263.9,425.3 264.5,419.3 265.2,413.3 265.8,407.3 266.4,401.3 266.9,395.3 267.3,389.3 267.8,383.3 268.2,377.3 268.5,371.3 268.9,365.3 269.2,359.3 269.6,353.3 269.9,347.3 270.2,341.3 270.6,335.3 270.9,329.3 271.3,323.3 271.6,317.3 272,311.3 272.4,305.3 272.9,299.3 273.3,293.3 273.9,287.3" fill="none" stroke="#1700F2" stroke-width="1.0" />
<polyline points="173.2,494.4 244.5,494.4 246.4,493.9 248.3,493.4 250,492.9 251.7,492.4 253.2,491.9 254.5,491.4 255.7,490.9 256.6,490.4 259.5,488.4 261.6,486.4 263.5,484.4 265.2,482.4 266.9,480.4 268.4,478.4 269.7,476.4 270.9,474.4 272.1,472.4 273.1,470.4 274.6,467.3 277,461.3 279,455.3 280.7,449.3 282,443.3 283.2,437.3 283.6,431.3 284.6,425.3 285.6,419.3 286.5,413.3 287.4,407.3 288.2,401.3 289,395.3 289.7,389.3 290.4,383.3 291,377.3 291.6,371.3 292.2,365.3 292.8,359.3 293.4,353.3 294,347.3 294.5,341.3 295.1,335.3 295.7,329.3 296.2,323.3 296.8,317.3 297.4,311.3 298.1,305.3 298.7,299.3 299.4,293.3 300.1,287.3" fill="none" stroke="#1700F2" stroke-width="1.0" />
<polyline points="298.8,287.3 298.1,293.3 297.5,299.3 296.8,305.3 296.2,311.3 295.6,317.3 295,323.3 294.5,329.3 293.9,335.3 293.4,341.3 292.8,347.3 292.3,353.3 291.7,359.3 291.1,365.3 290.5,371.3 289.9,377.3 289.3,383.3 288.6,389.3 287.9,395.3 287.2,401.3 286.4,407.3 285.5,413.3 284.6,419.3 283.6,425.3 282.6,431.3 281.6,437.3 280.4,443.3 279.1,449.3 277.5,455.3 275.6,461.3 273.2,467.3" fill="none" stroke="#fff" stroke-width="0.55" opacity="0.9"/>
<polyline points="300,287.3 299.3,293.3 298.6,299.3 298,305.3 297.4,311.3 296.8,317.3 296.2,323.3 295.6,329.3 295,335.3 294.5,341.3 293.9,347.3 293.3,353.3 292.8,359.3 292.2,365.3 291.6,371.3 290.9,377.3 290.3,383.3 289.6,389.3 288.9,395.3 288.1,401.3 287.3,407.3 286.5,413.3 285.6,419.3 284.6,425.3 283.6,431.3 282.5,437.3" fill="none" stroke="#fff" stroke-width="0.5" opacity="0.9"/>
<polyline points="282.5,425.3 281.5,431.3 280.5,437.3 279.4,443.3 278.1,449.3 276.5,455.3 274.6,461.3 272.3,467.3 270.9,470.4 269.9,472.4 268.8,474.4 267.6,476.4 266.3,478.4 264.9,480.4 263.3,482.4" fill="none" stroke="#fff" stroke-width="0.4" opacity="0.9"/>
<path d="M173.2 494.2H245" stroke="#1700F2" stroke-width="1.3"/>
</g>
<rect x="63.7" y="289.3" width="254.9" height="205.1" fill="none" stroke="#111" stroke-width="1.05"/>
<path d="M111.5 494.4v4.2M175.1 494.4v4.2M238.7 494.4v4.2M302.3 494.4v4.2M79.7 494.4v2.3M143.3 494.4v2.3M206.9 494.4v2.3M270.5 494.4v2.3" stroke="#111" stroke-width="1.0" fill="none"/>
<text x="111.5" y="508.7" font-size="9.6" text-anchor="middle" fill="#111" font-weight="normal" >-1</text>
<text x="175.1" y="508.7" font-size="9.6" text-anchor="middle" fill="#111" font-weight="normal" >0</text>
<text x="238.7" y="508.7" font-size="9.6" text-anchor="middle" fill="#111" font-weight="normal" >1</text>
<text x="302.3" y="508.7" font-size="9.6" text-anchor="middle" fill="#111" font-weight="normal" >2</text>
<path d="M63.7 494.4h-4.2M63.7 453.4h-4.2M63.7 412.4h-4.2M63.7 371.4h-4.2M63.7 330.4h-4.2M63.7 289.4h-4.2M63.7 473.9h-2.3M63.7 432.9h-2.3M63.7 391.9h-2.3M63.7 350.9h-2.3M63.7 309.9h-2.3" stroke="#111" stroke-width="1.0" fill="none"/>
<text x="57.1" y="497.7" font-size="9.3" text-anchor="end" fill="#111" font-weight="normal" >0</text>
<text x="57.1" y="456.7" font-size="9.3" text-anchor="end" fill="#111" font-weight="normal" >2</text>
<text x="57.1" y="415.7" font-size="9.3" text-anchor="end" fill="#111" font-weight="normal" >4</text>
<text x="57.1" y="374.7" font-size="9.3" text-anchor="end" fill="#111" font-weight="normal" >6</text>
<text x="57.1" y="333.7" font-size="9.3" text-anchor="end" fill="#111" font-weight="normal" >8</text>
<text x="57.1" y="292.7" font-size="9.3" text-anchor="end" fill="#111" font-weight="normal" >10</text>
<text x="0.8" y="284" font-size="11.4" text-anchor="start" fill="#111" font-weight="bold" >c</text>
<text x="192" y="524.6" font-size="11.6" text-anchor="middle" fill="#111" font-weight="normal" ><tspan font-style="italic">V</tspan><tspan font-size="8.1" dy="2.5">GS</tspan><tspan dy="-2.5">&#8203;</tspan> (V)</text>
<g transform="translate(37.4,389.3) rotate(-90)">
<text x="0" y="0" font-size="11.6" text-anchor="middle" fill="#111" font-weight="normal" ><tspan font-style="italic">I</tspan><tspan font-size="8.1" dy="2.5">DS</tspan><tspan dy="-2.5">&#8203;</tspan> (nA)</text>
</g>
<text x="72.7" y="319.4" font-size="11.0" text-anchor="start" fill="#E8392D" font-weight="normal" >State-ON</text>
<text x="190.8" y="427.6" font-size="11.0" text-anchor="start" fill="#2B1FD9" font-weight="normal" >State-OFF</text>
<text x="203.6" y="364.6" font-size="11.0" text-anchor="middle" fill="#111" font-weight="normal" >20 ns</text>
<text x="203.6" y="377.6" font-size="11.0" text-anchor="middle" fill="#111" font-weight="normal" >pulse width</text>
<text x="79" y="477" font-size="11.0" text-anchor="start" fill="#111" font-weight="normal" >@ <tspan font-style="italic">V</tspan><tspan font-size="7.6" dy="2.3">DS</tspan><tspan dy="-2.3">&#8203;</tspan> = 0.5 V</text>
<defs><linearGradient id="ga1" gradientUnits="userSpaceOnUse" x1="192" y1="0" x2="204" y2="0"><stop offset="0" stop-color="#EE2A1E"/><stop offset="1" stop-color="#2410E6"/></linearGradient><linearGradient id="ga2" gradientUnits="userSpaceOnUse" x1="199" y1="0" x2="212" y2="0"><stop offset="0" stop-color="#EE2A1E"/><stop offset="1" stop-color="#2410E6"/></linearGradient></defs>
<rect x="165.2" y="345.35" width="74" height="1.5" fill="url(#ga1)"/>
<path d="M244.2 346.1l-6.4 -3.1v6.2z" fill="#2410E6"/>
<rect x="165" y="393.35" width="74.2" height="1.5" fill="url(#ga2)"/>
<path d="M159.8 394.1l6.4 -3.1v6.2z" fill="#EE2A1E"/>
</g>
<g id="panel-d">
<clipPath id="cd"><rect x="422.9" y="289.3" width="255.79999999999998" height="205.49999999999997"/></clipPath>
<g clip-path="url(#cd)" stroke-linejoin="round">
<polygon points="423.7,434 426.2,434.8 428.8,435.9 431.3,437 433.9,437.9 436.4,438.6 439,437.8 441.5,437.4 444.1,438.8 446.6,438.4 449.2,437.7 451.7,438.5 454.3,439.1 456.8,437.9 459.3,439 461.9,438.8 464.4,438 467,438 469.5,439.2 472.1,438.2 474.6,438.4 477.2,438.7 479.7,438.3 482.3,437.6 484.8,437.9 487.3,438.2 489.9,438.6 492.4,438.3 495,438 497.5,437.5 500.1,438.4 502.6,437.3 505.2,438.1 507.7,437.6 510.3,437.6 512.8,437.3 515.4,436.9 517.9,436.8 520.4,437.5 523,436.8 525.5,436.3 528.1,436.5 530.6,437.7 533.2,437.3 535.7,437.1 538.3,436.8 540.8,437.4 543.4,436.5 545.9,437.1 548.5,436.2 551,437.2 553.5,437.8 556.1,437.4 558.6,436.4 561.2,437.3 563.7,436.9 566.3,438 568.8,436.6 571.4,436.7 573.9,436.9 576.5,437.4 579,438.3 581.6,437.9 584.1,438.2 586.6,437.3 589.2,437.6 591.7,438 594.3,438.4 596.8,438.7 599.4,438.5 601.9,438 604.5,437.9 607,438.3 609.6,438.1 612.1,438.9 614.6,439.1 617.2,439 619.7,437.9 622.3,438.9 624.8,437.6 627.4,437.8 629.9,438.6 632.5,438 635,438.7 637.6,438.4 640.1,438.3 642.7,438.1 645.2,438.5 647.7,438.3 650.3,436.9 652.8,438.1 655.4,436.7 657.9,435.9 660.5,436 663,435.2 665.6,433.8 668.1,432.5 670.7,429.9 673.2,428.8 675.8,428 678.3,426.4 678.3,495.4 675.8,484.8 673.2,495.4 670.7,483.7 668.1,495.4 665.6,484.7 663,495.4 660.5,483.8 657.9,495.4 655.4,484.2 652.8,495.4 650.3,483.2 647.7,495.4 645.2,483.5 642.7,495.4 640.1,481.9 637.6,495.4 635,484.4 632.5,495.4 629.9,485.8 627.4,495.4 624.8,485.4 622.3,495.4 619.7,482.7 617.2,495.4 614.6,482.8 612.1,495.4 609.6,483.7 607,495.4 604.5,482.2 601.9,495.4 599.4,482.4 596.8,495.4 594.3,485.9 591.7,495.4 589.2,484.3 586.6,495.4 584.1,485.6 581.6,495.4 579,484.9 576.5,495.4 573.9,484.7 571.4,495.4 568.8,485 566.3,495.4 563.7,482 561.2,495.4 558.6,483.5 556.1,495.4 553.5,482.1 551,495.4 548.5,485.8 545.9,495.4 543.4,484.4 540.8,495.4 538.3,484.2 535.7,495.4 533.2,485.8 530.6,495.4 528.1,483.2 525.5,495.4 523,482.7 520.4,495.4 517.9,483.6 515.4,495.4 512.8,484.4 510.3,495.4 507.7,483.1 505.2,495.4 502.6,482.2 500.1,495.4 497.5,483.8 495,495.4 492.4,482.9 489.9,495.4 487.3,483.2 484.8,495.4 482.3,482.4 479.7,495.4 477.2,485.2 474.6,495.4 472.1,483.4 469.5,495.4 467,485.7 464.4,495.4 461.9,483.5 459.3,495.4 456.8,482.8 454.3,495.4 451.7,483.5 449.2,495.4 446.6,483.2 444.1,495.4 441.5,483.6 439,495.4 436.4,485.6 433.9,495.4 431.3,482.9 428.8,495.4 426.2,482.9 423.7,495.4" fill="#1700F2" />
<polyline points="423.7,427 426.2,435 428.8,430.9 431.3,437.4 433.9,438.3 436.4,437.4 439,437.4 441.5,437.5 444.1,436 446.6,438.9 449.2,437.8 451.7,438.5 454.3,439.7 456.8,438.5 459.3,438 461.9,439.5 464.4,439.6 467,439.3 469.5,438.2 472.1,438.6 474.6,438.2 477.2,439.7 479.7,437.4 482.3,439.5 484.8,437.9 487.3,437.5 489.9,439.2 492.4,439 495,437.1 497.5,437.6 500.1,437 502.6,438.6 505.2,438.9 507.7,437.3 510.3,433.5 512.8,436.4 515.4,436.5 517.9,436.4 520.4,437.9 523,436.6 525.5,437.2 528.1,436.6 530.6,437.2 533.2,437.2 535.7,436.7 538.3,436.5 540.8,438.1 543.4,438.1 545.9,437 548.5,436.8 551,437.2 553.5,437.3 556.1,438.3 558.6,437.1 561.2,436.9 563.7,438.5 566.3,437.8 568.8,436.6 571.4,437.7 573.9,438.5 576.5,438 579,437.3 581.6,437.6 584.1,438.6 586.6,438.3 589.2,437 591.7,437.9 594.3,439 596.8,437.3 599.4,438.2 601.9,438.7 604.5,438.1 607,439.1 609.6,437.5 612.1,439.7 614.6,439.3 617.2,439.6 619.7,438.7 622.3,438.5 624.8,433.4 627.4,437.5 629.9,438.5 632.5,437.9 635,439.3 637.6,437.4 640.1,437 642.7,438.8 645.2,439.2 647.7,437.8 650.3,438.7 652.8,438 655.4,437.7 657.9,436.6 660.5,435.6 663,435 665.6,434.3 668.1,433.4 670.7,431.9 673.2,429.9 675.8,428.7 678.3,420.9" fill="none" stroke="#1700F2" stroke-width="1.1" />
<polyline points="423.7,433.4 426.2,435.5 428.8,435.6 431.3,438.9 433.9,437.3 436.4,436.9 439,438 441.5,438.7 444.1,437.8 446.6,437.6 449.2,438.5 451.7,439.2 454.3,438.7 456.8,438.8 459.3,438.3 461.9,439 464.4,439.3 467,437.6 469.5,439.8 472.1,438.5 474.6,438.5 477.2,438.6 479.7,439.2 482.3,438.5 484.8,436.3 487.3,437.9 489.9,437.7 492.4,433.4 495,437.3 497.5,437 500.1,438.6 502.6,437.1 505.2,438.2 507.7,438.8 510.3,438.5 512.8,436.6 515.4,437.4 517.9,437.6 520.4,437 523,437 525.5,438.4 528.1,436.3 530.6,438 533.2,437.8 535.7,436.3 538.3,436.7 540.8,430.7 543.4,438.1 545.9,435.8 548.5,438.1 551,429.8 553.5,436.6 556.1,436 558.6,438.4 561.2,438.5 563.7,434.3 566.3,438 568.8,436.4 571.4,437.8 573.9,437.3 576.5,437.9 579,437.4 581.6,438.4 584.1,438 586.6,438.1 589.2,438.2 591.7,433.3 594.3,438.4 596.8,439 599.4,438.8 601.9,432.5 604.5,439 607,437.9 609.6,439 612.1,439.2 614.6,439 617.2,439.4 619.7,438.4 622.3,439.8 624.8,439.5 627.4,438.6 629.9,438 632.5,437.4 635,438.5 637.6,437.4 640.1,438 642.7,437.2 645.2,438 647.7,437.3 650.3,436.9 652.8,438.1 655.4,436.5 657.9,437.5 660.5,436.1 663,434.4 665.6,433 668.1,431.4 670.7,430.5 673.2,429.5 675.8,426.4 678.3,425.9" fill="none" stroke="#1700F2" stroke-width="1.1" />
<polyline points="423.7,432.7 426.2,435.3 428.8,435.8 431.3,438.2 433.9,436.9 436.4,437.2 439,438.7 441.5,437.8 444.1,438.2 446.6,439 449.2,437.3 451.7,435.1 454.3,438.5 456.8,438.9 459.3,438.1 461.9,438.6 464.4,439.3 467,439.6 469.5,438 472.1,439.2 474.6,437.9 477.2,438.5 479.7,439.2 482.3,434.1 484.8,438.8 487.3,432.2 489.9,438.7 492.4,438.3 495,438 497.5,437.2 500.1,437.8 502.6,434.7 505.2,437.1 507.7,438.5 510.3,438.5 512.8,438.7 515.4,437.6 517.9,437.5 520.4,437.3 523,437.4 525.5,438.2 528.1,431.2 530.6,437.3 533.2,437.8 535.7,436.6 538.3,431.9 540.8,432.7 543.4,436.8 545.9,437 548.5,437 551,437.6 553.5,436.4 556.1,436.6 558.6,436.6 561.2,437.9 563.7,437.2 566.3,438.7 568.8,438.5 571.4,438.8 573.9,437 576.5,437.1 579,438.5 581.6,438.3 584.1,437.6 586.6,437.9 589.2,437 591.7,439.5 594.3,437.4 596.8,439.2 599.4,438.4 601.9,439.1 604.5,437.5 607,438.7 609.6,438.6 612.1,439.1 614.6,437.8 617.2,439.7 619.7,439.9 622.3,435.6 624.8,432.2 627.4,438.6 629.9,438.3 632.5,438.8 635,439.6 637.6,438.8 640.1,438.7 642.7,439.1 645.2,438.3 647.7,437.5 650.3,436.9 652.8,436.9 655.4,437.3 657.9,435.7 660.5,435 663,435.1 665.6,434.3 668.1,431.8 670.7,432 673.2,430 675.8,427.2 678.3,425.7" fill="none" stroke="#1700F2" stroke-width="1.1" />
<polyline points="423.7,433.6 426.2,435.9 428.8,436.3 431.3,438.5 433.9,438.3 436.4,439.2 439,437 441.5,438.7 444.1,439.1 446.6,437.3 449.2,438.4 451.7,434.3 454.3,438.8 456.8,437.8 459.3,434.5 461.9,438.8 464.4,437.7 467,439.3 469.5,437.8 472.1,437.4 474.6,438.8 477.2,438.6 479.7,438.6 482.3,438 484.8,439 487.3,439.4 489.9,439.1 492.4,438.9 495,430.9 497.5,439 500.1,437 502.6,438.9 505.2,437.6 507.7,435.9 510.3,436.8 512.8,436.5 515.4,437.7 517.9,437.3 520.4,436.9 523,437.6 525.5,437.8 528.1,436.6 530.6,438 533.2,437 535.7,438.3 538.3,437.4 540.8,438 543.4,432.9 545.9,437 548.5,435.9 551,437.2 553.5,437.9 556.1,438.1 558.6,438 561.2,437.5 563.7,438.5 566.3,437.9 568.8,437.6 571.4,436.8 573.9,438.2 576.5,438.9 579,436.9 581.6,437.6 584.1,438.9 586.6,438.4 589.2,435.7 591.7,438.3 594.3,437.1 596.8,438.7 599.4,438.7 601.9,439.3 604.5,438.8 607,438.9 609.6,438.9 612.1,437.8 614.6,438.5 617.2,439.3 619.7,433 622.3,439.5 624.8,439.5 627.4,438.1 629.9,438 632.5,439.5 635,437.7 637.6,433.2 640.1,438.7 642.7,439.3 645.2,434.4 647.7,438.5 650.3,438.9 652.8,438.6 655.4,436.9 657.9,436.3 660.5,436.2 663,435.1 665.6,433.5 668.1,432.9 670.7,430.3 673.2,429.5 675.8,427.9 678.3,421" fill="none" stroke="#1700F2" stroke-width="1.1" />
<polyline points="423.7,434.7 426.2,434 428.8,436.2 431.3,438.9 433.9,438.5 436.4,436.8 439,437 441.5,437.1 444.1,437.5 446.6,438.3 449.2,439.4 451.7,439.4 454.3,439.6 456.8,439.2 459.3,439.2 461.9,437.5 464.4,438.3 467,439.7 469.5,438 472.1,439.5 474.6,439.4 477.2,439.1 479.7,439.4 482.3,438.9 484.8,438.8 487.3,438.8 489.9,438.8 492.4,437.9 495,438.3 497.5,437.7 500.1,436.9 502.6,438.2 505.2,438.2 507.7,439 510.3,438.3 512.8,438.3 515.4,437.3 517.9,436.3 520.4,438.5 523,436.8 525.5,438.2 528.1,436.6 530.6,438 533.2,436.7 535.7,436.5 538.3,436.1 540.8,438 543.4,437.7 545.9,437.7 548.5,436.6 551,437.3 553.5,436.1 556.1,436.8 558.6,438.1 561.2,436.9 563.7,437.4 566.3,437.2 568.8,432.7 571.4,436.9 573.9,437.5 576.5,438 579,434.9 581.6,439 584.1,436.9 586.6,437.3 589.2,438.3 591.7,437.1 594.3,437.4 596.8,439.4 599.4,438.4 601.9,439.4 604.5,439.4 607,438.4 609.6,438.7 612.1,439.8 614.6,437.8 617.2,437.9 619.7,437.5 622.3,437.6 624.8,438.7 627.4,437.3 629.9,438.9 632.5,439.1 635,438.3 637.6,437.5 640.1,437.5 642.7,437.8 645.2,438.3 647.7,437.5 650.3,439 652.8,437.3 655.4,436.1 657.9,435.3 660.5,436.7 663,434.6 665.6,432.8 668.1,433 670.7,429.7 673.2,424.2 675.8,428.8 678.3,426.8" fill="none" stroke="#1700F2" stroke-width="1.1" />
<polyline points="423.7,433.4 426.2,435.9 428.8,436.9 431.3,438.7 433.9,438.1 436.4,432.2 439,438.1 441.5,438.4 444.1,438.1 446.6,439.2 449.2,438.1 451.7,437.3 454.3,431.3 456.8,438.4 459.3,439.8 461.9,438.8 464.4,438.4 467,438.9 469.5,439.5 472.1,438.3 474.6,439.4 477.2,434.9 479.7,438.3 482.3,438.2 484.8,438.4 487.3,438.5 489.9,437.9 492.4,437.4 495,439.2 497.5,438.4 500.1,437 502.6,438.4 505.2,436.8 507.7,437.6 510.3,436.6 512.8,438.8 515.4,437.3 517.9,437.8 520.4,437.8 523,436.1 525.5,438.4 528.1,433.9 530.6,436 533.2,437 535.7,437.1 538.3,438.1 540.8,437.3 543.4,437.9 545.9,436.7 548.5,437.1 551,437.1 553.5,436.6 556.1,437.3 558.6,436.2 561.2,437.5 563.7,436.2 566.3,436.7 568.8,438.6 571.4,433.9 573.9,437.2 576.5,438.2 579,437.4 581.6,437.1 584.1,437.7 586.6,437 589.2,438.1 591.7,437.4 594.3,438.5 596.8,438.6 599.4,439.2 601.9,439.7 604.5,439 607,439.3 609.6,439.3 612.1,439.5 614.6,439.1 617.2,439 619.7,435.5 622.3,439.1 624.8,439.5 627.4,439.2 629.9,437.5 632.5,439.2 635,439.1 637.6,438 640.1,438.5 642.7,437.8 645.2,436.9 647.7,434.6 650.3,438.3 652.8,437.4 655.4,437.3 657.9,435.4 660.5,434.7 663,434.1 665.6,433 668.1,432.7 670.7,430.6 673.2,430 675.8,427.3 678.3,426.3" fill="none" stroke="#1700F2" stroke-width="1.1" />
<polyline points="423.7,433.8 426.2,433.9 428.8,435.9 431.3,436.7 433.9,438.3 436.4,438.3 439,438.7 441.5,435.5 444.1,439.3 446.6,439 449.2,438.6 451.7,438.9 454.3,438.6 456.8,439.1 459.3,438.9 461.9,438.8 464.4,437.7 467,439.3 469.5,437.9 472.1,439.3 474.6,439.7 477.2,438.6 479.7,439.1 482.3,434.1 484.8,439.4 487.3,437.9 489.9,431.3 492.4,438.1 495,437.4 497.5,437.7 500.1,437.3 502.6,439 505.2,438.8 507.7,434.5 510.3,438 512.8,437 515.4,437.7 517.9,438.3 520.4,436.6 523,437.2 525.5,436.2 528.1,436.1 530.6,436.6 533.2,436.1 535.7,438.1 538.3,437.7 540.8,436.1 543.4,437.4 545.9,438.2 548.5,436.8 551,436.7 553.5,437.6 556.1,438.3 558.6,437.5 561.2,437.1 563.7,436.5 566.3,436.8 568.8,436.8 571.4,438.7 573.9,438.4 576.5,436.6 579,436.7 581.6,436.9 584.1,433.8 586.6,438.4 589.2,439.2 591.7,433.3 594.3,437.5 596.8,439.5 599.4,438.7 601.9,437.4 604.5,437.7 607,439.8 609.6,439.6 612.1,439.2 614.6,437.5 617.2,439.4 619.7,438.1 622.3,439.5 624.8,437.4 627.4,438.1 629.9,438.5 632.5,436.9 635,438.2 637.6,438.2 640.1,439.1 642.7,437.5 645.2,437.6 647.7,438.2 650.3,437.7 652.8,437.3 655.4,436.3 657.9,436.1 660.5,434.6 663,434.7 665.6,429.6 668.1,431.5 670.7,430.1 673.2,429.7 675.8,428.6 678.3,424.9" fill="none" stroke="#1700F2" stroke-width="1.1" />
<polyline points="423.7,481.9 426.2,482.1 428.8,495.7 431.3,495.7 433.9,483.6 436.4,490.1 439,487.4 441.5,490.6 444.1,495.8 446.6,484.7 449.2,485.7 451.7,493.4 454.3,486.7 456.8,492.2 459.3,486 461.9,484.8 464.4,487.9 467,493 469.5,488 472.1,493.9 474.6,484.4 477.2,483.5 479.7,486.6 482.3,495.7 484.8,489.2 487.3,487.1 489.9,492.9 492.4,495.8 495,486.1 497.5,495.7 500.1,492.2 502.6,489.6 505.2,494.7 507.7,493.9 510.3,496.1 512.8,487.8 515.4,481.7 517.9,489.6 520.4,490 523,485.4 525.5,486.7 528.1,485.9 530.6,494.8 533.2,491.3 535.7,492.5 538.3,491.1 540.8,483.7 543.4,484.2 545.9,481.9 548.5,483.4 551,490.1 553.5,488.5 556.1,490 558.6,496.3 561.2,483.3 563.7,485.6 566.3,494.4 568.8,486.6 571.4,493.3 573.9,492.1 576.5,484.6 579,483.2 581.6,487 584.1,495.4 586.6,491.7 589.2,484.8 591.7,492.2 594.3,489.5 596.8,490.1 599.4,491.6 601.9,489 604.5,495.2 607,491.7 609.6,491.5 612.1,487 614.6,491.1 617.2,488.6 619.7,495.8 622.3,487.5 624.8,496.1 627.4,490.9 629.9,488 632.5,486 635,481.8 637.6,490.2 640.1,495.8 642.7,491.7 645.2,492.8 647.7,482.8 650.3,496 652.8,491.7 655.4,482.5 657.9,487.6 660.5,494.4 663,493 665.6,488.1 668.1,489.2 670.7,487.8 673.2,484.8 675.8,492.2 678.3,489.9" fill="none" stroke="#1700F2" stroke-width="0.45" opacity="0.7"/>
<polyline points="423.7,496.3 426.2,487.5 428.8,482.7 431.3,481.8 433.9,486.4 436.4,488.8 439,495.6 441.5,491.8 444.1,486.6 446.6,489.8 449.2,488.4 451.7,494.7 454.3,492.2 456.8,492.4 459.3,495.8 461.9,483.7 464.4,494.4 467,489.6 469.5,489.7 472.1,482.5 474.6,484.4 477.2,494 479.7,482.5 482.3,484.3 484.8,484.8 487.3,484.9 489.9,482.3 492.4,483.3 495,485.6 497.5,488.5 500.1,487.1 502.6,483.2 505.2,492.4 507.7,483.7 510.3,486.4 512.8,489.1 515.4,488 517.9,485.2 520.4,494.4 523,491.1 525.5,494.2 528.1,489.9 530.6,486.7 533.2,489.7 535.7,486.8 538.3,489.5 540.8,483.4 543.4,484.5 545.9,492.3 548.5,489.1 551,481.8 553.5,490 556.1,493.3 558.6,495.9 561.2,491.9 563.7,482.1 566.3,488.2 568.8,492.1 571.4,496 573.9,489.5 576.5,494.6 579,493.6 581.6,487 584.1,484.7 586.6,482.7 589.2,484 591.7,483.2 594.3,488.6 596.8,489.6 599.4,490.3 601.9,482.9 604.5,484.3 607,484.3 609.6,494.8 612.1,494.1 614.6,484.8 617.2,487.1 619.7,482.8 622.3,493.9 624.8,493.8 627.4,494.4 629.9,494.5 632.5,494.8 635,481.7 637.6,492.8 640.1,484 642.7,487.7 645.2,494.3 647.7,481.6 650.3,484.2 652.8,493.5 655.4,487.6 657.9,489.1 660.5,490.2 663,490.9 665.6,491.3 668.1,490.3 670.7,485.5 673.2,493.6 675.8,482 678.3,483.4" fill="none" stroke="#1700F2" stroke-width="0.45" opacity="0.7"/>
<polygon points="423.3,444 423.3,377 428.3,337.1 428.8,336.6 430,335.3 433,332.5 437,329.9 443,327.2 452,324.3 461,322.4 470,320.7 479,319 488,317.3 497,316.2 506,315.3 515,314.6 524,314 533,313.4 542,313 551,312.5 560,312.2 569,311.8 578,311.5 587,311.2 596,310.9 605,310.6 614,310.2 623,309.9 632,309.5 641,309.3 650,309 659,308.8 668,308.6 677,308.4 678.5,308.4 678.5,345.8 677,345.9 668,346.5 659,347.2 650,347.9 641,348.6 632,349.3 623,350.1 614,350.8 605,351.6 596,352.4 587,353.1 578,353.9 569,354.6 560,355.3 551,356.1 542,356.9 533,357.8 524,358.7 515,359.6 506,360.6 497,361.7 488,362.9 479,364.2 470,365.9 461,368.1 452,370.8 443,374.4 437,377.3 433,380 430,383.5 428.8,385.2 427.3,444" fill="#FF2314" />
<polyline points="424.6,444 428.8,336.6 430,335.3 433,332.5 437,329.9 443,327.2 452,324.3 461,322.4 470,320.7 479,319 488,317.3 497,316.2 506,315.3 515,314.6 524,314 533,313.4 542,313 551,312.5 560,312.2 569,311.8 578,311.5 587,311.2 596,310.9 605,310.6 614,310.2 623,309.9 632,309.5 641,309.3 650,309 659,308.8 668,308.6 677,308.4 678.5,308.4" fill="none" stroke="#FF2314" stroke-width="1.0" />
<polyline points="424.6,444 428.8,337.1 430,335.9 433,333.1 437,330.5 443,327.7 452,324.9 461,322.9 470,321.2 479,319.6 488,317.9 497,316.7 506,315.9 515,315.1 524,314.5 533,314 542,313.5 551,313.1 560,312.7 569,312.4 578,312 587,311.7 596,311.4 605,311 614,310.7 623,310.3 632,310 641,309.7 650,309.5 659,309.3 668,309.1 677,308.9 678.5,308.8" fill="none" stroke="#FF2314" stroke-width="1.0" />
<polyline points="424.6,444 428.8,338 430,336.7 433,333.9 437,331.4 443,328.6 452,325.7 461,323.7 470,322 479,320.4 488,318.7 497,317.6 506,316.7 515,316 524,315.3 533,314.8 542,314.3 551,313.8 560,313.5 569,313.1 578,312.8 587,312.5 596,312.1 605,311.8 614,311.4 623,311.1 632,310.7 641,310.4 650,310.2 659,309.9 668,309.7 677,309.5 678.5,309.5" fill="none" stroke="#FF2314" stroke-width="1.0" />
<polyline points="424.6,444 428.8,339 430,337.7 433,334.9 437,332.3 443,329.5 452,326.7 461,324.6 470,322.9 479,321.3 488,319.6 497,318.5 506,317.6 515,316.9 524,316.2 533,315.7 542,315.2 551,314.7 560,314.3 569,314 578,313.7 587,313.3 596,313 605,312.6 614,312.2 623,311.9 632,311.5 641,311.2 650,311 659,310.7 668,310.5 677,310.3 678.5,310.3" fill="none" stroke="#FF2314" stroke-width="1.0" />
<polyline points="424.6,444 428.8,385.2 430,383.5 433,380 437,377.3 443,374.4 452,370.8 461,368.1 470,365.9 479,364.2 488,362.9 497,361.7 506,360.6 515,359.6 524,358.7 533,357.8 542,356.9 551,356.1 560,355.3 569,354.6 578,353.9 587,353.1 596,352.4 605,351.6 614,350.8 623,350.1 632,349.3 641,348.6 650,347.9 659,347.2 668,346.5 677,345.9 678.5,345.8" fill="none" stroke="#FF2314" stroke-width="1.0" />
<polyline points="424.6,444 428.8,384.5 430,382.8 433,379.3 437,376.6 443,373.7 452,370.1 461,367.4 470,365.2 479,363.5 488,362.2 497,361 506,360 515,359 524,358 533,357.1 542,356.3 551,355.4 560,354.7 569,353.9 578,353.2 587,352.5 596,351.8 605,351 614,350.2 623,349.5 632,348.7 641,348 650,347.3 659,346.6 668,346 677,345.3 678.5,345.2" fill="none" stroke="#FF2314" stroke-width="1.0" />
<polyline points="424.6,444 428.8,383.3 430,381.5 433,378.1 437,375.4 443,372.5 452,368.9 461,366.3 470,364.1 479,362.4 488,361.1 497,359.9 506,358.8 515,357.8 524,356.9 533,356 542,355.2 551,354.4 560,353.6 569,352.9 578,352.2 587,351.5 596,350.7 605,350 614,349.2 623,348.5 632,347.7 641,347 650,346.3 659,345.7 668,345 677,344.4 678.5,344.3" fill="none" stroke="#FF2314" stroke-width="1.0" />
<polyline points="424.6,444 428.8,381.8 430,380.1 433,376.7 437,374 443,371.1 452,367.5 461,364.9 470,362.7 479,361 488,359.7 497,358.5 506,357.5 515,356.5 524,355.6 533,354.7 542,353.8 551,353 560,352.3 569,351.6 578,350.9 587,350.2 596,349.5 605,348.7 614,348 623,347.3 632,346.5 641,345.8 650,345.2 659,344.5 668,343.9 677,343.3 678.5,343.2" fill="none" stroke="#FF2314" stroke-width="1.0" />
<polyline points="424.6,444 428.8,343.1 430,341.7 433,338.8 437,336.3 443,333.5 452,330.6 461,328.5 470,326.7 479,325.1 488,323.4 497,322.3 506,321.4 515,320.6 524,320 533,319.4 542,318.8 551,318.4 560,317.9 569,317.6 578,317.2 587,316.8 596,316.4 605,316 614,315.6 623,315.2 632,314.9 641,314.5 650,314.2 659,313.9 668,313.7 677,313.4 678.5,313.4" fill="none" stroke="#FF2314" stroke-width="1.0" />
<polyline points="424.6,444 428.8,363 430,361.5 433,358.3 437,355.7 443,352.8 452,349.6 461,347.2 470,345.3 479,343.6 488,342.1 497,340.9 506,340 515,339.1 524,338.3 533,337.5 542,336.9 551,336.2 560,335.6 569,335.1 578,334.5 587,334 596,333.4 605,332.9 614,332.3 623,331.7 632,331.2 641,330.6 650,330.1 659,329.7 668,329.2 677,328.8 678.5,328.7" fill="none" stroke="#FF2314" stroke-width="1.0" />
<polyline points="424.6,444 428.8,358.5 430,357 433,353.9 437,351.3 443,348.5 452,345.3 461,343 470,341.1 479,339.4 488,337.9 497,336.7 506,335.8 515,334.9 524,334.1 533,333.4 542,332.8 551,332.2 560,331.6 569,331.1 578,330.6 587,330.1 596,329.6 605,329.1 614,328.5 623,328 632,327.5 641,327 650,326.5 659,326.1 668,325.7 677,325.3 678.5,325.3" fill="none" stroke="#FF2314" stroke-width="1.0" />
<polyline points="424.6,444 428.8,358.2 430,356.7 433,353.6 437,351 443,348.1 452,345 461,342.7 470,340.8 479,339.1 488,337.6 497,336.4 506,335.5 515,334.6 524,333.8 533,333.1 542,332.5 551,331.9 560,331.3 569,330.8 578,330.3 587,329.8 596,329.3 605,328.8 614,328.2 623,327.7 632,327.2 641,326.7 650,326.3 659,325.9 668,325.4 677,325.1 678.5,325" fill="none" stroke="#FF2314" stroke-width="1.0" />
<polyline points="424.6,444 428.8,356.5 430,355 433,352 437,349.3 443,346.5 452,343.4 461,341.1 470,339.2 479,337.6 488,336 497,334.8 506,333.9 515,333.1 524,332.3 533,331.6 542,331 551,330.4 560,329.9 569,329.4 578,328.9 587,328.4 596,327.9 605,327.4 614,326.9 623,326.3 632,325.8 641,325.4 650,324.9 659,324.5 668,324.1 677,323.8 678.5,323.7" fill="none" stroke="#FF2314" stroke-width="1.0" />
<polyline points="424.6,444 428.8,340.2 430,338.9 433,336 437,333.5 443,330.7 452,327.8 461,325.8 470,324 479,322.4 488,320.7 497,319.6 506,318.7 515,318 524,317.3 533,316.8 542,316.3 551,315.8 560,315.4 569,315 578,314.7 587,314.4 596,314 605,313.6 614,313.2 623,312.9 632,312.5 641,312.2 650,311.9 659,311.7 668,311.4 677,311.2 678.5,311.2" fill="none" stroke="#FF2314" stroke-width="1.0" />
<polyline points="430,337 433,334.1 437,331.6 443,328.8 452,326 461,324 470,322.2 479,320.6 488,318.9 497,317.8 506,316.9 515,316.2 524,315.5 533,315 542,314.5 551,314.1 560,313.7 569,313.3 578,313 587,312.7 596,312.4 605,312 614,311.6 623,311.3 632,310.9 641,310.6 650,310.4 659,310.1 668,309.9 677,309.7 678.5,309.7" fill="none" stroke="#fff" stroke-width="0.5" opacity="0.85"/>
<polyline points="430,381.3 433,377.9 437,375.2 443,372.2 452,368.7 461,366 470,363.9 479,362.2 488,360.8 497,359.7 506,358.6 515,357.6 524,356.7 533,355.8 542,354.9 551,354.1 560,353.4 569,352.7 578,352 587,351.2 596,350.5 605,349.8 614,349 623,348.3 632,347.5 641,346.8 650,346.1 659,345.5 668,344.8 677,344.2 678.5,344.1" fill="none" stroke="#fff" stroke-width="0.5" opacity="0.85"/>
<polyline points="430,380.1 433,376.7 437,374 443,371.1 452,367.5 461,364.9 470,362.7 479,361 488,359.7 497,358.5 506,357.5 515,356.5 524,355.6 533,354.7 542,353.8 551,353 560,352.3 569,351.6 578,350.9 587,350.2 596,349.5 605,348.7 614,348 623,347.3 632,346.5 641,345.8 650,345.2 659,344.5 668,343.9 677,343.3 678.5,343.2" fill="none" stroke="#fff" stroke-width="0.35" opacity="0.85"/>
</g>
<rect x="422.9" y="289.3" width="255.4" height="205.1" fill="none" stroke="#111" stroke-width="1.05"/>
<path d="M423.7 494.4v4.2M551 494.4v4.2M678.3 494.4v4.2M487.3 494.4v2.3M614.6 494.4v2.3" stroke="#111" stroke-width="1.0" fill="none"/>
<text x="423.7" y="508.7" font-size="9.6" text-anchor="middle" fill="#111" font-weight="normal" >0.0</text>
<text x="551" y="508.7" font-size="9.6" text-anchor="middle" fill="#111" font-weight="normal" >0.5</text>
<text x="678.3" y="508.7" font-size="9.6" text-anchor="middle" fill="#111" font-weight="normal" >1.0</text>
<path d="M422.9 289.3h-4.2M422.9 330.3h-4.2M422.9 371.3h-4.2M422.9 412.4h-4.2M422.9 453.4h-4.2M422.9 494.4h-4.2M422.9 309.8h-3.4M422.9 350.8h-3.4M422.9 391.9h-3.4M422.9 432.9h-3.4M422.9 473.9h-3.4M422.9 303.6h-2.3M422.9 300h-2.3M422.9 297.5h-2.3M422.9 295.5h-2.3M422.9 293.9h-2.3M422.9 292.5h-2.3M422.9 291.3h-2.3M422.9 290.2h-2.3M422.9 324.1h-2.3M422.9 320.5h-2.3M422.9 318h-2.3M422.9 316h-2.3M422.9 314.4h-2.3M422.9 313h-2.3M422.9 311.8h-2.3M422.9 310.7h-2.3M422.9 344.7h-2.3M422.9 341h-2.3M422.9 338.5h-2.3M422.9 336.5h-2.3M422.9 334.9h-2.3M422.9 333.5h-2.3M422.9 332.3h-2.3M422.9 331.3h-2.3M422.9 365.2h-2.3M422.9 361.6h-2.3M422.9 359h-2.3M422.9 357h-2.3M422.9 355.4h-2.3M422.9 354h-2.3M422.9 352.8h-2.3M422.9 351.8h-2.3M422.9 385.7h-2.3M422.9 382.1h-2.3M422.9 379.5h-2.3M422.9 377.5h-2.3M422.9 375.9h-2.3M422.9 374.5h-2.3M422.9 373.3h-2.3M422.9 372.3h-2.3M422.9 406.2h-2.3M422.9 402.6h-2.3M422.9 400h-2.3M422.9 398h-2.3M422.9 396.4h-2.3M422.9 395h-2.3M422.9 393.8h-2.3M422.9 392.8h-2.3M422.9 426.7h-2.3M422.9 423.1h-2.3M422.9 420.5h-2.3M422.9 418.5h-2.3M422.9 416.9h-2.3M422.9 415.5h-2.3M422.9 414.3h-2.3M422.9 413.3h-2.3M422.9 447.2h-2.3M422.9 443.6h-2.3M422.9 441h-2.3M422.9 439h-2.3M422.9 437.4h-2.3M422.9 436h-2.3M422.9 434.9h-2.3M422.9 433.8h-2.3M422.9 467.7h-2.3M422.9 464.1h-2.3M422.9 461.5h-2.3M422.9 459.6h-2.3M422.9 457.9h-2.3M422.9 456.6h-2.3M422.9 455.4h-2.3M422.9 454.3h-2.3M422.9 488.2h-2.3M422.9 484.6h-2.3M422.9 482.1h-2.3M422.9 480.1h-2.3M422.9 478.4h-2.3M422.9 477.1h-2.3M422.9 475.9h-2.3M422.9 474.8h-2.3" stroke="#111" stroke-width="1.0" fill="none"/>
<text x="416" y="292.6" font-size="9.9" text-anchor="end" fill="#111" font-weight="normal" >10<tspan font-size="6.1" dy="-3.7">-5</tspan></text>
<text x="416" y="333.6" font-size="9.9" text-anchor="end" fill="#111" font-weight="normal" >10<tspan font-size="6.1" dy="-3.7">-7</tspan></text>
<text x="416" y="374.6" font-size="9.9" text-anchor="end" fill="#111" font-weight="normal" >10<tspan font-size="6.1" dy="-3.7">-9</tspan></text>
<text x="416" y="415.7" font-size="9.9" text-anchor="end" fill="#111" font-weight="normal" >10<tspan font-size="6.1" dy="-3.7">-11</tspan></text>
<text x="416" y="456.7" font-size="9.9" text-anchor="end" fill="#111" font-weight="normal" >10<tspan font-size="6.1" dy="-3.7">-13</tspan></text>
<text x="416" y="497.7" font-size="9.9" text-anchor="end" fill="#111" font-weight="normal" >10<tspan font-size="6.1" dy="-3.7">-15</tspan></text>
<text x="357.7" y="284" font-size="11.4" text-anchor="start" fill="#111" font-weight="bold" >d</text>
<text x="552" y="524.6" font-size="11.6" text-anchor="middle" fill="#111" font-weight="normal" ><tspan font-style="italic">V</tspan><tspan font-size="8.1" dy="2.5">DS</tspan><tspan dy="-2.5">&#8203;</tspan> (V)</text>
<g transform="translate(387.3,388.5) rotate(-90)">
<text x="0" y="0" font-size="11.6" text-anchor="middle" fill="#111" font-weight="normal" ><tspan font-style="italic">I</tspan><tspan font-size="8.1" dy="2.5">DS</tspan><tspan dy="-2.5">&#8203;</tspan> (A)</text>
</g>
<text x="600.5" y="302.9" font-size="11.0" text-anchor="start" fill="#E8392D" font-weight="normal" >State-ON</text>
<text x="600.9" y="425.4" font-size="11.0" text-anchor="start" fill="#2B1FD9" font-weight="normal" >State-OFF</text>
<text x="437.5" y="304.8" font-size="11.0" text-anchor="start" fill="#111" font-weight="normal" >@ <tspan font-style="italic">V</tspan><tspan font-size="7.6" dy="2.3">GS</tspan><tspan dy="-2.3">&#8203;</tspan> = 0 V</text>
</g>
<g id="panel-e">
<path d="M56.6 601.6V570.7H274.3M281.1 570.7H311.6V720.8H296.6M256.7 570.7V601.6" fill="none" stroke="#111" stroke-width="1.35"/>
<path d="M274.3 560.9V580.3M281.1 553.1V587.3" fill="none" stroke="#111" stroke-width="1.35"/>
<rect x="16.7" y="601.6" width="80" height="20.8" fill="#EFC231" stroke="#8F7A2E" stroke-width="0.7"/>
<rect x="216.5" y="601.6" width="80.1" height="20.8" fill="#EFC231" stroke="#8F7A2E" stroke-width="0.7"/>
<rect x="16.7" y="625.4" width="279.9" height="5.9" fill="#3C7CC8" stroke="#3568A8" stroke-width="0.5"/>
<rect x="16.7" y="634.2" width="279.9" height="19.4" fill="#E6E6E6" stroke="#8C8C8C" stroke-width="0.7"/>
<rect x="16.7" y="656.3" width="279.9" height="10.1" fill="#ABABAB" stroke="#6E6E6E" stroke-width="0.7"/>
<rect x="16.7" y="669.5" width="279.9" height="32.7" fill="#E6E6E6" stroke="#8C8C8C" stroke-width="0.7"/>
<rect x="16.7" y="705.2" width="279.9" height="28.1" fill="#EFC231" stroke="#8F7A2E" stroke-width="0.7"/>
<rect x="16.7" y="735.4" width="279.9" height="46.2" fill="#7F8080" stroke="#6A6B6B" stroke-width="0.7"/>
<text x="0.2" y="556.6" font-size="11.4" text-anchor="start" fill="#111" font-weight="bold" >e</text>
<text x="70.4" y="595.8" font-size="11.0" text-anchor="start" fill="#111" font-weight="normal" >Source</text>
<text x="201.9" y="595.8" font-size="11.0" text-anchor="start" fill="#111" font-weight="normal" >Drain</text>
<text x="157.2" y="621.5" font-size="11.0" text-anchor="middle" fill="#111" font-weight="normal" >MoS<tspan font-size="7.6" dy="2.3">2</tspan><tspan dy="-2.3">&#8203;</tspan></text>
<text x="157.6" y="648.2" font-size="11.0" text-anchor="middle" fill="#111" font-weight="normal" >HfO<tspan font-size="7.6" dy="2.3">2</tspan><tspan dy="-2.3">&#8203;</tspan></text>
<text x="154.4" y="666.4" font-size="11.0" text-anchor="middle" fill="#111" font-weight="normal" >Pt</text>
<text x="157.6" y="688.9" font-size="11.0" text-anchor="middle" fill="#111" font-weight="normal" >HfO<tspan font-size="7.6" dy="2.3">2</tspan><tspan dy="-2.3">&#8203;</tspan></text>
<text x="157.5" y="721.7" font-size="11.0" text-anchor="middle" fill="#111" font-weight="normal" >Gate</text>
<text x="296.6" y="561.5" font-size="11.0" text-anchor="start" fill="#111" font-weight="normal" ><tspan font-style="italic">V</tspan><tspan font-size="7.6" dy="2.3">G</tspan><tspan dy="-2.3">&#8203;</tspan></text>
</g>
<g id="panel-f">
<clipPath id="cf"><rect x="423.4" y="567.4" width="255.5" height="199.49999999999997"/></clipPath>
<g clip-path="url(#cf)">
<polyline points="423.4,837.3 428.5,828.8 433.6,820.4 438.7,812.1 443.8,803.9 448.9,795.9 454,788.1 459.1,780.4 464.2,773 469.3,765.8 474.4,758.8 479.5,752 484.6,745.5 489.7,739.1 494.8,733 499.9,727 505,721.2 510.1,715.7 515.2,710.3 520.3,705 525.4,700 530.5,695.1 535.6,690.3 540.7,685.8 545.8,681.3 550.9,677 556,672.8 561.1,668.7 566.2,664.8 571.3,661 576.4,657.3 581.5,653.7 586.6,650.2 591.7,646.8 596.8,643.5 601.9,640.3 607,637.2 612.1,634.2 617.2,631.2 622.3,628.3 627.4,625.5 632.5,622.8 637.6,620.2 642.7,617.6 647.8,615.1 652.9,612.6 658,610.3 663.1,607.9 668.2,605.7 673.3,603.4 678.4,601.3 683.5,599.2" fill="none" stroke="#A42CF2" stroke-width="1.9" />
<polyline points="423.4,827 428.5,817.3 433.6,807.9 438.7,798.9 443.8,790.2 448.9,781.8 454,773.8 459.1,766.1 464.2,758.6 469.3,751.5 474.4,744.6 479.5,737.9 484.6,731.5 489.7,725.4 494.8,719.4 499.9,713.7 505,708.2 510.1,702.9 515.2,697.7 520.3,692.7 525.4,687.9 530.5,683.3 535.6,678.8 540.7,674.4 545.8,670.2 550.9,666.1 556,662.1 561.1,658.3 566.2,654.5 571.3,650.9 576.4,647.4 581.5,643.9 586.6,640.6 591.7,637.4 596.8,634.2 601.9,631.1 607,628.1 612.1,625.2 617.2,622.4 622.3,619.6 627.4,616.9 632.5,614.3 637.6,611.7 642.7,609.2 647.8,606.8 652.9,604.4 658,602.1 663.1,599.8 668.2,597.6 673.3,595.4 678.4,593.2 683.5,591.2" fill="none" stroke="#3A1FE0" stroke-width="1.9" />
<polyline points="423.4,814.4 428.5,803.6 433.6,793.5 438.7,783.9 443.8,774.9 448.9,766.4 454,758.2 459.1,750.5 464.2,743.2 469.3,736.2 474.4,729.5 479.5,723.1 484.6,716.9 489.7,711 494.8,705.4 499.9,700 505,694.7 510.1,689.7 515.2,684.8 520.3,680.2 525.4,675.6 530.5,671.2 535.6,667 540.7,662.9 545.8,658.9 550.9,655.1 556,651.3 561.1,647.7 566.2,644.2 571.3,640.7 576.4,637.4 581.5,634.1 586.6,631 591.7,627.9 596.8,624.9 601.9,621.9 607,619.1 612.1,616.3 617.2,613.5 622.3,610.8 627.4,608.2 632.5,605.7 637.6,603.2 642.7,600.7 647.8,598.3 652.9,596 658,593.7 663.1,591.4 668.2,589.2 673.3,587.1 678.4,584.9 683.5,582.9" fill="none" stroke="#55E62F" stroke-width="1.9" />
<polyline points="423.4,792.3 428.5,783.2 433.6,774.4 438.7,766 443.8,757.9 448.9,750.2 454,742.8 459.1,735.6 464.2,728.8 469.3,722.2 474.4,715.9 479.5,709.8 484.6,703.9 489.7,698.3 494.8,692.8 499.9,687.6 505,682.5 510.1,677.6 515.2,672.9 520.3,668.4 525.4,664 530.5,659.7 535.6,655.6 540.7,651.6 545.8,647.7 550.9,643.9 556,640.3 561.1,636.7 566.2,633.3 571.3,630 576.4,626.7 581.5,623.6 586.6,620.5 591.7,617.5 596.8,614.6 601.9,611.8 607,609 612.1,606.3 617.2,603.7 622.3,601.2 627.4,598.7 632.5,596.2 637.6,593.9 642.7,591.5 647.8,589.3 652.9,587 658,584.9 663.1,582.7 668.2,580.7 673.3,578.6 678.4,576.7 683.5,574.7" fill="none" stroke="#F4F03A" stroke-width="1.9" />
<polyline points="423.4,773.2 428.5,765 433.6,757 438.7,749.3 443.8,741.8 448.9,734.6 454,727.6 459.1,720.9 464.2,714.4 469.3,708.1 474.4,702 479.5,696.2 484.6,690.6 489.7,685.1 494.8,679.9 499.9,674.8 505,669.9 510.1,665.2 515.2,660.6 520.3,656.2 525.4,652 530.5,647.8 535.6,643.8 540.7,640 545.8,636.2 550.9,632.6 556,629.1 561.1,625.6 566.2,622.3 571.3,619.1 576.4,616 581.5,612.9 586.6,610 591.7,607.1 596.8,604.3 601.9,601.6 607,598.9 612.1,596.4 617.2,593.9 622.3,591.4 627.4,589 632.5,586.7 637.6,584.5 642.7,582.2 647.8,580.1 652.9,578 658,575.9 663.1,573.9 668.2,572 673.3,570 678.4,568.2 683.5,566.3" fill="none" stroke="#E8352B" stroke-width="1.9" />
</g>
<path d="M423.4 586.5H652.5" stroke="#111" stroke-width="1" stroke-dasharray="4.6 3.3" fill="none"/>
<path d="M652.5 586.5V766.9" stroke="#E8352B" stroke-width="1" stroke-dasharray="4.6 3.3" fill="none"/>
<circle cx="652.5" cy="586.5" r="2.6" fill="#000"/>
<rect x="423.4" y="568" width="255" height="198.9" fill="none" stroke="#111" stroke-width="1.05"/>
<path d="M448.9 766.9v4.2M499.9 766.9v4.2M550.9 766.9v4.2M601.9 766.9v4.2M652.9 766.9v4.2M423.4 766.9v2.3M474.4 766.9v2.3M525.4 766.9v2.3M576.4 766.9v2.3M627.4 766.9v2.3M678.4 766.9v2.3" stroke="#111" stroke-width="1.0" fill="none"/>
<text x="448.9" y="780.6" font-size="9.6" text-anchor="middle" fill="#111" font-weight="normal" >6</text>
<text x="499.9" y="780.6" font-size="9.6" text-anchor="middle" fill="#111" font-weight="normal" >8</text>
<text x="550.9" y="780.6" font-size="9.6" text-anchor="middle" fill="#111" font-weight="normal" >10</text>
<text x="601.9" y="780.6" font-size="9.6" text-anchor="middle" fill="#111" font-weight="normal" >12</text>
<text x="652.9" y="780.6" font-size="9.6" text-anchor="middle" fill="#E8352B" font-weight="normal" >14</text>
<path d="M423.4 568h-4.2M423.4 596.5h-4.2M423.4 624.9h-4.2M423.4 653.4h-4.2M423.4 681.9h-4.2M423.4 710.4h-4.2M423.4 738.8h-4.2M423.4 767.3h-4.2M423.4 587.9h-2.3M423.4 582.9h-2.3M423.4 579.3h-2.3M423.4 576.6h-2.3M423.4 574.3h-2.3M423.4 572.4h-2.3M423.4 570.8h-2.3M423.4 569.3h-2.3M423.4 616.4h-2.3M423.4 611.4h-2.3M423.4 607.8h-2.3M423.4 605h-2.3M423.4 602.8h-2.3M423.4 600.9h-2.3M423.4 599.2h-2.3M423.4 597.8h-2.3M423.4 644.8h-2.3M423.4 639.8h-2.3M423.4 636.3h-2.3M423.4 633.5h-2.3M423.4 631.3h-2.3M423.4 629.4h-2.3M423.4 627.7h-2.3M423.4 626.2h-2.3M423.4 673.3h-2.3M423.4 668.3h-2.3M423.4 664.7h-2.3M423.4 662h-2.3M423.4 659.7h-2.3M423.4 657.8h-2.3M423.4 656.2h-2.3M423.4 654.7h-2.3M423.4 701.8h-2.3M423.4 696.8h-2.3M423.4 693.2h-2.3M423.4 690.5h-2.3M423.4 688.2h-2.3M423.4 686.3h-2.3M423.4 684.6h-2.3M423.4 683.2h-2.3M423.4 730.2h-2.3M423.4 725.2h-2.3M423.4 721.7h-2.3M423.4 718.9h-2.3M423.4 716.7h-2.3M423.4 714.8h-2.3M423.4 713.1h-2.3M423.4 711.7h-2.3M423.4 758.7h-2.3M423.4 753.7h-2.3M423.4 750.1h-2.3M423.4 747.4h-2.3M423.4 745.1h-2.3M423.4 743.2h-2.3M423.4 741.6h-2.3M423.4 740.1h-2.3" stroke="#111" stroke-width="1.0" fill="none"/>
<text x="416.5" y="571.3" font-size="9.9" text-anchor="end" fill="#111" font-weight="normal" >10<tspan font-size="6.1" dy="-3.7">-5</tspan></text>
<text x="416.5" y="599.8" font-size="9.9" text-anchor="end" fill="#111" font-weight="normal" >10<tspan font-size="6.1" dy="-3.7">-6</tspan></text>
<text x="416.5" y="628.2" font-size="9.9" text-anchor="end" fill="#111" font-weight="normal" >10<tspan font-size="6.1" dy="-3.7">-7</tspan></text>
<text x="416.5" y="656.7" font-size="9.9" text-anchor="end" fill="#111" font-weight="normal" >10<tspan font-size="6.1" dy="-3.7">-8</tspan></text>
<text x="416.5" y="685.2" font-size="9.9" text-anchor="end" fill="#111" font-weight="normal" >10<tspan font-size="6.1" dy="-3.7">-9</tspan></text>
<text x="416.5" y="713.6" font-size="9.9" text-anchor="end" fill="#111" font-weight="normal" >10<tspan font-size="6.1" dy="-3.7">-10</tspan></text>
<text x="416.5" y="742.1" font-size="9.9" text-anchor="end" fill="#111" font-weight="normal" >10<tspan font-size="6.1" dy="-3.7">-11</tspan></text>
<text x="416.5" y="770.6" font-size="9.9" text-anchor="end" fill="#111" font-weight="normal" >10<tspan font-size="6.1" dy="-3.7">-12</tspan></text>
<text x="356.6" y="556.6" font-size="11.4" text-anchor="start" fill="#111" font-weight="bold" >f</text>
<text x="551.3" y="796.3" font-size="11.6" text-anchor="middle" fill="#111" font-weight="normal" >Programming voltage (V)</text>
<g transform="translate(390,656.3) rotate(-90)">
<text x="0" y="0" font-size="11.6" text-anchor="middle" fill="#111" font-weight="normal" >Tunnelling current (A)</text>
</g>
<path d="M432.2 577.9H466.1" stroke="#E8352B" stroke-width="1.5"/>
<text x="474.4" y="581.2" font-size="11.0" text-anchor="start" fill="#111" font-weight="normal" >6 nm</text>
<path d="M432.2 594.2H466.1" stroke="#F4F03A" stroke-width="1.5"/>
<text x="474.4" y="597.4" font-size="11.0" text-anchor="start" fill="#111" font-weight="normal" >7 nm</text>
<path d="M432.2 610.6H466.1" stroke="#55E62F" stroke-width="1.5"/>
<text x="474.4" y="613.6" font-size="11.0" text-anchor="start" fill="#111" font-weight="normal" >8 nm</text>
<path d="M432.2 626.9H466.1" stroke="#3A1FE0" stroke-width="1.5"/>
<text x="474.4" y="629.8" font-size="11.0" text-anchor="start" fill="#111" font-weight="normal" >9 nm</text>
<path d="M432.2 643.3H466.1" stroke="#A42CF2" stroke-width="1.5"/>
<text x="474.4" y="646" font-size="11.0" text-anchor="start" fill="#111" font-weight="normal" >10 nm</text>
<text x="590.7" y="581" font-size="11.0" text-anchor="middle" fill="#111" font-weight="bold" >2.3 &#181;A</text>
<text x="623.4" y="670.9" font-size="11.0" text-anchor="middle" fill="#E8352B" font-weight="bold" >Operation voltage</text>
<text x="552.6" y="731" font-size="10.9" text-anchor="middle" fill="#111" font-weight="normal" >Tunnelling layer</text>
<text x="553.4" y="744.2" font-size="10.9" text-anchor="middle" fill="#111" font-weight="normal" >thickness decrease</text>
<path d="M541.9 712.4L500.3 658.5" stroke="#111" stroke-width="1.3" fill="none"/>
<path d="M497 654.3l7.8 4.2 -4.3 3.4z" fill="#111"/>
</g>
</svg></body></html>
